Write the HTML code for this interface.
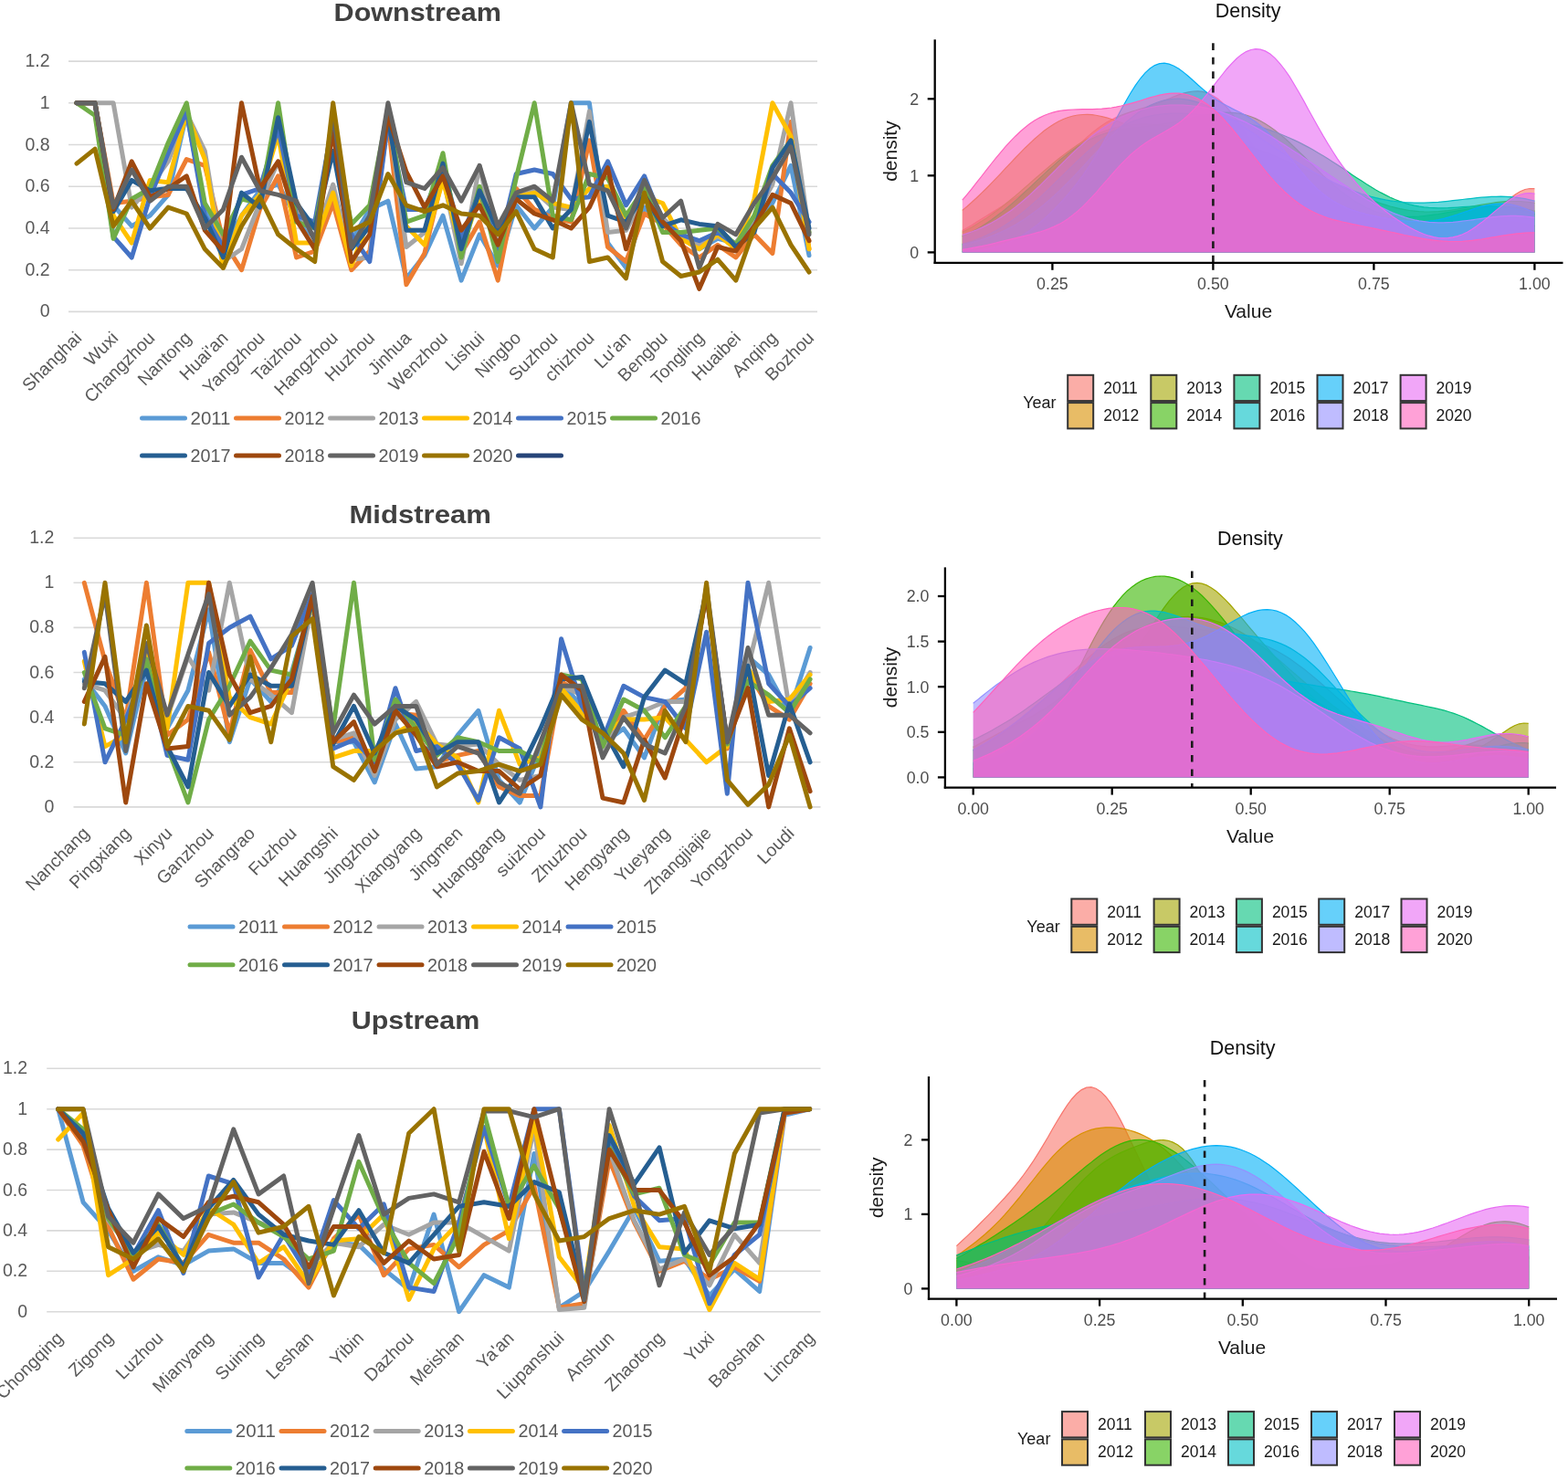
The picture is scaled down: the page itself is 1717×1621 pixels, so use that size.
<!DOCTYPE html><html><head><meta charset="utf-8"><style>html,body{margin:0;padding:0;background:#fff;}svg{display:block;}</style></head><body>
<svg width="1717" height="1621" viewBox="0 0 1717 1621" font-family="'Liberation Sans', Arial, sans-serif">
<rect width="1717" height="1621" fill="#fff"/>
<line x1="75" y1="341.4" x2="895" y2="341.4" stroke="#D9D9D9" stroke-width="1.6"/>
<text x="54.5" y="347.4" text-anchor="end" font-size="19.5" fill="#595959">0</text>
<line x1="75" y1="295.7" x2="895" y2="295.7" stroke="#D9D9D9" stroke-width="1.6"/>
<text x="54.5" y="301.7" text-anchor="end" font-size="19.5" fill="#595959">0.2</text>
<line x1="75" y1="250.0" x2="895" y2="250.0" stroke="#D9D9D9" stroke-width="1.6"/>
<text x="54.5" y="256.0" text-anchor="end" font-size="19.5" fill="#595959">0.4</text>
<line x1="75" y1="204.2" x2="895" y2="204.2" stroke="#D9D9D9" stroke-width="1.6"/>
<text x="54.5" y="210.2" text-anchor="end" font-size="19.5" fill="#595959">0.6</text>
<line x1="75" y1="158.5" x2="895" y2="158.5" stroke="#D9D9D9" stroke-width="1.6"/>
<text x="54.5" y="164.5" text-anchor="end" font-size="19.5" fill="#595959">0.8</text>
<line x1="75" y1="112.8" x2="895" y2="112.8" stroke="#D9D9D9" stroke-width="1.6"/>
<text x="54.5" y="118.8" text-anchor="end" font-size="19.5" fill="#595959">1</text>
<line x1="75" y1="67.1" x2="895" y2="67.1" stroke="#D9D9D9" stroke-width="1.6"/>
<text x="54.5" y="73.1" text-anchor="end" font-size="19.5" fill="#595959">1.2</text>
<text x="457.3" y="23.1" text-anchor="middle" font-size="28.5" font-weight="bold" fill="#404040" textLength="183.5" lengthAdjust="spacingAndGlyphs">Downstream</text>
<polyline points="84.0,112.8 104.0,112.8 124.1,224.8 144.2,247.7 164.2,236.2 184.2,213.4 204.3,124.2 224.3,227.1 244.4,272.8 264.5,236.2 284.5,208.8 304.6,202.0 324.6,238.5 344.7,261.4 364.7,220.2 384.8,263.7 404.8,229.4 424.9,220.2 444.9,304.8 464.9,279.7 485.0,236.2 505.1,307.1 525.1,256.8 545.2,291.1 565.2,224.8 585.2,250.0 605.3,227.1 625.4,112.8 645.4,112.8 665.5,266.0 685.5,293.4 705.6,227.1 725.6,245.4 745.6,259.1 765.7,272.8 785.8,261.4 805.8,266.0 825.9,245.4 845.9,222.5 866.0,181.4 886.0,279.7" fill="none" stroke="#5B9BD5" stroke-width="5" stroke-linejoin="round" stroke-linecap="round"/>
<polyline points="84.0,112.8 104.0,112.8 124.1,222.5 144.2,220.2 164.2,215.7 184.2,213.4 204.3,174.5 224.3,181.4 244.4,263.7 264.5,295.7 284.5,229.4 304.6,192.8 324.6,282.0 344.7,275.1 364.7,222.5 384.8,295.7 404.8,275.1 424.9,133.4 444.9,311.7 464.9,277.4 485.0,192.8 505.1,277.4 525.1,243.1 545.2,307.1 565.2,206.5 585.2,229.4 605.3,238.5 625.4,243.1 645.4,153.9 665.5,270.5 685.5,286.5 705.6,234.0 725.6,245.4 745.6,268.2 765.7,282.0 785.8,268.2 805.8,282.0 825.9,256.8 845.9,277.4 866.0,133.4 886.0,272.8" fill="none" stroke="#ED7D31" stroke-width="5" stroke-linejoin="round" stroke-linecap="round"/>
<polyline points="84.0,112.8 104.0,112.8 124.1,112.8 144.2,227.1 164.2,204.2 184.2,176.8 204.3,124.2 224.3,165.4 244.4,286.5 264.5,272.8 284.5,222.5 304.6,176.8 324.6,227.1 344.7,261.4 364.7,202.0 384.8,284.2 404.8,282.0 424.9,124.2 444.9,270.5 464.9,254.5 485.0,192.8 505.1,288.8 525.1,181.4 545.2,272.8 565.2,215.7 585.2,208.8 605.3,227.1 625.4,229.4 645.4,121.9 665.5,254.5 685.5,252.2 705.6,215.7 725.6,238.5 745.6,259.1 765.7,268.2 785.8,259.1 805.8,266.0 825.9,238.5 845.9,202.0 866.0,112.8 886.0,254.5" fill="none" stroke="#A5A5A5" stroke-width="5" stroke-linejoin="round" stroke-linecap="round"/>
<polyline points="84.0,112.8 104.0,112.8 124.1,236.2 144.2,266.0 164.2,197.4 184.2,199.7 204.3,124.2 224.3,174.5 244.4,293.4 264.5,236.2 284.5,213.4 304.6,147.1 324.6,266.0 344.7,266.0 364.7,211.1 384.8,291.1 404.8,238.5 424.9,128.8 444.9,247.7 464.9,268.2 485.0,197.4 505.1,272.8 525.1,215.7 545.2,272.8 565.2,215.7 585.2,211.1 605.3,222.5 625.4,227.1 645.4,206.5 665.5,204.2 685.5,238.5 705.6,215.7 725.6,222.5 745.6,261.4 765.7,272.8 785.8,256.8 805.8,272.8 825.9,218.0 845.9,112.8 866.0,149.4 886.0,272.8" fill="none" stroke="#FFC000" stroke-width="5" stroke-linejoin="round" stroke-linecap="round"/>
<polyline points="84.0,112.8 104.0,112.8 124.1,259.1 144.2,282.0 164.2,215.7 184.2,167.7 204.3,121.9 224.3,236.2 244.4,270.5 264.5,213.4 284.5,206.5 304.6,140.2 324.6,236.2 344.7,243.1 364.7,133.4 384.8,256.8 404.8,286.5 424.9,133.4 444.9,229.4 464.9,229.4 485.0,181.4 505.1,261.4 525.1,208.8 545.2,272.8 565.2,190.5 585.2,186.0 605.3,190.5 625.4,218.0 645.4,215.7 665.5,176.8 685.5,224.8 705.6,192.8 725.6,243.1 745.6,256.8 765.7,263.7 785.8,254.5 805.8,268.2 825.9,250.0 845.9,190.5 866.0,211.1 886.0,243.1" fill="none" stroke="#4472C4" stroke-width="5" stroke-linejoin="round" stroke-linecap="round"/>
<polyline points="84.0,112.8 104.0,126.5 124.1,261.4 144.2,218.0 164.2,206.5 184.2,156.2 204.3,112.8 224.3,222.5 244.4,256.8 264.5,218.0 284.5,222.5 304.6,112.8 324.6,243.1 344.7,250.0 364.7,140.2 384.8,245.4 404.8,224.8 424.9,119.7 444.9,243.1 464.9,236.2 485.0,167.7 505.1,282.0 525.1,204.2 545.2,286.5 565.2,195.1 585.2,112.8 605.3,236.2 625.4,240.8 645.4,190.5 665.5,195.1 685.5,236.2 705.6,206.5 725.6,254.5 745.6,254.5 765.7,252.2 785.8,250.0 805.8,268.2 825.9,236.2 845.9,181.4 866.0,153.9 886.0,254.5" fill="none" stroke="#70AD47" stroke-width="5" stroke-linejoin="round" stroke-linecap="round"/>
<polyline points="84.0,112.8 104.0,112.8 124.1,231.7 144.2,197.4 164.2,208.8 184.2,206.5 204.3,206.5 224.3,238.5 244.4,282.0 264.5,211.1 284.5,227.1 304.6,128.8 324.6,222.5 344.7,250.0 364.7,165.4 384.8,272.8 404.8,247.7 424.9,126.5 444.9,252.2 464.9,252.2 485.0,179.1 505.1,272.8 525.1,208.8 545.2,252.2 565.2,215.7 585.2,215.7 605.3,250.0 625.4,229.4 645.4,133.4 665.5,236.2 685.5,243.1 705.6,213.4 725.6,247.7 745.6,240.8 765.7,245.4 785.8,247.7 805.8,270.5 825.9,254.5 845.9,183.7 866.0,153.9 886.0,250.0" fill="none" stroke="#255E91" stroke-width="5" stroke-linejoin="round" stroke-linecap="round"/>
<polyline points="84.0,112.8 104.0,112.8 124.1,229.4 144.2,176.8 164.2,215.7 184.2,206.5 204.3,192.8 224.3,252.2 244.4,275.1 264.5,112.8 284.5,206.5 304.6,176.8 324.6,240.8 344.7,272.8 364.7,142.5 384.8,286.5 404.8,256.8 424.9,126.5 444.9,188.2 464.9,227.1 485.0,192.8 505.1,252.2 525.1,224.8 545.2,268.2 565.2,218.0 585.2,234.0 605.3,240.8 625.4,250.0 645.4,227.1 665.5,183.7 685.5,272.8 705.6,215.7 725.6,243.1 745.6,263.7 765.7,316.3 785.8,270.5 805.8,275.1 825.9,247.7 845.9,213.4 866.0,222.5 886.0,263.7" fill="none" stroke="#9E480E" stroke-width="5" stroke-linejoin="round" stroke-linecap="round"/>
<polyline points="84.0,112.8 104.0,112.8 124.1,227.1 144.2,186.0 164.2,220.2 184.2,204.2 204.3,204.2 224.3,250.0 244.4,229.4 264.5,172.2 284.5,208.8 304.6,213.4 324.6,220.2 344.7,263.7 364.7,124.2 384.8,270.5 404.8,236.2 424.9,112.8 444.9,199.7 464.9,206.5 485.0,183.7 505.1,220.2 525.1,181.4 545.2,247.7 565.2,211.1 585.2,204.2 605.3,220.2 625.4,112.8 645.4,202.0 665.5,208.8 685.5,250.0 705.6,197.4 725.6,238.5 745.6,220.2 765.7,293.4 785.8,245.4 805.8,256.8 825.9,222.5 845.9,195.1 866.0,160.8 886.0,256.8" fill="none" stroke="#636363" stroke-width="5" stroke-linejoin="round" stroke-linecap="round"/>
<polyline points="84.0,179.1 104.0,163.1 124.1,247.7 144.2,220.2 164.2,250.0 184.2,227.1 204.3,234.0 224.3,272.8 244.4,293.4 264.5,247.7 284.5,215.7 304.6,256.8 324.6,272.8 344.7,286.5 364.7,112.8 384.8,252.2 404.8,243.1 424.9,190.5 444.9,224.8 464.9,231.7 485.0,224.8 505.1,234.0 525.1,236.2 545.2,256.8 565.2,231.7 585.2,272.8 605.3,282.0 625.4,112.8 645.4,286.5 665.5,282.0 685.5,304.8 705.6,211.1 725.6,286.5 745.6,302.5 765.7,298.0 785.8,284.2 805.8,307.1 825.9,250.0 845.9,227.1 866.0,268.2 886.0,298.0" fill="none" stroke="#997300" stroke-width="5" stroke-linejoin="round" stroke-linecap="round"/>
<text transform="translate(90.5,371.4) rotate(-45)" text-anchor="end" font-size="19.5" fill="#595959">Shanghai</text>
<text transform="translate(130.6,371.4) rotate(-45)" text-anchor="end" font-size="19.5" fill="#595959">Wuxi</text>
<text transform="translate(170.7,371.4) rotate(-45)" text-anchor="end" font-size="19.5" fill="#595959">Changzhou</text>
<text transform="translate(210.8,371.4) rotate(-45)" text-anchor="end" font-size="19.5" fill="#595959">Nantong</text>
<text transform="translate(250.9,371.4) rotate(-45)" text-anchor="end" font-size="19.5" fill="#595959">Huai'an</text>
<text transform="translate(291.0,371.4) rotate(-45)" text-anchor="end" font-size="19.5" fill="#595959">Yangzhou</text>
<text transform="translate(331.1,371.4) rotate(-45)" text-anchor="end" font-size="19.5" fill="#595959">Taizhou</text>
<text transform="translate(371.2,371.4) rotate(-45)" text-anchor="end" font-size="19.5" fill="#595959">Hangzhou</text>
<text transform="translate(411.3,371.4) rotate(-45)" text-anchor="end" font-size="19.5" fill="#595959">Huzhou</text>
<text transform="translate(451.4,371.4) rotate(-45)" text-anchor="end" font-size="19.5" fill="#595959">Jinhua</text>
<text transform="translate(491.5,371.4) rotate(-45)" text-anchor="end" font-size="19.5" fill="#595959">Wenzhou</text>
<text transform="translate(531.6,371.4) rotate(-45)" text-anchor="end" font-size="19.5" fill="#595959">Lishui</text>
<text transform="translate(571.7,371.4) rotate(-45)" text-anchor="end" font-size="19.5" fill="#595959">Ningbo</text>
<text transform="translate(611.8,371.4) rotate(-45)" text-anchor="end" font-size="19.5" fill="#595959">Suzhou</text>
<text transform="translate(651.9,371.4) rotate(-45)" text-anchor="end" font-size="19.5" fill="#595959">chizhou</text>
<text transform="translate(692.0,371.4) rotate(-45)" text-anchor="end" font-size="19.5" fill="#595959">Lu'an</text>
<text transform="translate(732.1,371.4) rotate(-45)" text-anchor="end" font-size="19.5" fill="#595959">Bengbu</text>
<text transform="translate(772.2,371.4) rotate(-45)" text-anchor="end" font-size="19.5" fill="#595959">Tongling</text>
<text transform="translate(812.3,371.4) rotate(-45)" text-anchor="end" font-size="19.5" fill="#595959">Huaibei</text>
<text transform="translate(852.4,371.4) rotate(-45)" text-anchor="end" font-size="19.5" fill="#595959">Anqing</text>
<text transform="translate(892.5,371.4) rotate(-45)" text-anchor="end" font-size="19.5" fill="#595959">Bozhou</text>
<line x1="155.5" y1="458" x2="202.5" y2="458" stroke="#5B9BD5" stroke-width="5" stroke-linecap="round"/>
<text x="208.5" y="465" font-size="19.5" fill="#595959" textLength="44" lengthAdjust="spacingAndGlyphs">2011</text>
<line x1="258.5" y1="458" x2="305.5" y2="458" stroke="#ED7D31" stroke-width="5" stroke-linecap="round"/>
<text x="311.5" y="465" font-size="19.5" fill="#595959" textLength="44" lengthAdjust="spacingAndGlyphs">2012</text>
<line x1="361.5" y1="458" x2="408.5" y2="458" stroke="#A5A5A5" stroke-width="5" stroke-linecap="round"/>
<text x="414.5" y="465" font-size="19.5" fill="#595959" textLength="44" lengthAdjust="spacingAndGlyphs">2013</text>
<line x1="464.5" y1="458" x2="511.5" y2="458" stroke="#FFC000" stroke-width="5" stroke-linecap="round"/>
<text x="517.5" y="465" font-size="19.5" fill="#595959" textLength="44" lengthAdjust="spacingAndGlyphs">2014</text>
<line x1="567.5" y1="458" x2="614.5" y2="458" stroke="#4472C4" stroke-width="5" stroke-linecap="round"/>
<text x="620.5" y="465" font-size="19.5" fill="#595959" textLength="44" lengthAdjust="spacingAndGlyphs">2015</text>
<line x1="670.5" y1="458" x2="717.5" y2="458" stroke="#70AD47" stroke-width="5" stroke-linecap="round"/>
<text x="723.5" y="465" font-size="19.5" fill="#595959" textLength="44" lengthAdjust="spacingAndGlyphs">2016</text>
<line x1="155.5" y1="499" x2="202.5" y2="499" stroke="#255E91" stroke-width="5" stroke-linecap="round"/>
<text x="208.5" y="506" font-size="19.5" fill="#595959" textLength="44" lengthAdjust="spacingAndGlyphs">2017</text>
<line x1="258.5" y1="499" x2="305.5" y2="499" stroke="#9E480E" stroke-width="5" stroke-linecap="round"/>
<text x="311.5" y="506" font-size="19.5" fill="#595959" textLength="44" lengthAdjust="spacingAndGlyphs">2018</text>
<line x1="361.5" y1="499" x2="408.5" y2="499" stroke="#636363" stroke-width="5" stroke-linecap="round"/>
<text x="414.5" y="506" font-size="19.5" fill="#595959" textLength="44" lengthAdjust="spacingAndGlyphs">2019</text>
<line x1="464.5" y1="499" x2="511.5" y2="499" stroke="#997300" stroke-width="5" stroke-linecap="round"/>
<text x="517.5" y="506" font-size="19.5" fill="#595959" textLength="44" lengthAdjust="spacingAndGlyphs">2020</text>
<line x1="567.5" y1="499" x2="614.5" y2="499" stroke="#264478" stroke-width="5" stroke-linecap="round"/>
<line x1="80.5" y1="883.9" x2="898.5" y2="883.9" stroke="#D9D9D9" stroke-width="1.6"/>
<text x="59.3" y="889.9" text-anchor="end" font-size="19.5" fill="#595959">0</text>
<line x1="80.5" y1="834.8" x2="898.5" y2="834.8" stroke="#D9D9D9" stroke-width="1.6"/>
<text x="59.3" y="840.8" text-anchor="end" font-size="19.5" fill="#595959">0.2</text>
<line x1="80.5" y1="785.7" x2="898.5" y2="785.7" stroke="#D9D9D9" stroke-width="1.6"/>
<text x="59.3" y="791.7" text-anchor="end" font-size="19.5" fill="#595959">0.4</text>
<line x1="80.5" y1="736.5" x2="898.5" y2="736.5" stroke="#D9D9D9" stroke-width="1.6"/>
<text x="59.3" y="742.5" text-anchor="end" font-size="19.5" fill="#595959">0.6</text>
<line x1="80.5" y1="687.4" x2="898.5" y2="687.4" stroke="#D9D9D9" stroke-width="1.6"/>
<text x="59.3" y="693.4" text-anchor="end" font-size="19.5" fill="#595959">0.8</text>
<line x1="80.5" y1="638.3" x2="898.5" y2="638.3" stroke="#D9D9D9" stroke-width="1.6"/>
<text x="59.3" y="644.3" text-anchor="end" font-size="19.5" fill="#595959">1</text>
<line x1="80.5" y1="589.2" x2="898.5" y2="589.2" stroke="#D9D9D9" stroke-width="1.6"/>
<text x="59.3" y="595.2" text-anchor="end" font-size="19.5" fill="#595959">1.2</text>
<text x="460.2" y="573.0" text-anchor="middle" font-size="28.5" font-weight="bold" fill="#404040" textLength="155.5" lengthAdjust="spacingAndGlyphs">Midstream</text>
<polyline points="92.3,743.9 115.0,773.4 137.7,825.0 160.4,731.6 183.1,797.9 205.9,756.2 228.6,667.8 251.3,812.7 274.0,743.9 296.7,768.5 319.4,736.5 342.1,657.9 364.8,812.7 387.5,812.7 410.2,856.9 433.0,793.0 455.7,842.1 478.4,839.7 501.1,805.3 523.8,778.3 546.5,854.4 569.2,879.0 591.9,822.5 614.6,748.8 637.3,773.4 660.0,815.1 682.8,797.9 705.5,829.9 728.2,768.5 750.9,766.0 773.6,650.6 796.3,815.1 819.0,719.3 841.7,739.0 864.4,780.7 887.1,709.5" fill="none" stroke="#5B9BD5" stroke-width="5" stroke-linejoin="round" stroke-linecap="round"/>
<polyline points="92.3,638.3 115.0,724.3 137.7,788.1 160.4,638.3 183.1,805.3 205.9,788.1 228.6,714.4 251.3,802.9 274.0,712.0 296.7,758.6 319.4,758.6 342.1,657.9 364.8,812.7 387.5,807.8 410.2,844.6 433.0,780.7 455.7,783.2 478.4,834.8 501.1,827.4 523.8,822.5 546.5,861.8 569.2,871.6 591.9,871.6 614.6,746.4 637.3,761.1 660.0,815.1 682.8,778.3 705.5,810.2 728.2,773.4 750.9,753.7 773.6,650.6 796.3,820.0 819.0,736.5 841.7,773.4 864.4,788.1 887.1,748.8" fill="none" stroke="#ED7D31" stroke-width="5" stroke-linejoin="round" stroke-linecap="round"/>
<polyline points="92.3,748.8 115.0,756.2 137.7,788.1 160.4,716.9 183.1,785.7 205.9,719.3 228.6,756.2 251.3,638.3 274.0,743.9 296.7,761.1 319.4,780.7 342.1,657.9 364.8,810.2 387.5,802.9 410.2,849.5 433.0,788.1 455.7,768.5 478.4,815.1 501.1,817.6 523.8,815.1 546.5,837.2 569.2,854.4 591.9,849.5 614.6,751.3 637.3,761.1 660.0,822.5 682.8,785.7 705.5,778.3 728.2,768.5 750.9,768.5 773.6,650.6 796.3,810.2 819.0,731.6 841.7,638.3 864.4,775.8 887.1,736.5" fill="none" stroke="#A5A5A5" stroke-width="5" stroke-linejoin="round" stroke-linecap="round"/>
<polyline points="92.3,724.3 115.0,817.6 137.7,805.3 160.4,716.9 183.1,797.9 205.9,638.3 228.6,638.3 251.3,763.6 274.0,785.7 296.7,793.0 319.4,743.9 342.1,657.9 364.8,829.9 387.5,822.5 410.2,822.5 433.0,802.9 455.7,790.6 478.4,815.1 501.1,829.9 523.8,879.0 546.5,778.3 569.2,837.2 591.9,829.9 614.6,753.7 637.3,780.7 660.0,805.3 682.8,788.1 705.5,788.1 728.2,785.7 750.9,810.2 773.6,834.8 796.3,817.6 819.0,731.6 841.7,768.5 864.4,766.0 887.1,739.0" fill="none" stroke="#FFC000" stroke-width="5" stroke-linejoin="round" stroke-linecap="round"/>
<polyline points="92.3,714.4 115.0,834.8 137.7,788.1 160.4,731.6 183.1,827.4 205.9,832.3 228.6,704.6 251.3,687.4 274.0,675.1 296.7,721.8 319.4,707.1 342.1,650.6 364.8,820.0 387.5,810.2 410.2,834.8 433.0,753.7 455.7,822.5 478.4,817.6 501.1,837.2 523.8,876.5 546.5,807.8 569.2,820.0 591.9,883.9 614.6,699.7 637.3,773.4 660.0,810.2 682.8,751.3 705.5,763.6 728.2,768.5 750.9,797.9 773.6,692.3 796.3,869.2 819.0,638.3 841.7,748.8 864.4,773.4 887.1,753.7" fill="none" stroke="#4472C4" stroke-width="5" stroke-linejoin="round" stroke-linecap="round"/>
<polyline points="92.3,736.5 115.0,797.9 137.7,805.3 160.4,721.8 183.1,817.6 205.9,879.0 228.6,788.1 251.3,751.3 274.0,702.2 296.7,734.1 319.4,739.0 342.1,657.9 364.8,797.9 387.5,638.3 410.2,832.3 433.0,766.0 455.7,797.9 478.4,827.4 501.1,807.8 523.8,812.7 546.5,822.5 569.2,822.5 591.9,834.8 614.6,739.0 637.3,743.9 660.0,817.6 682.8,766.0 705.5,778.3 728.2,807.8 750.9,773.4 773.6,650.6 796.3,815.1 819.0,746.4 841.7,761.1 864.4,780.7 887.1,743.9" fill="none" stroke="#70AD47" stroke-width="5" stroke-linejoin="round" stroke-linecap="round"/>
<polyline points="92.3,746.4 115.0,748.8 137.7,768.5 160.4,734.1 183.1,817.6 205.9,861.8 228.6,736.5 251.3,773.4 274.0,739.0 296.7,751.3 319.4,751.3 342.1,655.5 364.8,815.1 387.5,773.4 410.2,825.0 433.0,773.4 455.7,788.1 478.4,825.0 501.1,812.7 523.8,812.7 546.5,879.0 569.2,844.6 591.9,797.9 614.6,743.9 637.3,741.5 660.0,797.9 682.8,839.7 705.5,763.6 728.2,734.1 750.9,748.8 773.6,648.1 796.3,812.7 819.0,729.2 841.7,849.5 864.4,770.9 887.1,834.8" fill="none" stroke="#255E91" stroke-width="5" stroke-linejoin="round" stroke-linecap="round"/>
<polyline points="92.3,768.5 115.0,719.3 137.7,879.0 160.4,748.8 183.1,820.0 205.9,817.6 228.6,638.3 251.3,739.0 274.0,780.7 296.7,773.4 319.4,743.9 342.1,653.0 364.8,812.7 387.5,790.6 410.2,844.6 433.0,778.3 455.7,805.3 478.4,839.7 501.1,834.8 523.8,844.6 546.5,844.6 569.2,864.3 591.9,849.5 614.6,739.0 637.3,756.2 660.0,874.1 682.8,879.0 705.5,810.2 728.2,852.0 750.9,780.7 773.6,650.6 796.3,812.7 819.0,753.7 841.7,883.9 864.4,797.9 887.1,866.7" fill="none" stroke="#9E480E" stroke-width="5" stroke-linejoin="round" stroke-linecap="round"/>
<polyline points="92.3,753.7 115.0,650.6 137.7,822.5 160.4,704.6 183.1,783.2 205.9,716.9 228.6,650.6 251.3,783.2 274.0,763.6 296.7,731.6 319.4,694.8 342.1,638.3 364.8,802.9 387.5,761.1 410.2,793.0 433.0,773.4 455.7,773.4 478.4,837.2 501.1,817.6 523.8,825.0 546.5,856.9 569.2,869.2 591.9,812.7 614.6,751.3 637.3,751.3 660.0,829.9 682.8,785.7 705.5,815.1 728.2,825.0 750.9,773.4 773.6,643.2 796.3,812.7 819.0,709.5 841.7,783.2 864.4,783.2 887.1,802.9" fill="none" stroke="#636363" stroke-width="5" stroke-linejoin="round" stroke-linecap="round"/>
<polyline points="92.3,793.0 115.0,638.3 137.7,812.7 160.4,685.0 183.1,817.6 205.9,773.4 228.6,778.3 251.3,810.2 274.0,719.3 296.7,812.7 319.4,697.2 342.1,677.6 364.8,839.7 387.5,854.4 410.2,822.5 433.0,802.9 455.7,797.9 478.4,861.8 501.1,847.1 523.8,844.6 546.5,837.2 569.2,844.6 591.9,837.2 614.6,761.1 637.3,788.1 660.0,802.9 682.8,825.0 705.5,876.5 728.2,778.3 750.9,812.7 773.6,638.3 796.3,854.4 819.0,881.4 841.7,859.3 864.4,805.3 887.1,883.9" fill="none" stroke="#997300" stroke-width="5" stroke-linejoin="round" stroke-linecap="round"/>
<text transform="translate(98.8,913.9) rotate(-45)" text-anchor="end" font-size="19.5" fill="#595959">Nanchang</text>
<text transform="translate(144.2,913.9) rotate(-45)" text-anchor="end" font-size="19.5" fill="#595959">Pingxiang</text>
<text transform="translate(189.6,913.9) rotate(-45)" text-anchor="end" font-size="19.5" fill="#595959">Xinyu</text>
<text transform="translate(235.1,913.9) rotate(-45)" text-anchor="end" font-size="19.5" fill="#595959">Ganzhou</text>
<text transform="translate(280.5,913.9) rotate(-45)" text-anchor="end" font-size="19.5" fill="#595959">Shangrao</text>
<text transform="translate(325.9,913.9) rotate(-45)" text-anchor="end" font-size="19.5" fill="#595959">Fuzhou</text>
<text transform="translate(371.3,913.9) rotate(-45)" text-anchor="end" font-size="19.5" fill="#595959">Huangshi</text>
<text transform="translate(416.7,913.9) rotate(-45)" text-anchor="end" font-size="19.5" fill="#595959">Jingzhou</text>
<text transform="translate(462.2,913.9) rotate(-45)" text-anchor="end" font-size="19.5" fill="#595959">Xiangyang</text>
<text transform="translate(507.6,913.9) rotate(-45)" text-anchor="end" font-size="19.5" fill="#595959">Jingmen</text>
<text transform="translate(553.0,913.9) rotate(-45)" text-anchor="end" font-size="19.5" fill="#595959">Huanggang</text>
<text transform="translate(598.4,913.9) rotate(-45)" text-anchor="end" font-size="19.5" fill="#595959">suizhou</text>
<text transform="translate(643.8,913.9) rotate(-45)" text-anchor="end" font-size="19.5" fill="#595959">Zhuzhou</text>
<text transform="translate(689.3,913.9) rotate(-45)" text-anchor="end" font-size="19.5" fill="#595959">Hengyang</text>
<text transform="translate(734.7,913.9) rotate(-45)" text-anchor="end" font-size="19.5" fill="#595959">Yueyang</text>
<text transform="translate(780.1,913.9) rotate(-45)" text-anchor="end" font-size="19.5" fill="#595959">Zhangjiajie</text>
<text transform="translate(825.5,913.9) rotate(-45)" text-anchor="end" font-size="19.5" fill="#595959">Yongzhou</text>
<text transform="translate(870.9,913.9) rotate(-45)" text-anchor="end" font-size="19.5" fill="#595959">Loudi</text>
<line x1="208.0" y1="1015" x2="255.0" y2="1015" stroke="#5B9BD5" stroke-width="5" stroke-linecap="round"/>
<text x="261.0" y="1022" font-size="19.5" fill="#595959" textLength="44" lengthAdjust="spacingAndGlyphs">2011</text>
<line x1="311.5" y1="1015" x2="358.5" y2="1015" stroke="#ED7D31" stroke-width="5" stroke-linecap="round"/>
<text x="364.5" y="1022" font-size="19.5" fill="#595959" textLength="44" lengthAdjust="spacingAndGlyphs">2012</text>
<line x1="415.0" y1="1015" x2="462.0" y2="1015" stroke="#A5A5A5" stroke-width="5" stroke-linecap="round"/>
<text x="468.0" y="1022" font-size="19.5" fill="#595959" textLength="44" lengthAdjust="spacingAndGlyphs">2013</text>
<line x1="518.5" y1="1015" x2="565.5" y2="1015" stroke="#FFC000" stroke-width="5" stroke-linecap="round"/>
<text x="571.5" y="1022" font-size="19.5" fill="#595959" textLength="44" lengthAdjust="spacingAndGlyphs">2014</text>
<line x1="622.0" y1="1015" x2="669.0" y2="1015" stroke="#4472C4" stroke-width="5" stroke-linecap="round"/>
<text x="675.0" y="1022" font-size="19.5" fill="#595959" textLength="44" lengthAdjust="spacingAndGlyphs">2015</text>
<line x1="208.0" y1="1056.7" x2="255.0" y2="1056.7" stroke="#70AD47" stroke-width="5" stroke-linecap="round"/>
<text x="261.0" y="1063.7" font-size="19.5" fill="#595959" textLength="44" lengthAdjust="spacingAndGlyphs">2016</text>
<line x1="311.5" y1="1056.7" x2="358.5" y2="1056.7" stroke="#255E91" stroke-width="5" stroke-linecap="round"/>
<text x="364.5" y="1063.7" font-size="19.5" fill="#595959" textLength="44" lengthAdjust="spacingAndGlyphs">2017</text>
<line x1="415.0" y1="1056.7" x2="462.0" y2="1056.7" stroke="#9E480E" stroke-width="5" stroke-linecap="round"/>
<text x="468.0" y="1063.7" font-size="19.5" fill="#595959" textLength="44" lengthAdjust="spacingAndGlyphs">2018</text>
<line x1="518.5" y1="1056.7" x2="565.5" y2="1056.7" stroke="#636363" stroke-width="5" stroke-linecap="round"/>
<text x="571.5" y="1063.7" font-size="19.5" fill="#595959" textLength="44" lengthAdjust="spacingAndGlyphs">2019</text>
<line x1="622.0" y1="1056.7" x2="669.0" y2="1056.7" stroke="#997300" stroke-width="5" stroke-linecap="round"/>
<text x="675.0" y="1063.7" font-size="19.5" fill="#595959" textLength="44" lengthAdjust="spacingAndGlyphs">2020</text>
<line x1="51.2" y1="1436.7" x2="898.5" y2="1436.7" stroke="#D9D9D9" stroke-width="1.6"/>
<text x="30" y="1442.7" text-anchor="end" font-size="19.5" fill="#595959">0</text>
<line x1="51.2" y1="1392.3" x2="898.5" y2="1392.3" stroke="#D9D9D9" stroke-width="1.6"/>
<text x="30" y="1398.3" text-anchor="end" font-size="19.5" fill="#595959">0.2</text>
<line x1="51.2" y1="1347.9" x2="898.5" y2="1347.9" stroke="#D9D9D9" stroke-width="1.6"/>
<text x="30" y="1353.9" text-anchor="end" font-size="19.5" fill="#595959">0.4</text>
<line x1="51.2" y1="1303.5" x2="898.5" y2="1303.5" stroke="#D9D9D9" stroke-width="1.6"/>
<text x="30" y="1309.5" text-anchor="end" font-size="19.5" fill="#595959">0.6</text>
<line x1="51.2" y1="1259.1" x2="898.5" y2="1259.1" stroke="#D9D9D9" stroke-width="1.6"/>
<text x="30" y="1265.1" text-anchor="end" font-size="19.5" fill="#595959">0.8</text>
<line x1="51.2" y1="1214.7" x2="898.5" y2="1214.7" stroke="#D9D9D9" stroke-width="1.6"/>
<text x="30" y="1220.7" text-anchor="end" font-size="19.5" fill="#595959">1</text>
<line x1="51.2" y1="1170.3" x2="898.5" y2="1170.3" stroke="#D9D9D9" stroke-width="1.6"/>
<text x="30" y="1176.3" text-anchor="end" font-size="19.5" fill="#595959">1.2</text>
<text x="455" y="1127" text-anchor="middle" font-size="28.5" font-weight="bold" fill="#404040" textLength="140.5" lengthAdjust="spacingAndGlyphs">Upstream</text>
<polyline points="63.7,1214.7 91.1,1316.8 118.6,1347.9 146.0,1392.3 173.4,1376.8 200.9,1385.6 228.3,1370.1 255.7,1367.9 283.1,1383.4 310.6,1383.4 338.0,1403.4 365.4,1361.2 392.9,1363.4 420.3,1390.1 447.7,1412.3 475.1,1330.1 502.6,1436.7 530.0,1396.7 557.4,1410.1 584.9,1263.5 612.3,1432.3 639.7,1414.5 667.2,1370.1 694.6,1323.5 722.0,1381.2 749.5,1379.0 776.9,1418.9 804.3,1390.1 831.7,1414.5 859.2,1221.4 886.6,1214.7" fill="none" stroke="#5B9BD5" stroke-width="5" stroke-linejoin="round" stroke-linecap="round"/>
<polyline points="63.7,1214.7 91.1,1254.7 118.6,1343.5 146.0,1401.2 173.4,1379.0 200.9,1383.4 228.3,1352.3 255.7,1361.2 283.1,1361.2 310.6,1379.0 338.0,1410.1 365.4,1356.8 392.9,1330.1 420.3,1396.7 447.7,1367.9 475.1,1363.4 502.6,1387.9 530.0,1363.4 557.4,1347.9 584.9,1299.1 612.3,1432.3 639.7,1427.8 667.2,1270.2 694.6,1339.0 722.0,1392.3 749.5,1381.2 776.9,1401.2 804.3,1387.9 831.7,1403.4 859.2,1219.1 886.6,1214.7" fill="none" stroke="#ED7D31" stroke-width="5" stroke-linejoin="round" stroke-linecap="round"/>
<polyline points="63.7,1214.7 91.1,1245.8 118.6,1336.8 146.0,1372.3 173.4,1363.4 200.9,1370.1 228.3,1330.1 255.7,1327.9 283.1,1339.0 310.6,1347.9 338.0,1387.9 365.4,1361.2 392.9,1365.7 420.3,1341.2 447.7,1352.3 475.1,1339.0 502.6,1339.0 530.0,1354.6 557.4,1370.1 584.9,1234.7 612.3,1434.5 639.7,1432.3 667.2,1259.1 694.6,1336.8 722.0,1390.1 749.5,1379.0 776.9,1407.8 804.3,1352.3 831.7,1383.4 859.2,1214.7 886.6,1214.7" fill="none" stroke="#A5A5A5" stroke-width="5" stroke-linejoin="round" stroke-linecap="round"/>
<polyline points="63.7,1248.0 91.1,1219.1 118.6,1396.7 146.0,1379.0 173.4,1350.1 200.9,1374.5 228.3,1323.5 255.7,1341.2 283.1,1383.4 310.6,1365.7 338.0,1405.6 365.4,1359.0 392.9,1356.8 420.3,1330.1 447.7,1423.4 475.1,1367.9 502.6,1339.0 530.0,1234.7 557.4,1356.8 584.9,1228.0 612.3,1376.8 639.7,1412.3 667.2,1232.5 694.6,1321.3 722.0,1365.7 749.5,1367.9 776.9,1434.5 804.3,1383.4 831.7,1401.2 859.2,1214.7 886.6,1214.7" fill="none" stroke="#FFC000" stroke-width="5" stroke-linejoin="round" stroke-linecap="round"/>
<polyline points="63.7,1214.7 91.1,1243.6 118.6,1330.1 146.0,1374.5 173.4,1325.7 200.9,1394.5 228.3,1288.0 255.7,1296.8 283.1,1399.0 310.6,1352.3 338.0,1396.7 365.4,1314.6 392.9,1345.7 420.3,1319.0 447.7,1410.1 475.1,1414.5 502.6,1339.0 530.0,1234.7 557.4,1321.3 584.9,1214.7 612.3,1214.7 639.7,1414.5 667.2,1250.2 694.6,1310.2 722.0,1336.8 749.5,1334.6 776.9,1427.8 804.3,1374.5 831.7,1352.3 859.2,1214.7 886.6,1214.7" fill="none" stroke="#4472C4" stroke-width="5" stroke-linejoin="round" stroke-linecap="round"/>
<polyline points="63.7,1214.7 91.1,1236.9 118.6,1334.6 146.0,1374.5 173.4,1341.2 200.9,1387.9 228.3,1330.1 255.7,1319.0 283.1,1339.0 310.6,1354.6 338.0,1379.0 365.4,1370.1 392.9,1272.4 420.3,1334.6 447.7,1383.4 475.1,1405.6 502.6,1352.3 530.0,1219.1 557.4,1321.3 584.9,1276.9 612.3,1323.5 639.7,1414.5 667.2,1256.9 694.6,1307.9 722.0,1301.3 749.5,1374.5 776.9,1385.6 804.3,1339.0 831.7,1339.0 859.2,1214.7 886.6,1214.7" fill="none" stroke="#70AD47" stroke-width="5" stroke-linejoin="round" stroke-linecap="round"/>
<polyline points="63.7,1214.7 91.1,1241.3 118.6,1323.5 146.0,1372.3 173.4,1343.5 200.9,1387.9 228.3,1323.5 255.7,1292.4 283.1,1330.1 310.6,1352.3 338.0,1359.0 365.4,1363.4 392.9,1325.7 420.3,1372.3 447.7,1383.4 475.1,1352.3 502.6,1321.3 530.0,1316.8 557.4,1321.3 584.9,1294.6 612.3,1305.7 639.7,1418.9 667.2,1243.6 694.6,1296.8 722.0,1256.9 749.5,1372.3 776.9,1336.8 804.3,1345.7 831.7,1341.2 859.2,1214.7 886.6,1214.7" fill="none" stroke="#255E91" stroke-width="5" stroke-linejoin="round" stroke-linecap="round"/>
<polyline points="63.7,1214.7 91.1,1250.2 118.6,1325.7 146.0,1387.9 173.4,1334.6 200.9,1354.6 228.3,1316.8 255.7,1310.2 283.1,1316.8 310.6,1341.2 338.0,1387.9 365.4,1343.5 392.9,1343.5 420.3,1383.4 447.7,1359.0 475.1,1379.0 502.6,1374.5 530.0,1261.3 557.4,1334.6 584.9,1214.7 612.3,1323.5 639.7,1425.6 667.2,1259.1 694.6,1303.5 722.0,1303.5 749.5,1339.0 776.9,1396.7 804.3,1376.8 831.7,1339.0 859.2,1219.1 886.6,1214.7" fill="none" stroke="#9E480E" stroke-width="5" stroke-linejoin="round" stroke-linecap="round"/>
<polyline points="63.7,1214.7 91.1,1214.7 118.6,1332.4 146.0,1361.2 173.4,1307.9 200.9,1334.6 228.3,1321.3 255.7,1236.9 283.1,1307.9 310.6,1288.0 338.0,1405.6 365.4,1323.5 392.9,1243.6 420.3,1330.1 447.7,1312.4 475.1,1307.9 502.6,1316.8 530.0,1216.9 557.4,1216.9 584.9,1223.6 612.3,1214.7 639.7,1423.4 667.2,1214.7 694.6,1301.3 722.0,1407.8 749.5,1327.9 776.9,1374.5 804.3,1343.5 831.7,1219.1 859.2,1214.7 886.6,1214.7" fill="none" stroke="#636363" stroke-width="5" stroke-linejoin="round" stroke-linecap="round"/>
<polyline points="63.7,1214.7 91.1,1214.7 118.6,1365.7 146.0,1379.0 173.4,1356.8 200.9,1392.3 228.3,1334.6 255.7,1294.6 283.1,1350.1 310.6,1343.5 338.0,1321.3 365.4,1418.9 392.9,1354.6 420.3,1372.3 447.7,1241.3 475.1,1214.7 502.6,1370.1 530.0,1214.7 557.4,1214.7 584.9,1307.9 612.3,1359.0 639.7,1354.6 667.2,1334.6 694.6,1325.7 722.0,1330.1 749.5,1321.3 776.9,1392.3 804.3,1263.5 831.7,1214.7 859.2,1214.7 886.6,1214.7" fill="none" stroke="#997300" stroke-width="5" stroke-linejoin="round" stroke-linecap="round"/>
<text transform="translate(70.2,1466.7) rotate(-45)" text-anchor="end" font-size="19.5" fill="#595959">Chongqing</text>
<text transform="translate(125.1,1466.7) rotate(-45)" text-anchor="end" font-size="19.5" fill="#595959">Zigong</text>
<text transform="translate(179.9,1466.7) rotate(-45)" text-anchor="end" font-size="19.5" fill="#595959">Luzhou</text>
<text transform="translate(234.8,1466.7) rotate(-45)" text-anchor="end" font-size="19.5" fill="#595959">Mianyang</text>
<text transform="translate(289.6,1466.7) rotate(-45)" text-anchor="end" font-size="19.5" fill="#595959">Suining</text>
<text transform="translate(344.5,1466.7) rotate(-45)" text-anchor="end" font-size="19.5" fill="#595959">Leshan</text>
<text transform="translate(399.4,1466.7) rotate(-45)" text-anchor="end" font-size="19.5" fill="#595959">Yibin</text>
<text transform="translate(454.2,1466.7) rotate(-45)" text-anchor="end" font-size="19.5" fill="#595959">Dazhou</text>
<text transform="translate(509.1,1466.7) rotate(-45)" text-anchor="end" font-size="19.5" fill="#595959">Meishan</text>
<text transform="translate(563.9,1466.7) rotate(-45)" text-anchor="end" font-size="19.5" fill="#595959">Ya'an</text>
<text transform="translate(618.8,1466.7) rotate(-45)" text-anchor="end" font-size="19.5" fill="#595959">Liupanshui</text>
<text transform="translate(673.7,1466.7) rotate(-45)" text-anchor="end" font-size="19.5" fill="#595959">Anshun</text>
<text transform="translate(728.5,1466.7) rotate(-45)" text-anchor="end" font-size="19.5" fill="#595959">Zhaotong</text>
<text transform="translate(783.4,1466.7) rotate(-45)" text-anchor="end" font-size="19.5" fill="#595959">Yuxi</text>
<text transform="translate(838.2,1466.7) rotate(-45)" text-anchor="end" font-size="19.5" fill="#595959">Baoshan</text>
<text transform="translate(893.1,1466.7) rotate(-45)" text-anchor="end" font-size="19.5" fill="#595959">Lincang</text>
<line x1="204.8" y1="1567.4" x2="251.8" y2="1567.4" stroke="#5B9BD5" stroke-width="5" stroke-linecap="round"/>
<text x="257.8" y="1574.4" font-size="19.5" fill="#595959" textLength="44" lengthAdjust="spacingAndGlyphs">2011</text>
<line x1="308.0" y1="1567.4" x2="355.0" y2="1567.4" stroke="#ED7D31" stroke-width="5" stroke-linecap="round"/>
<text x="361.0" y="1574.4" font-size="19.5" fill="#595959" textLength="44" lengthAdjust="spacingAndGlyphs">2012</text>
<line x1="411.20000000000005" y1="1567.4" x2="458.20000000000005" y2="1567.4" stroke="#A5A5A5" stroke-width="5" stroke-linecap="round"/>
<text x="464.20000000000005" y="1574.4" font-size="19.5" fill="#595959" textLength="44" lengthAdjust="spacingAndGlyphs">2013</text>
<line x1="514.4000000000001" y1="1567.4" x2="561.4000000000001" y2="1567.4" stroke="#FFC000" stroke-width="5" stroke-linecap="round"/>
<text x="567.4000000000001" y="1574.4" font-size="19.5" fill="#595959" textLength="44" lengthAdjust="spacingAndGlyphs">2014</text>
<line x1="617.6" y1="1567.4" x2="664.6" y2="1567.4" stroke="#4472C4" stroke-width="5" stroke-linecap="round"/>
<text x="670.6" y="1574.4" font-size="19.5" fill="#595959" textLength="44" lengthAdjust="spacingAndGlyphs">2015</text>
<line x1="204.8" y1="1608" x2="251.8" y2="1608" stroke="#70AD47" stroke-width="5" stroke-linecap="round"/>
<text x="257.8" y="1615" font-size="19.5" fill="#595959" textLength="44" lengthAdjust="spacingAndGlyphs">2016</text>
<line x1="308.0" y1="1608" x2="355.0" y2="1608" stroke="#255E91" stroke-width="5" stroke-linecap="round"/>
<text x="361.0" y="1615" font-size="19.5" fill="#595959" textLength="44" lengthAdjust="spacingAndGlyphs">2017</text>
<line x1="411.20000000000005" y1="1608" x2="458.20000000000005" y2="1608" stroke="#9E480E" stroke-width="5" stroke-linecap="round"/>
<text x="464.20000000000005" y="1615" font-size="19.5" fill="#595959" textLength="44" lengthAdjust="spacingAndGlyphs">2018</text>
<line x1="514.4000000000001" y1="1608" x2="561.4000000000001" y2="1608" stroke="#636363" stroke-width="5" stroke-linecap="round"/>
<text x="567.4000000000001" y="1615" font-size="19.5" fill="#595959" textLength="44" lengthAdjust="spacingAndGlyphs">2019</text>
<line x1="617.6" y1="1608" x2="664.6" y2="1608" stroke="#997300" stroke-width="5" stroke-linecap="round"/>
<text x="670.6" y="1615" font-size="19.5" fill="#595959" textLength="44" lengthAdjust="spacingAndGlyphs">2020</text>
<path d="M1053.8,276.4 L1053.8,252.6 L1059.1,249.6 L1064.4,246.4 L1069.6,243.1 L1074.9,239.8 L1080.2,236.6 L1085.4,233.3 L1090.7,230.0 L1096.0,226.8 L1101.2,223.6 L1106.5,220.3 L1111.8,217.1 L1117.0,213.7 L1122.3,210.2 L1127.6,206.6 L1132.8,202.8 L1138.1,198.7 L1143.3,194.4 L1148.6,189.9 L1153.9,185.2 L1159.1,180.3 L1164.4,175.2 L1169.7,170.0 L1174.9,164.9 L1180.2,159.7 L1185.5,154.7 L1190.7,149.9 L1196.0,145.4 L1201.3,141.3 L1206.5,137.5 L1211.8,134.1 L1217.1,131.2 L1222.3,128.6 L1227.6,126.3 L1232.9,124.4 L1238.1,122.6 L1243.4,121.0 L1248.7,119.3 L1253.9,117.7 L1259.2,116.0 L1264.4,114.2 L1269.7,112.2 L1275.0,110.1 L1280.2,108.0 L1285.5,105.9 L1290.8,103.9 L1296.0,102.2 L1301.3,100.8 L1306.6,100.0 L1311.8,99.8 L1317.1,100.4 L1322.4,101.9 L1327.6,104.4 L1332.9,107.8 L1338.2,112.3 L1343.4,117.7 L1348.7,124.0 L1354.0,131.1 L1359.2,138.8 L1364.5,147.1 L1369.8,155.7 L1375.0,164.5 L1380.3,173.4 L1385.5,182.1 L1390.8,190.5 L1396.1,198.6 L1401.3,206.2 L1406.6,213.2 L1411.9,219.7 L1417.1,225.6 L1422.4,230.9 L1427.7,235.6 L1432.9,239.8 L1438.2,243.4 L1443.5,246.6 L1448.7,249.4 L1454.0,251.9 L1459.3,254.0 L1464.5,256.0 L1469.8,257.7 L1475.1,259.3 L1480.3,260.8 L1485.6,262.3 L1490.9,263.6 L1496.1,265.0 L1501.4,266.2 L1506.6,267.4 L1511.9,268.5 L1517.2,269.5 L1522.4,270.5 L1527.7,271.3 L1533.0,271.9 L1538.2,272.4 L1543.5,272.8 L1548.8,273.0 L1554.0,273.0 L1559.3,272.7 L1564.6,272.3 L1569.8,271.6 L1575.1,270.6 L1580.4,269.3 L1585.6,267.7 L1590.9,265.8 L1596.2,263.4 L1601.4,260.7 L1606.7,257.6 L1612.0,254.2 L1617.2,250.3 L1622.5,246.0 L1627.7,241.4 L1633.0,236.5 L1638.3,231.5 L1643.5,226.4 L1648.8,221.5 L1654.1,217.0 L1659.3,213.0 L1664.6,209.7 L1669.9,207.5 L1675.1,206.5 L1680.4,206.7 L1680.4,276.4 Z" fill="#F8766D" fill-opacity="0.6" stroke="none"/>
<path d="M1053.8,252.6 L1059.1,249.6 L1064.4,246.4 L1069.6,243.1 L1074.9,239.8 L1080.2,236.6 L1085.4,233.3 L1090.7,230.0 L1096.0,226.8 L1101.2,223.6 L1106.5,220.3 L1111.8,217.1 L1117.0,213.7 L1122.3,210.2 L1127.6,206.6 L1132.8,202.8 L1138.1,198.7 L1143.3,194.4 L1148.6,189.9 L1153.9,185.2 L1159.1,180.3 L1164.4,175.2 L1169.7,170.0 L1174.9,164.9 L1180.2,159.7 L1185.5,154.7 L1190.7,149.9 L1196.0,145.4 L1201.3,141.3 L1206.5,137.5 L1211.8,134.1 L1217.1,131.2 L1222.3,128.6 L1227.6,126.3 L1232.9,124.4 L1238.1,122.6 L1243.4,121.0 L1248.7,119.3 L1253.9,117.7 L1259.2,116.0 L1264.4,114.2 L1269.7,112.2 L1275.0,110.1 L1280.2,108.0 L1285.5,105.9 L1290.8,103.9 L1296.0,102.2 L1301.3,100.8 L1306.6,100.0 L1311.8,99.8 L1317.1,100.4 L1322.4,101.9 L1327.6,104.4 L1332.9,107.8 L1338.2,112.3 L1343.4,117.7 L1348.7,124.0 L1354.0,131.1 L1359.2,138.8 L1364.5,147.1 L1369.8,155.7 L1375.0,164.5 L1380.3,173.4 L1385.5,182.1 L1390.8,190.5 L1396.1,198.6 L1401.3,206.2 L1406.6,213.2 L1411.9,219.7 L1417.1,225.6 L1422.4,230.9 L1427.7,235.6 L1432.9,239.8 L1438.2,243.4 L1443.5,246.6 L1448.7,249.4 L1454.0,251.9 L1459.3,254.0 L1464.5,256.0 L1469.8,257.7 L1475.1,259.3 L1480.3,260.8 L1485.6,262.3 L1490.9,263.6 L1496.1,265.0 L1501.4,266.2 L1506.6,267.4 L1511.9,268.5 L1517.2,269.5 L1522.4,270.5 L1527.7,271.3 L1533.0,271.9 L1538.2,272.4 L1543.5,272.8 L1548.8,273.0 L1554.0,273.0 L1559.3,272.7 L1564.6,272.3 L1569.8,271.6 L1575.1,270.6 L1580.4,269.3 L1585.6,267.7 L1590.9,265.8 L1596.2,263.4 L1601.4,260.7 L1606.7,257.6 L1612.0,254.2 L1617.2,250.3 L1622.5,246.0 L1627.7,241.4 L1633.0,236.5 L1638.3,231.5 L1643.5,226.4 L1648.8,221.5 L1654.1,217.0 L1659.3,213.0 L1664.6,209.7 L1669.9,207.5 L1675.1,206.5 L1680.4,206.7" fill="none" stroke="#F8766D" stroke-width="1.2"/>
<path d="M1053.8,276.4 L1053.8,230.4 L1059.1,226.0 L1064.4,221.3 L1069.6,216.5 L1074.9,211.4 L1080.2,206.2 L1085.4,200.9 L1090.7,195.4 L1096.0,189.8 L1101.2,184.2 L1106.5,178.6 L1111.8,173.0 L1117.0,167.6 L1122.3,162.2 L1127.6,157.1 L1132.8,152.2 L1138.1,147.6 L1143.3,143.3 L1148.6,139.5 L1153.9,136.0 L1159.1,133.0 L1164.4,130.5 L1169.7,128.5 L1174.9,127.0 L1180.2,126.0 L1185.5,125.5 L1190.7,125.4 L1196.0,125.7 L1201.3,126.5 L1206.5,127.6 L1211.8,128.9 L1217.1,130.5 L1222.3,132.3 L1227.6,134.2 L1232.9,136.2 L1238.1,138.2 L1243.4,140.2 L1248.7,142.1 L1253.9,144.0 L1259.2,145.8 L1264.4,147.5 L1269.7,149.0 L1275.0,150.4 L1280.2,151.8 L1285.5,153.0 L1290.8,154.2 L1296.0,155.3 L1301.3,156.4 L1306.6,157.6 L1311.8,158.7 L1317.1,159.9 L1322.4,161.2 L1327.6,162.6 L1332.9,164.2 L1338.2,165.8 L1343.4,167.6 L1348.7,169.6 L1354.0,171.6 L1359.2,173.9 L1364.5,176.2 L1369.8,178.6 L1375.0,181.2 L1380.3,183.8 L1385.5,186.5 L1390.8,189.2 L1396.1,192.0 L1401.3,194.7 L1406.6,197.4 L1411.9,200.2 L1417.1,202.8 L1422.4,205.5 L1427.7,208.0 L1432.9,210.5 L1438.2,213.0 L1443.5,215.3 L1448.7,217.6 L1454.0,219.8 L1459.3,221.9 L1464.5,223.9 L1469.8,225.8 L1475.1,227.6 L1480.3,229.4 L1485.6,231.0 L1490.9,232.6 L1496.1,234.0 L1501.4,235.4 L1506.6,236.6 L1511.9,237.8 L1517.2,238.8 L1522.4,239.7 L1527.7,240.5 L1533.0,241.1 L1538.2,241.7 L1543.5,242.1 L1548.8,242.4 L1554.0,242.7 L1559.3,242.8 L1564.6,242.8 L1569.8,242.8 L1575.1,242.7 L1580.4,242.6 L1585.6,242.4 L1590.9,242.2 L1596.2,242.0 L1601.4,241.8 L1606.7,241.6 L1612.0,241.4 L1617.2,241.3 L1622.5,241.3 L1627.7,241.4 L1633.0,241.5 L1638.3,241.7 L1643.5,242.0 L1648.8,242.4 L1654.1,243.0 L1659.3,243.6 L1664.6,244.4 L1669.9,245.3 L1675.1,246.2 L1680.4,247.3 L1680.4,276.4 Z" fill="#D89000" fill-opacity="0.6" stroke="none"/>
<path d="M1053.8,230.4 L1059.1,226.0 L1064.4,221.3 L1069.6,216.5 L1074.9,211.4 L1080.2,206.2 L1085.4,200.9 L1090.7,195.4 L1096.0,189.8 L1101.2,184.2 L1106.5,178.6 L1111.8,173.0 L1117.0,167.6 L1122.3,162.2 L1127.6,157.1 L1132.8,152.2 L1138.1,147.6 L1143.3,143.3 L1148.6,139.5 L1153.9,136.0 L1159.1,133.0 L1164.4,130.5 L1169.7,128.5 L1174.9,127.0 L1180.2,126.0 L1185.5,125.5 L1190.7,125.4 L1196.0,125.7 L1201.3,126.5 L1206.5,127.6 L1211.8,128.9 L1217.1,130.5 L1222.3,132.3 L1227.6,134.2 L1232.9,136.2 L1238.1,138.2 L1243.4,140.2 L1248.7,142.1 L1253.9,144.0 L1259.2,145.8 L1264.4,147.5 L1269.7,149.0 L1275.0,150.4 L1280.2,151.8 L1285.5,153.0 L1290.8,154.2 L1296.0,155.3 L1301.3,156.4 L1306.6,157.6 L1311.8,158.7 L1317.1,159.9 L1322.4,161.2 L1327.6,162.6 L1332.9,164.2 L1338.2,165.8 L1343.4,167.6 L1348.7,169.6 L1354.0,171.6 L1359.2,173.9 L1364.5,176.2 L1369.8,178.6 L1375.0,181.2 L1380.3,183.8 L1385.5,186.5 L1390.8,189.2 L1396.1,192.0 L1401.3,194.7 L1406.6,197.4 L1411.9,200.2 L1417.1,202.8 L1422.4,205.5 L1427.7,208.0 L1432.9,210.5 L1438.2,213.0 L1443.5,215.3 L1448.7,217.6 L1454.0,219.8 L1459.3,221.9 L1464.5,223.9 L1469.8,225.8 L1475.1,227.6 L1480.3,229.4 L1485.6,231.0 L1490.9,232.6 L1496.1,234.0 L1501.4,235.4 L1506.6,236.6 L1511.9,237.8 L1517.2,238.8 L1522.4,239.7 L1527.7,240.5 L1533.0,241.1 L1538.2,241.7 L1543.5,242.1 L1548.8,242.4 L1554.0,242.7 L1559.3,242.8 L1564.6,242.8 L1569.8,242.8 L1575.1,242.7 L1580.4,242.6 L1585.6,242.4 L1590.9,242.2 L1596.2,242.0 L1601.4,241.8 L1606.7,241.6 L1612.0,241.4 L1617.2,241.3 L1622.5,241.3 L1627.7,241.4 L1633.0,241.5 L1638.3,241.7 L1643.5,242.0 L1648.8,242.4 L1654.1,243.0 L1659.3,243.6 L1664.6,244.4 L1669.9,245.3 L1675.1,246.2 L1680.4,247.3" fill="none" stroke="#D89000" stroke-width="1.2"/>
<path d="M1053.8,276.4 L1053.8,254.2 L1059.1,251.5 L1064.4,248.7 L1069.6,245.6 L1074.9,242.3 L1080.2,238.9 L1085.4,235.2 L1090.7,231.4 L1096.0,227.4 L1101.2,223.3 L1106.5,219.0 L1111.8,214.6 L1117.0,210.1 L1122.3,205.5 L1127.6,200.9 L1132.8,196.3 L1138.1,191.7 L1143.3,187.2 L1148.6,182.7 L1153.9,178.3 L1159.1,174.0 L1164.4,169.9 L1169.7,165.9 L1174.9,162.2 L1180.2,158.6 L1185.5,155.3 L1190.7,152.3 L1196.0,149.5 L1201.3,147.0 L1206.5,144.7 L1211.8,142.8 L1217.1,141.1 L1222.3,139.6 L1227.6,138.5 L1232.9,137.6 L1238.1,136.9 L1243.4,136.5 L1248.7,136.2 L1253.9,136.2 L1259.2,136.4 L1264.4,136.7 L1269.7,137.1 L1275.0,137.7 L1280.2,138.4 L1285.5,139.2 L1290.8,140.1 L1296.0,141.0 L1301.3,142.1 L1306.6,143.2 L1311.8,144.3 L1317.1,145.5 L1322.4,146.8 L1327.6,148.1 L1332.9,149.5 L1338.2,151.0 L1343.4,152.5 L1348.7,154.0 L1354.0,155.6 L1359.2,157.3 L1364.5,159.1 L1369.8,160.9 L1375.0,162.8 L1380.3,164.7 L1385.5,166.7 L1390.8,168.8 L1396.1,171.0 L1401.3,173.2 L1406.6,175.5 L1411.9,177.8 L1417.1,180.2 L1422.4,182.6 L1427.7,185.1 L1432.9,187.6 L1438.2,190.1 L1443.5,192.6 L1448.7,195.1 L1454.0,197.7 L1459.3,200.2 L1464.5,202.7 L1469.8,205.2 L1475.1,207.6 L1480.3,210.0 L1485.6,212.4 L1490.9,214.6 L1496.1,216.8 L1501.4,218.9 L1506.6,220.9 L1511.9,222.7 L1517.2,224.4 L1522.4,226.0 L1527.7,227.3 L1533.0,228.6 L1538.2,229.6 L1543.5,230.5 L1548.8,231.1 L1554.0,231.6 L1559.3,231.9 L1564.6,232.0 L1569.8,231.8 L1575.1,231.6 L1580.4,231.1 L1585.6,230.6 L1590.9,229.8 L1596.2,229.0 L1601.4,228.1 L1606.7,227.2 L1612.0,226.2 L1617.2,225.2 L1622.5,224.2 L1627.7,223.3 L1633.0,222.5 L1638.3,221.7 L1643.5,221.2 L1648.8,220.7 L1654.1,220.5 L1659.3,220.5 L1664.6,220.6 L1669.9,221.0 L1675.1,221.6 L1680.4,222.4 L1680.4,276.4 Z" fill="#A3A500" fill-opacity="0.6" stroke="none"/>
<path d="M1053.8,254.2 L1059.1,251.5 L1064.4,248.7 L1069.6,245.6 L1074.9,242.3 L1080.2,238.9 L1085.4,235.2 L1090.7,231.4 L1096.0,227.4 L1101.2,223.3 L1106.5,219.0 L1111.8,214.6 L1117.0,210.1 L1122.3,205.5 L1127.6,200.9 L1132.8,196.3 L1138.1,191.7 L1143.3,187.2 L1148.6,182.7 L1153.9,178.3 L1159.1,174.0 L1164.4,169.9 L1169.7,165.9 L1174.9,162.2 L1180.2,158.6 L1185.5,155.3 L1190.7,152.3 L1196.0,149.5 L1201.3,147.0 L1206.5,144.7 L1211.8,142.8 L1217.1,141.1 L1222.3,139.6 L1227.6,138.5 L1232.9,137.6 L1238.1,136.9 L1243.4,136.5 L1248.7,136.2 L1253.9,136.2 L1259.2,136.4 L1264.4,136.7 L1269.7,137.1 L1275.0,137.7 L1280.2,138.4 L1285.5,139.2 L1290.8,140.1 L1296.0,141.0 L1301.3,142.1 L1306.6,143.2 L1311.8,144.3 L1317.1,145.5 L1322.4,146.8 L1327.6,148.1 L1332.9,149.5 L1338.2,151.0 L1343.4,152.5 L1348.7,154.0 L1354.0,155.6 L1359.2,157.3 L1364.5,159.1 L1369.8,160.9 L1375.0,162.8 L1380.3,164.7 L1385.5,166.7 L1390.8,168.8 L1396.1,171.0 L1401.3,173.2 L1406.6,175.5 L1411.9,177.8 L1417.1,180.2 L1422.4,182.6 L1427.7,185.1 L1432.9,187.6 L1438.2,190.1 L1443.5,192.6 L1448.7,195.1 L1454.0,197.7 L1459.3,200.2 L1464.5,202.7 L1469.8,205.2 L1475.1,207.6 L1480.3,210.0 L1485.6,212.4 L1490.9,214.6 L1496.1,216.8 L1501.4,218.9 L1506.6,220.9 L1511.9,222.7 L1517.2,224.4 L1522.4,226.0 L1527.7,227.3 L1533.0,228.6 L1538.2,229.6 L1543.5,230.5 L1548.8,231.1 L1554.0,231.6 L1559.3,231.9 L1564.6,232.0 L1569.8,231.8 L1575.1,231.6 L1580.4,231.1 L1585.6,230.6 L1590.9,229.8 L1596.2,229.0 L1601.4,228.1 L1606.7,227.2 L1612.0,226.2 L1617.2,225.2 L1622.5,224.2 L1627.7,223.3 L1633.0,222.5 L1638.3,221.7 L1643.5,221.2 L1648.8,220.7 L1654.1,220.5 L1659.3,220.5 L1664.6,220.6 L1669.9,221.0 L1675.1,221.6 L1680.4,222.4" fill="none" stroke="#A3A500" stroke-width="1.2"/>
<path d="M1053.8,276.4 L1053.8,258.9 L1059.1,256.5 L1064.4,253.8 L1069.6,251.0 L1074.9,247.9 L1080.2,244.5 L1085.4,241.0 L1090.7,237.1 L1096.0,233.1 L1101.2,228.9 L1106.5,224.5 L1111.8,219.9 L1117.0,215.2 L1122.3,210.3 L1127.6,205.4 L1132.8,200.5 L1138.1,195.5 L1143.3,190.6 L1148.6,185.8 L1153.9,181.1 L1159.1,176.5 L1164.4,172.1 L1169.7,168.0 L1174.9,164.2 L1180.2,160.6 L1185.5,157.3 L1190.7,154.3 L1196.0,151.7 L1201.3,149.4 L1206.5,147.3 L1211.8,145.6 L1217.1,144.1 L1222.3,142.9 L1227.6,141.9 L1232.9,141.0 L1238.1,140.3 L1243.4,139.6 L1248.7,139.0 L1253.9,138.4 L1259.2,137.8 L1264.4,137.1 L1269.7,136.4 L1275.0,135.5 L1280.2,134.6 L1285.5,133.6 L1290.8,132.5 L1296.0,131.3 L1301.3,130.1 L1306.6,128.9 L1311.8,127.7 L1317.1,126.5 L1322.4,125.5 L1327.6,124.6 L1332.9,123.9 L1338.2,123.4 L1343.4,123.2 L1348.7,123.3 L1354.0,123.8 L1359.2,124.7 L1364.5,126.0 L1369.8,127.7 L1375.0,129.9 L1380.3,132.5 L1385.5,135.5 L1390.8,138.9 L1396.1,142.7 L1401.3,146.9 L1406.6,151.3 L1411.9,156.0 L1417.1,161.0 L1422.4,166.1 L1427.7,171.3 L1432.9,176.5 L1438.2,181.8 L1443.5,187.0 L1448.7,192.1 L1454.0,197.0 L1459.3,201.8 L1464.5,206.3 L1469.8,210.6 L1475.1,214.6 L1480.3,218.3 L1485.6,221.6 L1490.9,224.6 L1496.1,227.3 L1501.4,229.7 L1506.6,231.7 L1511.9,233.3 L1517.2,234.7 L1522.4,235.8 L1527.7,236.6 L1533.0,237.1 L1538.2,237.4 L1543.5,237.4 L1548.8,237.3 L1554.0,237.0 L1559.3,236.5 L1564.6,235.9 L1569.8,235.2 L1575.1,234.5 L1580.4,233.6 L1585.6,232.7 L1590.9,231.8 L1596.2,230.9 L1601.4,230.0 L1606.7,229.2 L1612.0,228.4 L1617.2,227.7 L1622.5,227.1 L1627.7,226.7 L1633.0,226.3 L1638.3,226.1 L1643.5,226.1 L1648.8,226.3 L1654.1,226.6 L1659.3,227.2 L1664.6,227.9 L1669.9,228.8 L1675.1,229.9 L1680.4,231.2 L1680.4,276.4 Z" fill="#39B600" fill-opacity="0.6" stroke="none"/>
<path d="M1053.8,258.9 L1059.1,256.5 L1064.4,253.8 L1069.6,251.0 L1074.9,247.9 L1080.2,244.5 L1085.4,241.0 L1090.7,237.1 L1096.0,233.1 L1101.2,228.9 L1106.5,224.5 L1111.8,219.9 L1117.0,215.2 L1122.3,210.3 L1127.6,205.4 L1132.8,200.5 L1138.1,195.5 L1143.3,190.6 L1148.6,185.8 L1153.9,181.1 L1159.1,176.5 L1164.4,172.1 L1169.7,168.0 L1174.9,164.2 L1180.2,160.6 L1185.5,157.3 L1190.7,154.3 L1196.0,151.7 L1201.3,149.4 L1206.5,147.3 L1211.8,145.6 L1217.1,144.1 L1222.3,142.9 L1227.6,141.9 L1232.9,141.0 L1238.1,140.3 L1243.4,139.6 L1248.7,139.0 L1253.9,138.4 L1259.2,137.8 L1264.4,137.1 L1269.7,136.4 L1275.0,135.5 L1280.2,134.6 L1285.5,133.6 L1290.8,132.5 L1296.0,131.3 L1301.3,130.1 L1306.6,128.9 L1311.8,127.7 L1317.1,126.5 L1322.4,125.5 L1327.6,124.6 L1332.9,123.9 L1338.2,123.4 L1343.4,123.2 L1348.7,123.3 L1354.0,123.8 L1359.2,124.7 L1364.5,126.0 L1369.8,127.7 L1375.0,129.9 L1380.3,132.5 L1385.5,135.5 L1390.8,138.9 L1396.1,142.7 L1401.3,146.9 L1406.6,151.3 L1411.9,156.0 L1417.1,161.0 L1422.4,166.1 L1427.7,171.3 L1432.9,176.5 L1438.2,181.8 L1443.5,187.0 L1448.7,192.1 L1454.0,197.0 L1459.3,201.8 L1464.5,206.3 L1469.8,210.6 L1475.1,214.6 L1480.3,218.3 L1485.6,221.6 L1490.9,224.6 L1496.1,227.3 L1501.4,229.7 L1506.6,231.7 L1511.9,233.3 L1517.2,234.7 L1522.4,235.8 L1527.7,236.6 L1533.0,237.1 L1538.2,237.4 L1543.5,237.4 L1548.8,237.3 L1554.0,237.0 L1559.3,236.5 L1564.6,235.9 L1569.8,235.2 L1575.1,234.5 L1580.4,233.6 L1585.6,232.7 L1590.9,231.8 L1596.2,230.9 L1601.4,230.0 L1606.7,229.2 L1612.0,228.4 L1617.2,227.7 L1622.5,227.1 L1627.7,226.7 L1633.0,226.3 L1638.3,226.1 L1643.5,226.1 L1648.8,226.3 L1654.1,226.6 L1659.3,227.2 L1664.6,227.9 L1669.9,228.8 L1675.1,229.9 L1680.4,231.2" fill="none" stroke="#39B600" stroke-width="1.2"/>
<path d="M1053.8,276.4 L1053.8,267.4 L1059.1,265.9 L1064.4,264.2 L1069.6,262.3 L1074.9,260.2 L1080.2,257.9 L1085.4,255.3 L1090.7,252.5 L1096.0,249.5 L1101.2,246.2 L1106.5,242.7 L1111.8,238.9 L1117.0,234.9 L1122.3,230.7 L1127.6,226.3 L1132.8,221.6 L1138.1,216.9 L1143.3,211.9 L1148.6,206.9 L1153.9,201.8 L1159.1,196.6 L1164.4,191.4 L1169.7,186.2 L1174.9,181.1 L1180.2,176.0 L1185.5,171.1 L1190.7,166.3 L1196.0,161.6 L1201.3,157.2 L1206.5,153.1 L1211.8,149.2 L1217.1,145.5 L1222.3,142.2 L1227.6,139.1 L1232.9,136.4 L1238.1,133.9 L1243.4,131.8 L1248.7,130.0 L1253.9,128.4 L1259.2,127.1 L1264.4,126.1 L1269.7,125.3 L1275.0,124.7 L1280.2,124.3 L1285.5,124.2 L1290.8,124.1 L1296.0,124.3 L1301.3,124.5 L1306.6,124.9 L1311.8,125.4 L1317.1,125.9 L1322.4,126.6 L1327.6,127.3 L1332.9,128.2 L1338.2,129.1 L1343.4,130.0 L1348.7,131.1 L1354.0,132.2 L1359.2,133.4 L1364.5,134.7 L1369.8,136.1 L1375.0,137.6 L1380.3,139.1 L1385.5,140.8 L1390.8,142.6 L1396.1,144.5 L1401.3,146.5 L1406.6,148.7 L1411.9,151.0 L1417.1,153.4 L1422.4,155.9 L1427.7,158.6 L1432.9,161.4 L1438.2,164.3 L1443.5,167.4 L1448.7,170.5 L1454.0,173.8 L1459.3,177.2 L1464.5,180.6 L1469.8,184.1 L1475.1,187.6 L1480.3,191.2 L1485.6,194.7 L1490.9,198.1 L1496.1,201.5 L1501.4,204.8 L1506.6,207.9 L1511.9,210.9 L1517.2,213.6 L1522.4,216.2 L1527.7,218.5 L1533.0,220.6 L1538.2,222.4 L1543.5,223.9 L1548.8,225.2 L1554.0,226.2 L1559.3,226.9 L1564.6,227.4 L1569.8,227.7 L1575.1,227.9 L1580.4,227.8 L1585.6,227.7 L1590.9,227.4 L1596.2,227.1 L1601.4,226.7 L1606.7,226.3 L1612.0,226.0 L1617.2,225.8 L1622.5,225.6 L1627.7,225.6 L1633.0,225.7 L1638.3,226.0 L1643.5,226.5 L1648.8,227.1 L1654.1,227.9 L1659.3,228.9 L1664.6,230.1 L1669.9,231.5 L1675.1,233.0 L1680.4,234.7 L1680.4,276.4 Z" fill="#00BF7D" fill-opacity="0.6" stroke="none"/>
<path d="M1053.8,267.4 L1059.1,265.9 L1064.4,264.2 L1069.6,262.3 L1074.9,260.2 L1080.2,257.9 L1085.4,255.3 L1090.7,252.5 L1096.0,249.5 L1101.2,246.2 L1106.5,242.7 L1111.8,238.9 L1117.0,234.9 L1122.3,230.7 L1127.6,226.3 L1132.8,221.6 L1138.1,216.9 L1143.3,211.9 L1148.6,206.9 L1153.9,201.8 L1159.1,196.6 L1164.4,191.4 L1169.7,186.2 L1174.9,181.1 L1180.2,176.0 L1185.5,171.1 L1190.7,166.3 L1196.0,161.6 L1201.3,157.2 L1206.5,153.1 L1211.8,149.2 L1217.1,145.5 L1222.3,142.2 L1227.6,139.1 L1232.9,136.4 L1238.1,133.9 L1243.4,131.8 L1248.7,130.0 L1253.9,128.4 L1259.2,127.1 L1264.4,126.1 L1269.7,125.3 L1275.0,124.7 L1280.2,124.3 L1285.5,124.2 L1290.8,124.1 L1296.0,124.3 L1301.3,124.5 L1306.6,124.9 L1311.8,125.4 L1317.1,125.9 L1322.4,126.6 L1327.6,127.3 L1332.9,128.2 L1338.2,129.1 L1343.4,130.0 L1348.7,131.1 L1354.0,132.2 L1359.2,133.4 L1364.5,134.7 L1369.8,136.1 L1375.0,137.6 L1380.3,139.1 L1385.5,140.8 L1390.8,142.6 L1396.1,144.5 L1401.3,146.5 L1406.6,148.7 L1411.9,151.0 L1417.1,153.4 L1422.4,155.9 L1427.7,158.6 L1432.9,161.4 L1438.2,164.3 L1443.5,167.4 L1448.7,170.5 L1454.0,173.8 L1459.3,177.2 L1464.5,180.6 L1469.8,184.1 L1475.1,187.6 L1480.3,191.2 L1485.6,194.7 L1490.9,198.1 L1496.1,201.5 L1501.4,204.8 L1506.6,207.9 L1511.9,210.9 L1517.2,213.6 L1522.4,216.2 L1527.7,218.5 L1533.0,220.6 L1538.2,222.4 L1543.5,223.9 L1548.8,225.2 L1554.0,226.2 L1559.3,226.9 L1564.6,227.4 L1569.8,227.7 L1575.1,227.9 L1580.4,227.8 L1585.6,227.7 L1590.9,227.4 L1596.2,227.1 L1601.4,226.7 L1606.7,226.3 L1612.0,226.0 L1617.2,225.8 L1622.5,225.6 L1627.7,225.6 L1633.0,225.7 L1638.3,226.0 L1643.5,226.5 L1648.8,227.1 L1654.1,227.9 L1659.3,228.9 L1664.6,230.1 L1669.9,231.5 L1675.1,233.0 L1680.4,234.7" fill="none" stroke="#00BF7D" stroke-width="1.2"/>
<path d="M1053.8,276.4 L1053.8,268.2 L1059.1,267.0 L1064.4,265.6 L1069.6,264.1 L1074.9,262.5 L1080.2,260.7 L1085.4,258.8 L1090.7,256.6 L1096.0,254.3 L1101.2,251.8 L1106.5,249.1 L1111.8,246.2 L1117.0,243.0 L1122.3,239.7 L1127.6,236.1 L1132.8,232.3 L1138.1,228.2 L1143.3,224.0 L1148.6,219.5 L1153.9,214.8 L1159.1,209.9 L1164.4,204.8 L1169.7,199.5 L1174.9,194.1 L1180.2,188.6 L1185.5,182.9 L1190.7,177.2 L1196.0,171.5 L1201.3,165.8 L1206.5,160.1 L1211.8,154.5 L1217.1,149.1 L1222.3,143.8 L1227.6,138.8 L1232.9,134.0 L1238.1,129.6 L1243.4,125.5 L1248.7,121.8 L1253.9,118.5 L1259.2,115.6 L1264.4,113.2 L1269.7,111.3 L1275.0,109.8 L1280.2,108.8 L1285.5,108.3 L1290.8,108.2 L1296.0,108.6 L1301.3,109.4 L1306.6,110.6 L1311.8,112.1 L1317.1,114.0 L1322.4,116.2 L1327.6,118.7 L1332.9,121.3 L1338.2,124.2 L1343.4,127.3 L1348.7,130.5 L1354.0,133.8 L1359.2,137.2 L1364.5,140.7 L1369.8,144.2 L1375.0,147.8 L1380.3,151.3 L1385.5,154.9 L1390.8,158.4 L1396.1,161.9 L1401.3,165.4 L1406.6,168.9 L1411.9,172.2 L1417.1,175.6 L1422.4,178.8 L1427.7,182.0 L1432.9,185.1 L1438.2,188.2 L1443.5,191.1 L1448.7,193.9 L1454.0,196.6 L1459.3,199.3 L1464.5,201.7 L1469.8,204.1 L1475.1,206.3 L1480.3,208.4 L1485.6,210.4 L1490.9,212.2 L1496.1,213.8 L1501.4,215.3 L1506.6,216.6 L1511.9,217.8 L1517.2,218.9 L1522.4,219.8 L1527.7,220.5 L1533.0,221.1 L1538.2,221.6 L1543.5,221.9 L1548.8,222.1 L1554.0,222.1 L1559.3,222.1 L1564.6,221.9 L1569.8,221.6 L1575.1,221.3 L1580.4,220.8 L1585.6,220.3 L1590.9,219.7 L1596.2,219.1 L1601.4,218.5 L1606.7,217.9 L1612.0,217.3 L1617.2,216.7 L1622.5,216.2 L1627.7,215.8 L1633.0,215.4 L1638.3,215.3 L1643.5,215.2 L1648.8,215.3 L1654.1,215.6 L1659.3,216.1 L1664.6,216.8 L1669.9,217.7 L1675.1,218.8 L1680.4,220.1 L1680.4,276.4 Z" fill="#00BFC4" fill-opacity="0.6" stroke="none"/>
<path d="M1053.8,268.2 L1059.1,267.0 L1064.4,265.6 L1069.6,264.1 L1074.9,262.5 L1080.2,260.7 L1085.4,258.8 L1090.7,256.6 L1096.0,254.3 L1101.2,251.8 L1106.5,249.1 L1111.8,246.2 L1117.0,243.0 L1122.3,239.7 L1127.6,236.1 L1132.8,232.3 L1138.1,228.2 L1143.3,224.0 L1148.6,219.5 L1153.9,214.8 L1159.1,209.9 L1164.4,204.8 L1169.7,199.5 L1174.9,194.1 L1180.2,188.6 L1185.5,182.9 L1190.7,177.2 L1196.0,171.5 L1201.3,165.8 L1206.5,160.1 L1211.8,154.5 L1217.1,149.1 L1222.3,143.8 L1227.6,138.8 L1232.9,134.0 L1238.1,129.6 L1243.4,125.5 L1248.7,121.8 L1253.9,118.5 L1259.2,115.6 L1264.4,113.2 L1269.7,111.3 L1275.0,109.8 L1280.2,108.8 L1285.5,108.3 L1290.8,108.2 L1296.0,108.6 L1301.3,109.4 L1306.6,110.6 L1311.8,112.1 L1317.1,114.0 L1322.4,116.2 L1327.6,118.7 L1332.9,121.3 L1338.2,124.2 L1343.4,127.3 L1348.7,130.5 L1354.0,133.8 L1359.2,137.2 L1364.5,140.7 L1369.8,144.2 L1375.0,147.8 L1380.3,151.3 L1385.5,154.9 L1390.8,158.4 L1396.1,161.9 L1401.3,165.4 L1406.6,168.9 L1411.9,172.2 L1417.1,175.6 L1422.4,178.8 L1427.7,182.0 L1432.9,185.1 L1438.2,188.2 L1443.5,191.1 L1448.7,193.9 L1454.0,196.6 L1459.3,199.3 L1464.5,201.7 L1469.8,204.1 L1475.1,206.3 L1480.3,208.4 L1485.6,210.4 L1490.9,212.2 L1496.1,213.8 L1501.4,215.3 L1506.6,216.6 L1511.9,217.8 L1517.2,218.9 L1522.4,219.8 L1527.7,220.5 L1533.0,221.1 L1538.2,221.6 L1543.5,221.9 L1548.8,222.1 L1554.0,222.1 L1559.3,222.1 L1564.6,221.9 L1569.8,221.6 L1575.1,221.3 L1580.4,220.8 L1585.6,220.3 L1590.9,219.7 L1596.2,219.1 L1601.4,218.5 L1606.7,217.9 L1612.0,217.3 L1617.2,216.7 L1622.5,216.2 L1627.7,215.8 L1633.0,215.4 L1638.3,215.3 L1643.5,215.2 L1648.8,215.3 L1654.1,215.6 L1659.3,216.1 L1664.6,216.8 L1669.9,217.7 L1675.1,218.8 L1680.4,220.1" fill="none" stroke="#00BFC4" stroke-width="1.2"/>
<path d="M1053.8,276.4 L1053.8,275.6 L1059.1,275.2 L1064.4,274.8 L1069.6,274.3 L1074.9,273.6 L1080.2,272.7 L1085.4,271.7 L1090.7,270.3 L1096.0,268.8 L1101.2,266.9 L1106.5,264.7 L1111.8,262.2 L1117.0,259.3 L1122.3,256.1 L1127.6,252.5 L1132.8,248.6 L1138.1,244.4 L1143.3,239.8 L1148.6,235.0 L1153.9,229.8 L1159.1,224.4 L1164.4,218.7 L1169.7,212.7 L1174.9,206.3 L1180.2,199.6 L1185.5,192.4 L1190.7,184.8 L1196.0,176.7 L1201.3,168.1 L1206.5,159.1 L1211.8,149.7 L1217.1,140.0 L1222.3,130.1 L1227.6,120.3 L1232.9,110.7 L1238.1,101.7 L1243.4,93.4 L1248.7,86.0 L1253.9,79.8 L1259.2,75.0 L1264.4,71.6 L1269.7,69.7 L1275.0,69.2 L1280.2,70.1 L1285.5,72.2 L1290.8,75.3 L1296.0,79.1 L1301.3,83.5 L1306.6,88.2 L1311.8,93.0 L1317.1,97.6 L1322.4,102.0 L1327.6,106.0 L1332.9,109.7 L1338.2,112.9 L1343.4,115.8 L1348.7,118.6 L1354.0,121.2 L1359.2,123.8 L1364.5,126.7 L1369.8,129.9 L1375.0,133.5 L1380.3,137.6 L1385.5,142.2 L1390.8,147.4 L1396.1,153.0 L1401.3,159.1 L1406.6,165.4 L1411.9,172.0 L1417.1,178.5 L1422.4,185.0 L1427.7,191.2 L1432.9,197.1 L1438.2,202.6 L1443.5,207.7 L1448.7,212.2 L1454.0,216.2 L1459.3,219.8 L1464.5,222.8 L1469.8,225.5 L1475.1,227.8 L1480.3,229.9 L1485.6,231.6 L1490.9,233.2 L1496.1,234.6 L1501.4,235.8 L1506.6,236.9 L1511.9,238.0 L1517.2,238.9 L1522.4,239.8 L1527.7,240.6 L1533.0,241.3 L1538.2,241.9 L1543.5,242.3 L1548.8,242.5 L1554.0,242.6 L1559.3,242.5 L1564.6,242.1 L1569.8,241.5 L1575.1,240.6 L1580.4,239.5 L1585.6,238.1 L1590.9,236.5 L1596.2,234.8 L1601.4,233.0 L1606.7,231.2 L1612.0,229.4 L1617.2,227.7 L1622.5,226.1 L1627.7,224.9 L1633.0,223.9 L1638.3,223.3 L1643.5,223.1 L1648.8,223.3 L1654.1,223.9 L1659.3,225.0 L1664.6,226.5 L1669.9,228.4 L1675.1,230.6 L1680.4,233.1 L1680.4,276.4 Z" fill="#00B0F6" fill-opacity="0.6" stroke="none"/>
<path d="M1053.8,275.6 L1059.1,275.2 L1064.4,274.8 L1069.6,274.3 L1074.9,273.6 L1080.2,272.7 L1085.4,271.7 L1090.7,270.3 L1096.0,268.8 L1101.2,266.9 L1106.5,264.7 L1111.8,262.2 L1117.0,259.3 L1122.3,256.1 L1127.6,252.5 L1132.8,248.6 L1138.1,244.4 L1143.3,239.8 L1148.6,235.0 L1153.9,229.8 L1159.1,224.4 L1164.4,218.7 L1169.7,212.7 L1174.9,206.3 L1180.2,199.6 L1185.5,192.4 L1190.7,184.8 L1196.0,176.7 L1201.3,168.1 L1206.5,159.1 L1211.8,149.7 L1217.1,140.0 L1222.3,130.1 L1227.6,120.3 L1232.9,110.7 L1238.1,101.7 L1243.4,93.4 L1248.7,86.0 L1253.9,79.8 L1259.2,75.0 L1264.4,71.6 L1269.7,69.7 L1275.0,69.2 L1280.2,70.1 L1285.5,72.2 L1290.8,75.3 L1296.0,79.1 L1301.3,83.5 L1306.6,88.2 L1311.8,93.0 L1317.1,97.6 L1322.4,102.0 L1327.6,106.0 L1332.9,109.7 L1338.2,112.9 L1343.4,115.8 L1348.7,118.6 L1354.0,121.2 L1359.2,123.8 L1364.5,126.7 L1369.8,129.9 L1375.0,133.5 L1380.3,137.6 L1385.5,142.2 L1390.8,147.4 L1396.1,153.0 L1401.3,159.1 L1406.6,165.4 L1411.9,172.0 L1417.1,178.5 L1422.4,185.0 L1427.7,191.2 L1432.9,197.1 L1438.2,202.6 L1443.5,207.7 L1448.7,212.2 L1454.0,216.2 L1459.3,219.8 L1464.5,222.8 L1469.8,225.5 L1475.1,227.8 L1480.3,229.9 L1485.6,231.6 L1490.9,233.2 L1496.1,234.6 L1501.4,235.8 L1506.6,236.9 L1511.9,238.0 L1517.2,238.9 L1522.4,239.8 L1527.7,240.6 L1533.0,241.3 L1538.2,241.9 L1543.5,242.3 L1548.8,242.5 L1554.0,242.6 L1559.3,242.5 L1564.6,242.1 L1569.8,241.5 L1575.1,240.6 L1580.4,239.5 L1585.6,238.1 L1590.9,236.5 L1596.2,234.8 L1601.4,233.0 L1606.7,231.2 L1612.0,229.4 L1617.2,227.7 L1622.5,226.1 L1627.7,224.9 L1633.0,223.9 L1638.3,223.3 L1643.5,223.1 L1648.8,223.3 L1654.1,223.9 L1659.3,225.0 L1664.6,226.5 L1669.9,228.4 L1675.1,230.6 L1680.4,233.1" fill="none" stroke="#00B0F6" stroke-width="1.2"/>
<path d="M1053.8,276.4 L1053.8,257.3 L1059.1,255.6 L1064.4,253.8 L1069.6,251.7 L1074.9,249.4 L1080.2,246.9 L1085.4,244.2 L1090.7,241.3 L1096.0,238.1 L1101.2,234.6 L1106.5,230.9 L1111.8,226.9 L1117.0,222.7 L1122.3,218.3 L1127.6,213.6 L1132.8,208.8 L1138.1,203.8 L1143.3,198.6 L1148.6,193.4 L1153.9,188.2 L1159.1,182.9 L1164.4,177.6 L1169.7,172.4 L1174.9,167.4 L1180.2,162.4 L1185.5,157.7 L1190.7,153.1 L1196.0,148.8 L1201.3,144.7 L1206.5,140.9 L1211.8,137.4 L1217.1,134.2 L1222.3,131.2 L1227.6,128.5 L1232.9,126.1 L1238.1,124.0 L1243.4,122.1 L1248.7,120.5 L1253.9,119.1 L1259.2,117.9 L1264.4,116.9 L1269.7,116.2 L1275.0,115.6 L1280.2,115.2 L1285.5,115.0 L1290.8,115.0 L1296.0,115.2 L1301.3,115.5 L1306.6,116.0 L1311.8,116.7 L1317.1,117.6 L1322.4,118.7 L1327.6,120.0 L1332.9,121.4 L1338.2,123.1 L1343.4,124.9 L1348.7,127.0 L1354.0,129.2 L1359.2,131.6 L1364.5,134.1 L1369.8,136.8 L1375.0,139.6 L1380.3,142.6 L1385.5,145.7 L1390.8,148.8 L1396.1,152.1 L1401.3,155.4 L1406.6,158.8 L1411.9,162.2 L1417.1,165.7 L1422.4,169.1 L1427.7,172.7 L1432.9,176.2 L1438.2,179.7 L1443.5,183.3 L1448.7,186.9 L1454.0,190.4 L1459.3,194.0 L1464.5,197.5 L1469.8,201.0 L1475.1,204.5 L1480.3,208.0 L1485.6,211.4 L1490.9,214.7 L1496.1,217.9 L1501.4,221.0 L1506.6,223.9 L1511.9,226.8 L1517.2,229.4 L1522.4,231.9 L1527.7,234.1 L1533.0,236.1 L1538.2,237.9 L1543.5,239.5 L1548.8,240.8 L1554.0,241.9 L1559.3,242.7 L1564.6,243.4 L1569.8,243.7 L1575.1,243.9 L1580.4,243.9 L1585.6,243.6 L1590.9,243.3 L1596.2,242.8 L1601.4,242.2 L1606.7,241.5 L1612.0,240.8 L1617.2,240.0 L1622.5,239.3 L1627.7,238.5 L1633.0,237.9 L1638.3,237.3 L1643.5,236.9 L1648.8,236.6 L1654.1,236.4 L1659.3,236.4 L1664.6,236.6 L1669.9,237.0 L1675.1,237.6 L1680.4,238.3 L1680.4,276.4 Z" fill="#9590FF" fill-opacity="0.6" stroke="none"/>
<path d="M1053.8,257.3 L1059.1,255.6 L1064.4,253.8 L1069.6,251.7 L1074.9,249.4 L1080.2,246.9 L1085.4,244.2 L1090.7,241.3 L1096.0,238.1 L1101.2,234.6 L1106.5,230.9 L1111.8,226.9 L1117.0,222.7 L1122.3,218.3 L1127.6,213.6 L1132.8,208.8 L1138.1,203.8 L1143.3,198.6 L1148.6,193.4 L1153.9,188.2 L1159.1,182.9 L1164.4,177.6 L1169.7,172.4 L1174.9,167.4 L1180.2,162.4 L1185.5,157.7 L1190.7,153.1 L1196.0,148.8 L1201.3,144.7 L1206.5,140.9 L1211.8,137.4 L1217.1,134.2 L1222.3,131.2 L1227.6,128.5 L1232.9,126.1 L1238.1,124.0 L1243.4,122.1 L1248.7,120.5 L1253.9,119.1 L1259.2,117.9 L1264.4,116.9 L1269.7,116.2 L1275.0,115.6 L1280.2,115.2 L1285.5,115.0 L1290.8,115.0 L1296.0,115.2 L1301.3,115.5 L1306.6,116.0 L1311.8,116.7 L1317.1,117.6 L1322.4,118.7 L1327.6,120.0 L1332.9,121.4 L1338.2,123.1 L1343.4,124.9 L1348.7,127.0 L1354.0,129.2 L1359.2,131.6 L1364.5,134.1 L1369.8,136.8 L1375.0,139.6 L1380.3,142.6 L1385.5,145.7 L1390.8,148.8 L1396.1,152.1 L1401.3,155.4 L1406.6,158.8 L1411.9,162.2 L1417.1,165.7 L1422.4,169.1 L1427.7,172.7 L1432.9,176.2 L1438.2,179.7 L1443.5,183.3 L1448.7,186.9 L1454.0,190.4 L1459.3,194.0 L1464.5,197.5 L1469.8,201.0 L1475.1,204.5 L1480.3,208.0 L1485.6,211.4 L1490.9,214.7 L1496.1,217.9 L1501.4,221.0 L1506.6,223.9 L1511.9,226.8 L1517.2,229.4 L1522.4,231.9 L1527.7,234.1 L1533.0,236.1 L1538.2,237.9 L1543.5,239.5 L1548.8,240.8 L1554.0,241.9 L1559.3,242.7 L1564.6,243.4 L1569.8,243.7 L1575.1,243.9 L1580.4,243.9 L1585.6,243.6 L1590.9,243.3 L1596.2,242.8 L1601.4,242.2 L1606.7,241.5 L1612.0,240.8 L1617.2,240.0 L1622.5,239.3 L1627.7,238.5 L1633.0,237.9 L1638.3,237.3 L1643.5,236.9 L1648.8,236.6 L1654.1,236.4 L1659.3,236.4 L1664.6,236.6 L1669.9,237.0 L1675.1,237.6 L1680.4,238.3" fill="none" stroke="#9590FF" stroke-width="1.2"/>
<path d="M1053.8,276.4 L1053.8,273.3 L1059.1,272.6 L1064.4,271.7 L1069.6,270.7 L1074.9,269.7 L1080.2,268.5 L1085.4,267.3 L1090.7,266.0 L1096.0,264.7 L1101.2,263.4 L1106.5,262.1 L1111.8,260.8 L1117.0,259.6 L1122.3,258.3 L1127.6,257.0 L1132.8,255.7 L1138.1,254.2 L1143.3,252.5 L1148.6,250.6 L1153.9,248.4 L1159.1,245.9 L1164.4,242.9 L1169.7,239.4 L1174.9,235.5 L1180.2,231.2 L1185.5,226.4 L1190.7,221.2 L1196.0,215.6 L1201.3,209.8 L1206.5,203.7 L1211.8,197.7 L1217.1,191.6 L1222.3,185.7 L1227.6,179.9 L1232.9,174.6 L1238.1,169.5 L1243.4,164.9 L1248.7,160.8 L1253.9,157.0 L1259.2,153.6 L1264.4,150.5 L1269.7,147.5 L1275.0,144.6 L1280.2,141.5 L1285.5,138.3 L1290.8,134.7 L1296.0,130.6 L1301.3,126.0 L1306.6,120.8 L1311.8,115.2 L1317.1,109.0 L1322.4,102.4 L1327.6,95.6 L1332.9,88.7 L1338.2,82.0 L1343.4,75.5 L1348.7,69.6 L1354.0,64.3 L1359.2,59.9 L1364.5,56.6 L1369.8,54.5 L1375.0,53.6 L1380.3,54.1 L1385.5,55.9 L1390.8,59.1 L1396.1,63.6 L1401.3,69.3 L1406.6,76.0 L1411.9,83.7 L1417.1,92.2 L1422.4,101.2 L1427.7,110.6 L1432.9,120.2 L1438.2,129.8 L1443.5,139.2 L1448.7,148.4 L1454.0,157.3 L1459.3,165.8 L1464.5,173.8 L1469.8,181.3 L1475.1,188.4 L1480.3,195.0 L1485.6,201.2 L1490.9,207.0 L1496.1,212.5 L1501.4,217.6 L1506.6,222.4 L1511.9,227.0 L1517.2,231.2 L1522.4,235.3 L1527.7,239.1 L1533.0,242.6 L1538.2,246.0 L1543.5,249.0 L1548.8,251.8 L1554.0,254.3 L1559.3,256.5 L1564.6,258.2 L1569.8,259.6 L1575.1,260.5 L1580.4,260.8 L1585.6,260.7 L1590.9,259.9 L1596.2,258.6 L1601.4,256.7 L1606.7,254.2 L1612.0,251.1 L1617.2,247.6 L1622.5,243.6 L1627.7,239.4 L1633.0,234.9 L1638.3,230.4 L1643.5,226.1 L1648.8,222.0 L1654.1,218.4 L1659.3,215.4 L1664.6,213.2 L1669.9,211.9 L1675.1,211.5 L1680.4,212.1 L1680.4,276.4 Z" fill="#E76BF3" fill-opacity="0.6" stroke="none"/>
<path d="M1053.8,273.3 L1059.1,272.6 L1064.4,271.7 L1069.6,270.7 L1074.9,269.7 L1080.2,268.5 L1085.4,267.3 L1090.7,266.0 L1096.0,264.7 L1101.2,263.4 L1106.5,262.1 L1111.8,260.8 L1117.0,259.6 L1122.3,258.3 L1127.6,257.0 L1132.8,255.7 L1138.1,254.2 L1143.3,252.5 L1148.6,250.6 L1153.9,248.4 L1159.1,245.9 L1164.4,242.9 L1169.7,239.4 L1174.9,235.5 L1180.2,231.2 L1185.5,226.4 L1190.7,221.2 L1196.0,215.6 L1201.3,209.8 L1206.5,203.7 L1211.8,197.7 L1217.1,191.6 L1222.3,185.7 L1227.6,179.9 L1232.9,174.6 L1238.1,169.5 L1243.4,164.9 L1248.7,160.8 L1253.9,157.0 L1259.2,153.6 L1264.4,150.5 L1269.7,147.5 L1275.0,144.6 L1280.2,141.5 L1285.5,138.3 L1290.8,134.7 L1296.0,130.6 L1301.3,126.0 L1306.6,120.8 L1311.8,115.2 L1317.1,109.0 L1322.4,102.4 L1327.6,95.6 L1332.9,88.7 L1338.2,82.0 L1343.4,75.5 L1348.7,69.6 L1354.0,64.3 L1359.2,59.9 L1364.5,56.6 L1369.8,54.5 L1375.0,53.6 L1380.3,54.1 L1385.5,55.9 L1390.8,59.1 L1396.1,63.6 L1401.3,69.3 L1406.6,76.0 L1411.9,83.7 L1417.1,92.2 L1422.4,101.2 L1427.7,110.6 L1432.9,120.2 L1438.2,129.8 L1443.5,139.2 L1448.7,148.4 L1454.0,157.3 L1459.3,165.8 L1464.5,173.8 L1469.8,181.3 L1475.1,188.4 L1480.3,195.0 L1485.6,201.2 L1490.9,207.0 L1496.1,212.5 L1501.4,217.6 L1506.6,222.4 L1511.9,227.0 L1517.2,231.2 L1522.4,235.3 L1527.7,239.1 L1533.0,242.6 L1538.2,246.0 L1543.5,249.0 L1548.8,251.8 L1554.0,254.3 L1559.3,256.5 L1564.6,258.2 L1569.8,259.6 L1575.1,260.5 L1580.4,260.8 L1585.6,260.7 L1590.9,259.9 L1596.2,258.6 L1601.4,256.7 L1606.7,254.2 L1612.0,251.1 L1617.2,247.6 L1622.5,243.6 L1627.7,239.4 L1633.0,234.9 L1638.3,230.4 L1643.5,226.1 L1648.8,222.0 L1654.1,218.4 L1659.3,215.4 L1664.6,213.2 L1669.9,211.9 L1675.1,211.5 L1680.4,212.1" fill="none" stroke="#E76BF3" stroke-width="1.2"/>
<path d="M1053.8,276.4 L1053.8,219.1 L1059.1,212.8 L1064.4,206.3 L1069.6,199.7 L1074.9,193.0 L1080.2,186.2 L1085.4,179.5 L1090.7,172.9 L1096.0,166.6 L1101.2,160.4 L1106.5,154.6 L1111.8,149.2 L1117.0,144.2 L1122.3,139.7 L1127.6,135.6 L1132.8,132.1 L1138.1,129.1 L1143.3,126.5 L1148.6,124.5 L1153.9,122.9 L1159.1,121.7 L1164.4,120.8 L1169.7,120.3 L1174.9,120.0 L1180.2,119.8 L1185.5,119.7 L1190.7,119.7 L1196.0,119.6 L1201.3,119.4 L1206.5,119.1 L1211.8,118.6 L1217.1,118.0 L1222.3,117.1 L1227.6,116.0 L1232.9,114.7 L1238.1,113.3 L1243.4,111.8 L1248.7,110.2 L1253.9,108.5 L1259.2,106.9 L1264.4,105.5 L1269.7,104.2 L1275.0,103.1 L1280.2,102.4 L1285.5,102.1 L1290.8,102.2 L1296.0,102.8 L1301.3,104.0 L1306.6,105.7 L1311.8,108.1 L1317.1,111.0 L1322.4,114.6 L1327.6,118.8 L1332.9,123.5 L1338.2,128.7 L1343.4,134.4 L1348.7,140.5 L1354.0,146.9 L1359.2,153.5 L1364.5,160.3 L1369.8,167.1 L1375.0,173.9 L1380.3,180.6 L1385.5,187.1 L1390.8,193.3 L1396.1,199.3 L1401.3,204.8 L1406.6,210.0 L1411.9,214.8 L1417.1,219.1 L1422.4,223.0 L1427.7,226.5 L1432.9,229.6 L1438.2,232.3 L1443.5,234.7 L1448.7,236.8 L1454.0,238.7 L1459.3,240.3 L1464.5,241.7 L1469.8,243.0 L1475.1,244.2 L1480.3,245.3 L1485.6,246.4 L1490.9,247.5 L1496.1,248.5 L1501.4,249.6 L1506.6,250.7 L1511.9,251.8 L1517.2,252.9 L1522.4,254.0 L1527.7,255.2 L1533.0,256.3 L1538.2,257.5 L1543.5,258.6 L1548.8,259.7 L1554.0,260.7 L1559.3,261.6 L1564.6,262.4 L1569.8,263.1 L1575.1,263.7 L1580.4,264.1 L1585.6,264.4 L1590.9,264.5 L1596.2,264.5 L1601.4,264.3 L1606.7,263.9 L1612.0,263.4 L1617.2,262.7 L1622.5,262.0 L1627.7,261.1 L1633.0,260.2 L1638.3,259.3 L1643.5,258.4 L1648.8,257.6 L1654.1,256.8 L1659.3,256.1 L1664.6,255.6 L1669.9,255.2 L1675.1,254.9 L1680.4,254.9 L1680.4,276.4 Z" fill="#FF62BC" fill-opacity="0.6" stroke="none"/>
<path d="M1053.8,219.1 L1059.1,212.8 L1064.4,206.3 L1069.6,199.7 L1074.9,193.0 L1080.2,186.2 L1085.4,179.5 L1090.7,172.9 L1096.0,166.6 L1101.2,160.4 L1106.5,154.6 L1111.8,149.2 L1117.0,144.2 L1122.3,139.7 L1127.6,135.6 L1132.8,132.1 L1138.1,129.1 L1143.3,126.5 L1148.6,124.5 L1153.9,122.9 L1159.1,121.7 L1164.4,120.8 L1169.7,120.3 L1174.9,120.0 L1180.2,119.8 L1185.5,119.7 L1190.7,119.7 L1196.0,119.6 L1201.3,119.4 L1206.5,119.1 L1211.8,118.6 L1217.1,118.0 L1222.3,117.1 L1227.6,116.0 L1232.9,114.7 L1238.1,113.3 L1243.4,111.8 L1248.7,110.2 L1253.9,108.5 L1259.2,106.9 L1264.4,105.5 L1269.7,104.2 L1275.0,103.1 L1280.2,102.4 L1285.5,102.1 L1290.8,102.2 L1296.0,102.8 L1301.3,104.0 L1306.6,105.7 L1311.8,108.1 L1317.1,111.0 L1322.4,114.6 L1327.6,118.8 L1332.9,123.5 L1338.2,128.7 L1343.4,134.4 L1348.7,140.5 L1354.0,146.9 L1359.2,153.5 L1364.5,160.3 L1369.8,167.1 L1375.0,173.9 L1380.3,180.6 L1385.5,187.1 L1390.8,193.3 L1396.1,199.3 L1401.3,204.8 L1406.6,210.0 L1411.9,214.8 L1417.1,219.1 L1422.4,223.0 L1427.7,226.5 L1432.9,229.6 L1438.2,232.3 L1443.5,234.7 L1448.7,236.8 L1454.0,238.7 L1459.3,240.3 L1464.5,241.7 L1469.8,243.0 L1475.1,244.2 L1480.3,245.3 L1485.6,246.4 L1490.9,247.5 L1496.1,248.5 L1501.4,249.6 L1506.6,250.7 L1511.9,251.8 L1517.2,252.9 L1522.4,254.0 L1527.7,255.2 L1533.0,256.3 L1538.2,257.5 L1543.5,258.6 L1548.8,259.7 L1554.0,260.7 L1559.3,261.6 L1564.6,262.4 L1569.8,263.1 L1575.1,263.7 L1580.4,264.1 L1585.6,264.4 L1590.9,264.5 L1596.2,264.5 L1601.4,264.3 L1606.7,263.9 L1612.0,263.4 L1617.2,262.7 L1622.5,262.0 L1627.7,261.1 L1633.0,260.2 L1638.3,259.3 L1643.5,258.4 L1648.8,257.6 L1654.1,256.8 L1659.3,256.1 L1664.6,255.6 L1669.9,255.2 L1675.1,254.9 L1680.4,254.9" fill="none" stroke="#FF62BC" stroke-width="1.2"/>
<line x1="1328.4" y1="47.3" x2="1328.4" y2="287.8" stroke="#1a1a1a" stroke-width="2.6" stroke-dasharray="7.6,7.9"/>
<line x1="1023.7" y1="43.3" x2="1023.7" y2="288.90000000000003" stroke="#000" stroke-width="2.3"/>
<line x1="1022.6" y1="287.8" x2="1711.5" y2="287.8" stroke="#000" stroke-width="2.3"/>
<line x1="1152.4" y1="287.8" x2="1152.4" y2="295.8" stroke="#000" stroke-width="2.3"/>
<text x="1152.4" y="316.8" text-anchor="middle" font-size="17.8" fill="#4D4D4D">0.25</text>
<line x1="1328.4" y1="287.8" x2="1328.4" y2="295.8" stroke="#000" stroke-width="2.3"/>
<text x="1328.4" y="316.8" text-anchor="middle" font-size="17.8" fill="#4D4D4D">0.50</text>
<line x1="1504.4" y1="287.8" x2="1504.4" y2="295.8" stroke="#000" stroke-width="2.3"/>
<text x="1504.4" y="316.8" text-anchor="middle" font-size="17.8" fill="#4D4D4D">0.75</text>
<line x1="1680.4" y1="287.8" x2="1680.4" y2="295.8" stroke="#000" stroke-width="2.3"/>
<text x="1680.4" y="316.8" text-anchor="middle" font-size="17.8" fill="#4D4D4D">1.00</text>
<line x1="1015.7" y1="276.4" x2="1023.7" y2="276.4" stroke="#000" stroke-width="2.3"/>
<text x="1006.2" y="282.7" text-anchor="end" font-size="17.8" fill="#4D4D4D">0</text>
<line x1="1015.7" y1="192.3" x2="1023.7" y2="192.3" stroke="#000" stroke-width="2.3"/>
<text x="1006.2" y="198.6" text-anchor="end" font-size="17.8" fill="#4D4D4D">1</text>
<line x1="1015.7" y1="108.3" x2="1023.7" y2="108.3" stroke="#000" stroke-width="2.3"/>
<text x="1006.2" y="114.6" text-anchor="end" font-size="17.8" fill="#4D4D4D">2</text>
<text x="1366.6" y="18.9" text-anchor="middle" font-size="21.5" fill="#111">Density</text>
<text x="1367" y="348.3" text-anchor="middle" font-size="21" fill="#1a1a1a">Value</text>
<text transform="translate(982,165.6) rotate(-90)" text-anchor="middle" font-size="21" fill="#1a1a1a">density</text>
<text x="1120.2" y="446.8" font-size="18" fill="#1a1a1a">Year</text>
<rect x="1169.2" y="410.8" width="28" height="28.3" fill="#F8766D" fill-opacity="0.6" stroke="#333" stroke-width="2"/>
<text x="1208.2" y="430.8" font-size="17.5" fill="#1a1a1a">2011</text>
<rect x="1169.2" y="441.1" width="28" height="28.3" fill="#D89000" fill-opacity="0.6" stroke="#333" stroke-width="2"/>
<text x="1208.2" y="461.1" font-size="17.5" fill="#1a1a1a">2012</text>
<rect x="1260.3" y="410.8" width="28" height="28.3" fill="#A3A500" fill-opacity="0.6" stroke="#333" stroke-width="2"/>
<text x="1299.3" y="430.8" font-size="17.5" fill="#1a1a1a">2013</text>
<rect x="1260.3" y="441.1" width="28" height="28.3" fill="#39B600" fill-opacity="0.6" stroke="#333" stroke-width="2"/>
<text x="1299.3" y="461.1" font-size="17.5" fill="#1a1a1a">2014</text>
<rect x="1351.4" y="410.8" width="28" height="28.3" fill="#00BF7D" fill-opacity="0.6" stroke="#333" stroke-width="2"/>
<text x="1390.4" y="430.8" font-size="17.5" fill="#1a1a1a">2015</text>
<rect x="1351.4" y="441.1" width="28" height="28.3" fill="#00BFC4" fill-opacity="0.6" stroke="#333" stroke-width="2"/>
<text x="1390.4" y="461.1" font-size="17.5" fill="#1a1a1a">2016</text>
<rect x="1442.5" y="410.8" width="28" height="28.3" fill="#00B0F6" fill-opacity="0.6" stroke="#333" stroke-width="2"/>
<text x="1481.5" y="430.8" font-size="17.5" fill="#1a1a1a">2017</text>
<rect x="1442.5" y="441.1" width="28" height="28.3" fill="#9590FF" fill-opacity="0.6" stroke="#333" stroke-width="2"/>
<text x="1481.5" y="461.1" font-size="17.5" fill="#1a1a1a">2018</text>
<rect x="1533.6" y="410.8" width="28" height="28.3" fill="#E76BF3" fill-opacity="0.6" stroke="#333" stroke-width="2"/>
<text x="1572.6" y="430.8" font-size="17.5" fill="#1a1a1a">2019</text>
<rect x="1533.6" y="441.1" width="28" height="28.3" fill="#FF62BC" fill-opacity="0.6" stroke="#333" stroke-width="2"/>
<text x="1572.6" y="461.1" font-size="17.5" fill="#1a1a1a">2020</text>
<path d="M1065.7,851.4 L1065.7,822.3 L1070.8,819.6 L1075.9,816.8 L1081.0,813.8 L1086.1,810.6 L1091.2,807.3 L1096.4,803.9 L1101.5,800.3 L1106.6,796.6 L1111.7,792.7 L1116.8,788.7 L1121.9,784.5 L1127.0,780.2 L1132.1,775.8 L1137.2,771.3 L1142.3,766.7 L1147.4,761.9 L1152.6,757.1 L1157.7,752.3 L1162.8,747.4 L1167.9,742.5 L1173.0,737.6 L1178.1,732.8 L1183.2,728.0 L1188.3,723.4 L1193.4,719.0 L1198.5,714.7 L1203.6,710.6 L1208.8,706.8 L1213.9,703.3 L1219.0,700.1 L1224.1,697.2 L1229.2,694.6 L1234.3,692.4 L1239.4,690.6 L1244.5,689.0 L1249.6,687.8 L1254.7,686.9 L1259.9,686.3 L1265.0,685.9 L1270.1,685.8 L1275.2,685.8 L1280.3,686.0 L1285.4,686.3 L1290.5,686.8 L1295.6,687.3 L1300.7,687.9 L1305.8,688.5 L1310.9,689.2 L1316.1,689.9 L1321.2,690.6 L1326.3,691.3 L1331.4,692.1 L1336.5,693.0 L1341.6,693.9 L1346.7,694.9 L1351.8,696.0 L1356.9,697.2 L1362.0,698.5 L1367.1,700.0 L1372.3,701.7 L1377.4,703.5 L1382.5,705.5 L1387.6,707.7 L1392.7,710.2 L1397.8,712.9 L1402.9,715.7 L1408.0,718.8 L1413.1,722.1 L1418.2,725.7 L1423.3,729.4 L1428.5,733.3 L1433.6,737.4 L1438.7,741.6 L1443.8,746.0 L1448.9,750.5 L1454.0,755.0 L1459.1,759.6 L1464.2,764.2 L1469.3,768.8 L1474.4,773.4 L1479.5,777.8 L1484.7,782.2 L1489.8,786.4 L1494.9,790.4 L1500.0,794.2 L1505.1,797.7 L1510.2,801.0 L1515.3,804.0 L1520.4,806.8 L1525.5,809.2 L1530.6,811.3 L1535.8,813.0 L1540.9,814.5 L1546.0,815.7 L1551.1,816.6 L1556.2,817.2 L1561.3,817.6 L1566.4,817.8 L1571.5,817.8 L1576.6,817.7 L1581.7,817.4 L1586.8,817.2 L1592.0,816.9 L1597.1,816.6 L1602.2,816.3 L1607.3,816.2 L1612.4,816.2 L1617.5,816.3 L1622.6,816.5 L1627.7,817.0 L1632.8,817.6 L1637.9,818.3 L1643.0,819.3 L1648.2,820.4 L1653.3,821.7 L1658.4,823.1 L1663.5,824.6 L1668.6,826.2 L1673.7,827.9 L1673.7,851.4 Z" fill="#F8766D" fill-opacity="0.6" stroke="none"/>
<path d="M1065.7,822.3 L1070.8,819.6 L1075.9,816.8 L1081.0,813.8 L1086.1,810.6 L1091.2,807.3 L1096.4,803.9 L1101.5,800.3 L1106.6,796.6 L1111.7,792.7 L1116.8,788.7 L1121.9,784.5 L1127.0,780.2 L1132.1,775.8 L1137.2,771.3 L1142.3,766.7 L1147.4,761.9 L1152.6,757.1 L1157.7,752.3 L1162.8,747.4 L1167.9,742.5 L1173.0,737.6 L1178.1,732.8 L1183.2,728.0 L1188.3,723.4 L1193.4,719.0 L1198.5,714.7 L1203.6,710.6 L1208.8,706.8 L1213.9,703.3 L1219.0,700.1 L1224.1,697.2 L1229.2,694.6 L1234.3,692.4 L1239.4,690.6 L1244.5,689.0 L1249.6,687.8 L1254.7,686.9 L1259.9,686.3 L1265.0,685.9 L1270.1,685.8 L1275.2,685.8 L1280.3,686.0 L1285.4,686.3 L1290.5,686.8 L1295.6,687.3 L1300.7,687.9 L1305.8,688.5 L1310.9,689.2 L1316.1,689.9 L1321.2,690.6 L1326.3,691.3 L1331.4,692.1 L1336.5,693.0 L1341.6,693.9 L1346.7,694.9 L1351.8,696.0 L1356.9,697.2 L1362.0,698.5 L1367.1,700.0 L1372.3,701.7 L1377.4,703.5 L1382.5,705.5 L1387.6,707.7 L1392.7,710.2 L1397.8,712.9 L1402.9,715.7 L1408.0,718.8 L1413.1,722.1 L1418.2,725.7 L1423.3,729.4 L1428.5,733.3 L1433.6,737.4 L1438.7,741.6 L1443.8,746.0 L1448.9,750.5 L1454.0,755.0 L1459.1,759.6 L1464.2,764.2 L1469.3,768.8 L1474.4,773.4 L1479.5,777.8 L1484.7,782.2 L1489.8,786.4 L1494.9,790.4 L1500.0,794.2 L1505.1,797.7 L1510.2,801.0 L1515.3,804.0 L1520.4,806.8 L1525.5,809.2 L1530.6,811.3 L1535.8,813.0 L1540.9,814.5 L1546.0,815.7 L1551.1,816.6 L1556.2,817.2 L1561.3,817.6 L1566.4,817.8 L1571.5,817.8 L1576.6,817.7 L1581.7,817.4 L1586.8,817.2 L1592.0,816.9 L1597.1,816.6 L1602.2,816.3 L1607.3,816.2 L1612.4,816.2 L1617.5,816.3 L1622.6,816.5 L1627.7,817.0 L1632.8,817.6 L1637.9,818.3 L1643.0,819.3 L1648.2,820.4 L1653.3,821.7 L1658.4,823.1 L1663.5,824.6 L1668.6,826.2 L1673.7,827.9" fill="none" stroke="#F8766D" stroke-width="1.2"/>
<path d="M1065.7,851.4 L1065.7,818.4 L1070.8,815.6 L1075.9,812.8 L1081.0,810.0 L1086.1,807.2 L1091.2,804.5 L1096.4,801.8 L1101.5,799.2 L1106.6,796.5 L1111.7,794.0 L1116.8,791.3 L1121.9,788.7 L1127.0,786.0 L1132.1,783.2 L1137.2,780.3 L1142.3,777.2 L1147.4,773.9 L1152.6,770.4 L1157.7,766.7 L1162.8,762.8 L1167.9,758.6 L1173.0,754.2 L1178.1,749.6 L1183.2,744.8 L1188.3,740.0 L1193.4,735.0 L1198.5,730.0 L1203.6,725.0 L1208.8,720.1 L1213.9,715.3 L1219.0,710.6 L1224.1,706.2 L1229.2,702.0 L1234.3,698.1 L1239.4,694.5 L1244.5,691.3 L1249.6,688.3 L1254.7,685.7 L1259.9,683.4 L1265.0,681.4 L1270.1,679.7 L1275.2,678.3 L1280.3,677.2 L1285.4,676.4 L1290.5,675.8 L1295.6,675.5 L1300.7,675.4 L1305.8,675.6 L1310.9,676.0 L1316.1,676.7 L1321.2,677.6 L1326.3,678.8 L1331.4,680.2 L1336.5,681.9 L1341.6,683.8 L1346.7,686.0 L1351.8,688.5 L1356.9,691.2 L1362.0,694.2 L1367.1,697.4 L1372.3,700.8 L1377.4,704.5 L1382.5,708.3 L1387.6,712.3 L1392.7,716.4 L1397.8,720.7 L1402.9,725.0 L1408.0,729.4 L1413.1,733.9 L1418.2,738.3 L1423.3,742.8 L1428.5,747.2 L1433.6,751.6 L1438.7,755.9 L1443.8,760.1 L1448.9,764.3 L1454.0,768.4 L1459.1,772.4 L1464.2,776.3 L1469.3,780.2 L1474.4,784.0 L1479.5,787.8 L1484.7,791.4 L1489.8,795.0 L1494.9,798.5 L1500.0,801.9 L1505.1,805.2 L1510.2,808.3 L1515.3,811.3 L1520.4,814.1 L1525.5,816.6 L1530.6,818.9 L1535.8,820.9 L1540.9,822.6 L1546.0,824.0 L1551.1,825.0 L1556.2,825.7 L1561.3,826.0 L1566.4,826.0 L1571.5,825.6 L1576.6,824.8 L1581.7,823.8 L1586.8,822.5 L1592.0,821.0 L1597.1,819.3 L1602.2,817.5 L1607.3,815.6 L1612.4,813.7 L1617.5,811.8 L1622.6,810.1 L1627.7,808.4 L1632.8,807.1 L1637.9,805.9 L1643.0,805.0 L1648.2,804.5 L1653.3,804.3 L1658.4,804.5 L1663.5,805.0 L1668.6,805.9 L1673.7,807.0 L1673.7,851.4 Z" fill="#D89000" fill-opacity="0.6" stroke="none"/>
<path d="M1065.7,818.4 L1070.8,815.6 L1075.9,812.8 L1081.0,810.0 L1086.1,807.2 L1091.2,804.5 L1096.4,801.8 L1101.5,799.2 L1106.6,796.5 L1111.7,794.0 L1116.8,791.3 L1121.9,788.7 L1127.0,786.0 L1132.1,783.2 L1137.2,780.3 L1142.3,777.2 L1147.4,773.9 L1152.6,770.4 L1157.7,766.7 L1162.8,762.8 L1167.9,758.6 L1173.0,754.2 L1178.1,749.6 L1183.2,744.8 L1188.3,740.0 L1193.4,735.0 L1198.5,730.0 L1203.6,725.0 L1208.8,720.1 L1213.9,715.3 L1219.0,710.6 L1224.1,706.2 L1229.2,702.0 L1234.3,698.1 L1239.4,694.5 L1244.5,691.3 L1249.6,688.3 L1254.7,685.7 L1259.9,683.4 L1265.0,681.4 L1270.1,679.7 L1275.2,678.3 L1280.3,677.2 L1285.4,676.4 L1290.5,675.8 L1295.6,675.5 L1300.7,675.4 L1305.8,675.6 L1310.9,676.0 L1316.1,676.7 L1321.2,677.6 L1326.3,678.8 L1331.4,680.2 L1336.5,681.9 L1341.6,683.8 L1346.7,686.0 L1351.8,688.5 L1356.9,691.2 L1362.0,694.2 L1367.1,697.4 L1372.3,700.8 L1377.4,704.5 L1382.5,708.3 L1387.6,712.3 L1392.7,716.4 L1397.8,720.7 L1402.9,725.0 L1408.0,729.4 L1413.1,733.9 L1418.2,738.3 L1423.3,742.8 L1428.5,747.2 L1433.6,751.6 L1438.7,755.9 L1443.8,760.1 L1448.9,764.3 L1454.0,768.4 L1459.1,772.4 L1464.2,776.3 L1469.3,780.2 L1474.4,784.0 L1479.5,787.8 L1484.7,791.4 L1489.8,795.0 L1494.9,798.5 L1500.0,801.9 L1505.1,805.2 L1510.2,808.3 L1515.3,811.3 L1520.4,814.1 L1525.5,816.6 L1530.6,818.9 L1535.8,820.9 L1540.9,822.6 L1546.0,824.0 L1551.1,825.0 L1556.2,825.7 L1561.3,826.0 L1566.4,826.0 L1571.5,825.6 L1576.6,824.8 L1581.7,823.8 L1586.8,822.5 L1592.0,821.0 L1597.1,819.3 L1602.2,817.5 L1607.3,815.6 L1612.4,813.7 L1617.5,811.8 L1622.6,810.1 L1627.7,808.4 L1632.8,807.1 L1637.9,805.9 L1643.0,805.0 L1648.2,804.5 L1653.3,804.3 L1658.4,804.5 L1663.5,805.0 L1668.6,805.9 L1673.7,807.0" fill="none" stroke="#D89000" stroke-width="1.2"/>
<path d="M1065.7,851.4 L1065.7,842.0 L1070.8,840.3 L1075.9,838.5 L1081.0,836.4 L1086.1,834.2 L1091.2,831.8 L1096.4,829.2 L1101.5,826.6 L1106.6,823.8 L1111.7,820.9 L1116.8,817.9 L1121.9,814.8 L1127.0,811.8 L1132.1,808.7 L1137.2,805.6 L1142.3,802.5 L1147.4,799.4 L1152.6,796.3 L1157.7,793.2 L1162.8,790.1 L1167.9,786.9 L1173.0,783.7 L1178.1,780.4 L1183.2,777.0 L1188.3,773.3 L1193.4,769.5 L1198.5,765.4 L1203.6,761.1 L1208.8,756.4 L1213.9,751.3 L1219.0,745.8 L1224.1,739.9 L1229.2,733.5 L1234.3,726.7 L1239.4,719.5 L1244.5,711.9 L1249.6,704.1 L1254.7,696.1 L1259.9,688.0 L1265.0,680.0 L1270.1,672.2 L1275.2,664.9 L1280.3,658.2 L1285.4,652.3 L1290.5,647.3 L1295.6,643.3 L1300.7,640.5 L1305.8,638.9 L1310.9,638.4 L1316.1,639.1 L1321.2,640.9 L1326.3,643.7 L1331.4,647.3 L1336.5,651.7 L1341.6,656.6 L1346.7,662.0 L1351.8,667.8 L1356.9,673.7 L1362.0,679.7 L1367.1,685.8 L1372.3,691.9 L1377.4,697.9 L1382.5,703.8 L1387.6,709.7 L1392.7,715.5 L1397.8,721.2 L1402.9,726.9 L1408.0,732.4 L1413.1,737.9 L1418.2,743.4 L1423.3,748.8 L1428.5,754.1 L1433.6,759.3 L1438.7,764.4 L1443.8,769.5 L1448.9,774.4 L1454.0,779.3 L1459.1,784.0 L1464.2,788.6 L1469.3,793.1 L1474.4,797.4 L1479.5,801.6 L1484.7,805.6 L1489.8,809.5 L1494.9,813.1 L1500.0,816.6 L1505.1,819.8 L1510.2,822.8 L1515.3,825.5 L1520.4,827.9 L1525.5,830.1 L1530.6,831.9 L1535.8,833.5 L1540.9,834.7 L1546.0,835.6 L1551.1,836.2 L1556.2,836.4 L1561.3,836.3 L1566.4,836.0 L1571.5,835.3 L1576.6,834.4 L1581.7,833.2 L1586.8,831.8 L1592.0,830.3 L1597.1,828.6 L1602.2,826.7 L1607.3,824.7 L1612.4,822.5 L1617.5,820.1 L1622.6,817.5 L1627.7,814.6 L1632.8,811.5 L1637.9,808.1 L1643.0,804.5 L1648.2,801.0 L1653.3,797.6 L1658.4,794.8 L1663.5,792.8 L1668.6,792.0 L1673.7,792.4 L1673.7,851.4 Z" fill="#A3A500" fill-opacity="0.6" stroke="none"/>
<path d="M1065.7,842.0 L1070.8,840.3 L1075.9,838.5 L1081.0,836.4 L1086.1,834.2 L1091.2,831.8 L1096.4,829.2 L1101.5,826.6 L1106.6,823.8 L1111.7,820.9 L1116.8,817.9 L1121.9,814.8 L1127.0,811.8 L1132.1,808.7 L1137.2,805.6 L1142.3,802.5 L1147.4,799.4 L1152.6,796.3 L1157.7,793.2 L1162.8,790.1 L1167.9,786.9 L1173.0,783.7 L1178.1,780.4 L1183.2,777.0 L1188.3,773.3 L1193.4,769.5 L1198.5,765.4 L1203.6,761.1 L1208.8,756.4 L1213.9,751.3 L1219.0,745.8 L1224.1,739.9 L1229.2,733.5 L1234.3,726.7 L1239.4,719.5 L1244.5,711.9 L1249.6,704.1 L1254.7,696.1 L1259.9,688.0 L1265.0,680.0 L1270.1,672.2 L1275.2,664.9 L1280.3,658.2 L1285.4,652.3 L1290.5,647.3 L1295.6,643.3 L1300.7,640.5 L1305.8,638.9 L1310.9,638.4 L1316.1,639.1 L1321.2,640.9 L1326.3,643.7 L1331.4,647.3 L1336.5,651.7 L1341.6,656.6 L1346.7,662.0 L1351.8,667.8 L1356.9,673.7 L1362.0,679.7 L1367.1,685.8 L1372.3,691.9 L1377.4,697.9 L1382.5,703.8 L1387.6,709.7 L1392.7,715.5 L1397.8,721.2 L1402.9,726.9 L1408.0,732.4 L1413.1,737.9 L1418.2,743.4 L1423.3,748.8 L1428.5,754.1 L1433.6,759.3 L1438.7,764.4 L1443.8,769.5 L1448.9,774.4 L1454.0,779.3 L1459.1,784.0 L1464.2,788.6 L1469.3,793.1 L1474.4,797.4 L1479.5,801.6 L1484.7,805.6 L1489.8,809.5 L1494.9,813.1 L1500.0,816.6 L1505.1,819.8 L1510.2,822.8 L1515.3,825.5 L1520.4,827.9 L1525.5,830.1 L1530.6,831.9 L1535.8,833.5 L1540.9,834.7 L1546.0,835.6 L1551.1,836.2 L1556.2,836.4 L1561.3,836.3 L1566.4,836.0 L1571.5,835.3 L1576.6,834.4 L1581.7,833.2 L1586.8,831.8 L1592.0,830.3 L1597.1,828.6 L1602.2,826.7 L1607.3,824.7 L1612.4,822.5 L1617.5,820.1 L1622.6,817.5 L1627.7,814.6 L1632.8,811.5 L1637.9,808.1 L1643.0,804.5 L1648.2,801.0 L1653.3,797.6 L1658.4,794.8 L1663.5,792.8 L1668.6,792.0 L1673.7,792.4" fill="none" stroke="#A3A500" stroke-width="1.2"/>
<path d="M1065.7,851.4 L1065.7,837.0 L1070.8,836.1 L1075.9,835.1 L1081.0,834.1 L1086.1,833.1 L1091.2,831.9 L1096.4,830.6 L1101.5,829.1 L1106.6,827.3 L1111.7,825.1 L1116.8,822.4 L1121.9,819.2 L1127.0,815.3 L1132.1,810.7 L1137.2,805.5 L1142.3,799.4 L1147.4,792.6 L1152.6,785.0 L1157.7,776.8 L1162.8,767.9 L1167.9,758.5 L1173.0,748.7 L1178.1,738.6 L1183.2,728.4 L1188.3,718.2 L1193.4,708.2 L1198.5,698.5 L1203.6,689.2 L1208.8,680.4 L1213.9,672.3 L1219.0,664.9 L1224.1,658.3 L1229.2,652.4 L1234.3,647.2 L1239.4,642.9 L1244.5,639.3 L1249.6,636.3 L1254.7,634.1 L1259.9,632.5 L1265.0,631.4 L1270.1,631.0 L1275.2,631.2 L1280.3,631.8 L1285.4,633.1 L1290.5,634.9 L1295.6,637.3 L1300.7,640.2 L1305.8,643.7 L1310.9,647.7 L1316.1,652.3 L1321.2,657.3 L1326.3,662.8 L1331.4,668.6 L1336.5,674.7 L1341.6,681.0 L1346.7,687.4 L1351.8,693.9 L1356.9,700.3 L1362.0,706.6 L1367.1,712.7 L1372.3,718.5 L1377.4,724.0 L1382.5,729.2 L1387.6,734.0 L1392.7,738.4 L1397.8,742.5 L1402.9,746.2 L1408.0,749.6 L1413.1,752.8 L1418.2,755.8 L1423.3,758.7 L1428.5,761.4 L1433.6,764.1 L1438.7,766.9 L1443.8,769.7 L1448.9,772.7 L1454.0,775.8 L1459.1,779.0 L1464.2,782.5 L1469.3,786.1 L1474.4,789.9 L1479.5,793.8 L1484.7,797.9 L1489.8,801.9 L1494.9,806.0 L1500.0,810.1 L1505.1,814.0 L1510.2,817.9 L1515.3,821.5 L1520.4,824.9 L1525.5,827.9 L1530.6,830.7 L1535.8,833.1 L1540.9,835.2 L1546.0,836.9 L1551.1,838.1 L1556.2,839.0 L1561.3,839.5 L1566.4,839.7 L1571.5,839.5 L1576.6,838.9 L1581.7,838.1 L1586.8,836.9 L1592.0,835.5 L1597.1,833.9 L1602.2,832.2 L1607.3,830.3 L1612.4,828.2 L1617.5,826.2 L1622.6,824.2 L1627.7,822.2 L1632.8,820.3 L1637.9,818.5 L1643.0,817.0 L1648.2,815.7 L1653.3,814.7 L1658.4,814.0 L1663.5,813.6 L1668.6,813.6 L1673.7,814.0 L1673.7,851.4 Z" fill="#39B600" fill-opacity="0.6" stroke="none"/>
<path d="M1065.7,837.0 L1070.8,836.1 L1075.9,835.1 L1081.0,834.1 L1086.1,833.1 L1091.2,831.9 L1096.4,830.6 L1101.5,829.1 L1106.6,827.3 L1111.7,825.1 L1116.8,822.4 L1121.9,819.2 L1127.0,815.3 L1132.1,810.7 L1137.2,805.5 L1142.3,799.4 L1147.4,792.6 L1152.6,785.0 L1157.7,776.8 L1162.8,767.9 L1167.9,758.5 L1173.0,748.7 L1178.1,738.6 L1183.2,728.4 L1188.3,718.2 L1193.4,708.2 L1198.5,698.5 L1203.6,689.2 L1208.8,680.4 L1213.9,672.3 L1219.0,664.9 L1224.1,658.3 L1229.2,652.4 L1234.3,647.2 L1239.4,642.9 L1244.5,639.3 L1249.6,636.3 L1254.7,634.1 L1259.9,632.5 L1265.0,631.4 L1270.1,631.0 L1275.2,631.2 L1280.3,631.8 L1285.4,633.1 L1290.5,634.9 L1295.6,637.3 L1300.7,640.2 L1305.8,643.7 L1310.9,647.7 L1316.1,652.3 L1321.2,657.3 L1326.3,662.8 L1331.4,668.6 L1336.5,674.7 L1341.6,681.0 L1346.7,687.4 L1351.8,693.9 L1356.9,700.3 L1362.0,706.6 L1367.1,712.7 L1372.3,718.5 L1377.4,724.0 L1382.5,729.2 L1387.6,734.0 L1392.7,738.4 L1397.8,742.5 L1402.9,746.2 L1408.0,749.6 L1413.1,752.8 L1418.2,755.8 L1423.3,758.7 L1428.5,761.4 L1433.6,764.1 L1438.7,766.9 L1443.8,769.7 L1448.9,772.7 L1454.0,775.8 L1459.1,779.0 L1464.2,782.5 L1469.3,786.1 L1474.4,789.9 L1479.5,793.8 L1484.7,797.9 L1489.8,801.9 L1494.9,806.0 L1500.0,810.1 L1505.1,814.0 L1510.2,817.9 L1515.3,821.5 L1520.4,824.9 L1525.5,827.9 L1530.6,830.7 L1535.8,833.1 L1540.9,835.2 L1546.0,836.9 L1551.1,838.1 L1556.2,839.0 L1561.3,839.5 L1566.4,839.7 L1571.5,839.5 L1576.6,838.9 L1581.7,838.1 L1586.8,836.9 L1592.0,835.5 L1597.1,833.9 L1602.2,832.2 L1607.3,830.3 L1612.4,828.2 L1617.5,826.2 L1622.6,824.2 L1627.7,822.2 L1632.8,820.3 L1637.9,818.5 L1643.0,817.0 L1648.2,815.7 L1653.3,814.7 L1658.4,814.0 L1663.5,813.6 L1668.6,813.6 L1673.7,814.0" fill="none" stroke="#39B600" stroke-width="1.2"/>
<path d="M1065.7,851.4 L1065.7,810.5 L1070.8,808.0 L1075.9,805.4 L1081.0,802.7 L1086.1,800.0 L1091.2,797.1 L1096.4,794.1 L1101.5,791.1 L1106.6,787.9 L1111.7,784.6 L1116.8,781.2 L1121.9,777.7 L1127.0,774.1 L1132.1,770.5 L1137.2,766.8 L1142.3,763.0 L1147.4,759.2 L1152.6,755.4 L1157.7,751.7 L1162.8,748.0 L1167.9,744.3 L1173.0,740.8 L1178.1,737.4 L1183.2,734.2 L1188.3,731.2 L1193.4,728.5 L1198.5,725.9 L1203.6,723.7 L1208.8,721.7 L1213.9,720.0 L1219.0,718.6 L1224.1,717.5 L1229.2,716.8 L1234.3,716.3 L1239.4,716.1 L1244.5,716.1 L1249.6,716.4 L1254.7,716.9 L1259.9,717.6 L1265.0,718.4 L1270.1,719.4 L1275.2,720.5 L1280.3,721.7 L1285.4,722.9 L1290.5,724.2 L1295.6,725.4 L1300.7,726.7 L1305.8,727.9 L1310.9,729.1 L1316.1,730.3 L1321.2,731.4 L1326.3,732.4 L1331.4,733.4 L1336.5,734.4 L1341.6,735.3 L1346.7,736.1 L1351.8,737.0 L1356.9,737.8 L1362.0,738.6 L1367.1,739.4 L1372.3,740.2 L1377.4,740.9 L1382.5,741.7 L1387.6,742.5 L1392.7,743.3 L1397.8,744.2 L1402.9,745.0 L1408.0,745.8 L1413.1,746.6 L1418.2,747.5 L1423.3,748.3 L1428.5,749.1 L1433.6,749.9 L1438.7,750.7 L1443.8,751.5 L1448.9,752.3 L1454.0,753.1 L1459.1,753.8 L1464.2,754.6 L1469.3,755.4 L1474.4,756.2 L1479.5,757.0 L1484.7,757.9 L1489.8,758.8 L1494.9,759.7 L1500.0,760.7 L1505.1,761.7 L1510.2,762.7 L1515.3,763.8 L1520.4,764.9 L1525.5,766.0 L1530.6,767.1 L1535.8,768.2 L1540.9,769.3 L1546.0,770.4 L1551.1,771.4 L1556.2,772.4 L1561.3,773.5 L1566.4,774.6 L1571.5,775.7 L1576.6,776.9 L1581.7,778.2 L1586.8,779.7 L1592.0,781.4 L1597.1,783.2 L1602.2,785.3 L1607.3,787.6 L1612.4,790.1 L1617.5,792.7 L1622.6,795.4 L1627.7,798.3 L1632.8,801.1 L1637.9,804.0 L1643.0,806.8 L1648.2,809.6 L1653.3,812.2 L1658.4,814.7 L1663.5,817.1 L1668.6,819.3 L1673.7,821.4 L1673.7,851.4 Z" fill="#00BF7D" fill-opacity="0.6" stroke="none"/>
<path d="M1065.7,810.5 L1070.8,808.0 L1075.9,805.4 L1081.0,802.7 L1086.1,800.0 L1091.2,797.1 L1096.4,794.1 L1101.5,791.1 L1106.6,787.9 L1111.7,784.6 L1116.8,781.2 L1121.9,777.7 L1127.0,774.1 L1132.1,770.5 L1137.2,766.8 L1142.3,763.0 L1147.4,759.2 L1152.6,755.4 L1157.7,751.7 L1162.8,748.0 L1167.9,744.3 L1173.0,740.8 L1178.1,737.4 L1183.2,734.2 L1188.3,731.2 L1193.4,728.5 L1198.5,725.9 L1203.6,723.7 L1208.8,721.7 L1213.9,720.0 L1219.0,718.6 L1224.1,717.5 L1229.2,716.8 L1234.3,716.3 L1239.4,716.1 L1244.5,716.1 L1249.6,716.4 L1254.7,716.9 L1259.9,717.6 L1265.0,718.4 L1270.1,719.4 L1275.2,720.5 L1280.3,721.7 L1285.4,722.9 L1290.5,724.2 L1295.6,725.4 L1300.7,726.7 L1305.8,727.9 L1310.9,729.1 L1316.1,730.3 L1321.2,731.4 L1326.3,732.4 L1331.4,733.4 L1336.5,734.4 L1341.6,735.3 L1346.7,736.1 L1351.8,737.0 L1356.9,737.8 L1362.0,738.6 L1367.1,739.4 L1372.3,740.2 L1377.4,740.9 L1382.5,741.7 L1387.6,742.5 L1392.7,743.3 L1397.8,744.2 L1402.9,745.0 L1408.0,745.8 L1413.1,746.6 L1418.2,747.5 L1423.3,748.3 L1428.5,749.1 L1433.6,749.9 L1438.7,750.7 L1443.8,751.5 L1448.9,752.3 L1454.0,753.1 L1459.1,753.8 L1464.2,754.6 L1469.3,755.4 L1474.4,756.2 L1479.5,757.0 L1484.7,757.9 L1489.8,758.8 L1494.9,759.7 L1500.0,760.7 L1505.1,761.7 L1510.2,762.7 L1515.3,763.8 L1520.4,764.9 L1525.5,766.0 L1530.6,767.1 L1535.8,768.2 L1540.9,769.3 L1546.0,770.4 L1551.1,771.4 L1556.2,772.4 L1561.3,773.5 L1566.4,774.6 L1571.5,775.7 L1576.6,776.9 L1581.7,778.2 L1586.8,779.7 L1592.0,781.4 L1597.1,783.2 L1602.2,785.3 L1607.3,787.6 L1612.4,790.1 L1617.5,792.7 L1622.6,795.4 L1627.7,798.3 L1632.8,801.1 L1637.9,804.0 L1643.0,806.8 L1648.2,809.6 L1653.3,812.2 L1658.4,814.7 L1663.5,817.1 L1668.6,819.3 L1673.7,821.4" fill="none" stroke="#00BF7D" stroke-width="1.2"/>
<path d="M1065.7,851.4 L1065.7,835.7 L1070.8,834.5 L1075.9,833.2 L1081.0,831.7 L1086.1,830.1 L1091.2,828.3 L1096.4,826.3 L1101.5,823.9 L1106.6,821.3 L1111.7,818.4 L1116.8,815.1 L1121.9,811.4 L1127.0,807.2 L1132.1,802.7 L1137.2,797.7 L1142.3,792.3 L1147.4,786.4 L1152.6,780.2 L1157.7,773.6 L1162.8,766.7 L1167.9,759.5 L1173.0,752.2 L1178.1,744.7 L1183.2,737.2 L1188.3,729.7 L1193.4,722.4 L1198.5,715.2 L1203.6,708.4 L1208.8,702.0 L1213.9,696.0 L1219.0,690.5 L1224.1,685.6 L1229.2,681.4 L1234.3,677.7 L1239.4,674.7 L1244.5,672.4 L1249.6,670.7 L1254.7,669.7 L1259.9,669.2 L1265.0,669.2 L1270.1,669.8 L1275.2,670.7 L1280.3,672.0 L1285.4,673.6 L1290.5,675.4 L1295.6,677.3 L1300.7,679.3 L1305.8,681.3 L1310.9,683.2 L1316.1,685.1 L1321.2,686.9 L1326.3,688.5 L1331.4,689.9 L1336.5,691.2 L1341.6,692.3 L1346.7,693.3 L1351.8,694.2 L1356.9,694.9 L1362.0,695.6 L1367.1,696.3 L1372.3,697.1 L1377.4,697.9 L1382.5,698.8 L1387.6,700.0 L1392.7,701.4 L1397.8,703.1 L1402.9,705.1 L1408.0,707.4 L1413.1,710.1 L1418.2,713.2 L1423.3,716.7 L1428.5,720.5 L1433.6,724.7 L1438.7,729.2 L1443.8,734.0 L1448.9,739.1 L1454.0,744.4 L1459.1,749.8 L1464.2,755.3 L1469.3,760.8 L1474.4,766.4 L1479.5,771.8 L1484.7,777.2 L1489.8,782.3 L1494.9,787.3 L1500.0,792.0 L1505.1,796.5 L1510.2,800.6 L1515.3,804.4 L1520.4,807.9 L1525.5,811.0 L1530.6,813.8 L1535.8,816.2 L1540.9,818.2 L1546.0,819.9 L1551.1,821.3 L1556.2,822.3 L1561.3,823.1 L1566.4,823.5 L1571.5,823.7 L1576.6,823.7 L1581.7,823.4 L1586.8,823.0 L1592.0,822.5 L1597.1,821.9 L1602.2,821.2 L1607.3,820.4 L1612.4,819.7 L1617.5,819.0 L1622.6,818.5 L1627.7,818.0 L1632.8,817.6 L1637.9,817.4 L1643.0,817.4 L1648.2,817.6 L1653.3,817.9 L1658.4,818.5 L1663.5,819.2 L1668.6,820.1 L1673.7,821.2 L1673.7,851.4 Z" fill="#00BFC4" fill-opacity="0.6" stroke="none"/>
<path d="M1065.7,835.7 L1070.8,834.5 L1075.9,833.2 L1081.0,831.7 L1086.1,830.1 L1091.2,828.3 L1096.4,826.3 L1101.5,823.9 L1106.6,821.3 L1111.7,818.4 L1116.8,815.1 L1121.9,811.4 L1127.0,807.2 L1132.1,802.7 L1137.2,797.7 L1142.3,792.3 L1147.4,786.4 L1152.6,780.2 L1157.7,773.6 L1162.8,766.7 L1167.9,759.5 L1173.0,752.2 L1178.1,744.7 L1183.2,737.2 L1188.3,729.7 L1193.4,722.4 L1198.5,715.2 L1203.6,708.4 L1208.8,702.0 L1213.9,696.0 L1219.0,690.5 L1224.1,685.6 L1229.2,681.4 L1234.3,677.7 L1239.4,674.7 L1244.5,672.4 L1249.6,670.7 L1254.7,669.7 L1259.9,669.2 L1265.0,669.2 L1270.1,669.8 L1275.2,670.7 L1280.3,672.0 L1285.4,673.6 L1290.5,675.4 L1295.6,677.3 L1300.7,679.3 L1305.8,681.3 L1310.9,683.2 L1316.1,685.1 L1321.2,686.9 L1326.3,688.5 L1331.4,689.9 L1336.5,691.2 L1341.6,692.3 L1346.7,693.3 L1351.8,694.2 L1356.9,694.9 L1362.0,695.6 L1367.1,696.3 L1372.3,697.1 L1377.4,697.9 L1382.5,698.8 L1387.6,700.0 L1392.7,701.4 L1397.8,703.1 L1402.9,705.1 L1408.0,707.4 L1413.1,710.1 L1418.2,713.2 L1423.3,716.7 L1428.5,720.5 L1433.6,724.7 L1438.7,729.2 L1443.8,734.0 L1448.9,739.1 L1454.0,744.4 L1459.1,749.8 L1464.2,755.3 L1469.3,760.8 L1474.4,766.4 L1479.5,771.8 L1484.7,777.2 L1489.8,782.3 L1494.9,787.3 L1500.0,792.0 L1505.1,796.5 L1510.2,800.6 L1515.3,804.4 L1520.4,807.9 L1525.5,811.0 L1530.6,813.8 L1535.8,816.2 L1540.9,818.2 L1546.0,819.9 L1551.1,821.3 L1556.2,822.3 L1561.3,823.1 L1566.4,823.5 L1571.5,823.7 L1576.6,823.7 L1581.7,823.4 L1586.8,823.0 L1592.0,822.5 L1597.1,821.9 L1602.2,821.2 L1607.3,820.4 L1612.4,819.7 L1617.5,819.0 L1622.6,818.5 L1627.7,818.0 L1632.8,817.6 L1637.9,817.4 L1643.0,817.4 L1648.2,817.6 L1653.3,817.9 L1658.4,818.5 L1663.5,819.2 L1668.6,820.1 L1673.7,821.2" fill="none" stroke="#00BFC4" stroke-width="1.2"/>
<path d="M1065.7,851.4 L1065.7,821.6 L1070.8,818.8 L1075.9,815.8 L1081.0,812.8 L1086.1,809.6 L1091.2,806.2 L1096.4,802.7 L1101.5,799.1 L1106.6,795.3 L1111.7,791.4 L1116.8,787.4 L1121.9,783.3 L1127.0,779.1 L1132.1,774.8 L1137.2,770.4 L1142.3,766.1 L1147.4,761.6 L1152.6,757.2 L1157.7,752.9 L1162.8,748.5 L1167.9,744.3 L1173.0,740.2 L1178.1,736.2 L1183.2,732.5 L1188.3,728.9 L1193.4,725.6 L1198.5,722.6 L1203.6,719.9 L1208.8,717.4 L1213.9,715.3 L1219.0,713.5 L1224.1,712.0 L1229.2,710.8 L1234.3,709.9 L1239.4,709.3 L1244.5,708.8 L1249.6,708.5 L1254.7,708.4 L1259.9,708.3 L1265.0,708.3 L1270.1,708.2 L1275.2,708.0 L1280.3,707.7 L1285.4,707.2 L1290.5,706.5 L1295.6,705.5 L1300.7,704.2 L1305.8,702.7 L1310.9,700.9 L1316.1,698.8 L1321.2,696.5 L1326.3,693.9 L1331.4,691.2 L1336.5,688.3 L1341.6,685.3 L1346.7,682.4 L1351.8,679.5 L1356.9,676.7 L1362.0,674.2 L1367.1,671.9 L1372.3,670.1 L1377.4,668.7 L1382.5,667.9 L1387.6,667.6 L1392.7,668.0 L1397.8,669.2 L1402.9,671.0 L1408.0,673.6 L1413.1,677.0 L1418.2,681.2 L1423.3,686.1 L1428.5,691.7 L1433.6,697.9 L1438.7,704.7 L1443.8,712.0 L1448.9,719.8 L1454.0,727.8 L1459.1,736.0 L1464.2,744.3 L1469.3,752.7 L1474.4,760.9 L1479.5,769.0 L1484.7,776.8 L1489.8,784.2 L1494.9,791.3 L1500.0,797.8 L1505.1,803.9 L1510.2,809.4 L1515.3,814.4 L1520.4,818.8 L1525.5,822.7 L1530.6,825.9 L1535.8,828.7 L1540.9,830.9 L1546.0,832.7 L1551.1,834.0 L1556.2,834.9 L1561.3,835.4 L1566.4,835.6 L1571.5,835.6 L1576.6,835.3 L1581.7,834.7 L1586.8,834.1 L1592.0,833.3 L1597.1,832.5 L1602.2,831.7 L1607.3,830.8 L1612.4,830.1 L1617.5,829.4 L1622.6,828.8 L1627.7,828.3 L1632.8,828.0 L1637.9,827.9 L1643.0,827.9 L1648.2,828.2 L1653.3,828.6 L1658.4,829.1 L1663.5,829.8 L1668.6,830.7 L1673.7,831.7 L1673.7,851.4 Z" fill="#00B0F6" fill-opacity="0.6" stroke="none"/>
<path d="M1065.7,821.6 L1070.8,818.8 L1075.9,815.8 L1081.0,812.8 L1086.1,809.6 L1091.2,806.2 L1096.4,802.7 L1101.5,799.1 L1106.6,795.3 L1111.7,791.4 L1116.8,787.4 L1121.9,783.3 L1127.0,779.1 L1132.1,774.8 L1137.2,770.4 L1142.3,766.1 L1147.4,761.6 L1152.6,757.2 L1157.7,752.9 L1162.8,748.5 L1167.9,744.3 L1173.0,740.2 L1178.1,736.2 L1183.2,732.5 L1188.3,728.9 L1193.4,725.6 L1198.5,722.6 L1203.6,719.9 L1208.8,717.4 L1213.9,715.3 L1219.0,713.5 L1224.1,712.0 L1229.2,710.8 L1234.3,709.9 L1239.4,709.3 L1244.5,708.8 L1249.6,708.5 L1254.7,708.4 L1259.9,708.3 L1265.0,708.3 L1270.1,708.2 L1275.2,708.0 L1280.3,707.7 L1285.4,707.2 L1290.5,706.5 L1295.6,705.5 L1300.7,704.2 L1305.8,702.7 L1310.9,700.9 L1316.1,698.8 L1321.2,696.5 L1326.3,693.9 L1331.4,691.2 L1336.5,688.3 L1341.6,685.3 L1346.7,682.4 L1351.8,679.5 L1356.9,676.7 L1362.0,674.2 L1367.1,671.9 L1372.3,670.1 L1377.4,668.7 L1382.5,667.9 L1387.6,667.6 L1392.7,668.0 L1397.8,669.2 L1402.9,671.0 L1408.0,673.6 L1413.1,677.0 L1418.2,681.2 L1423.3,686.1 L1428.5,691.7 L1433.6,697.9 L1438.7,704.7 L1443.8,712.0 L1448.9,719.8 L1454.0,727.8 L1459.1,736.0 L1464.2,744.3 L1469.3,752.7 L1474.4,760.9 L1479.5,769.0 L1484.7,776.8 L1489.8,784.2 L1494.9,791.3 L1500.0,797.8 L1505.1,803.9 L1510.2,809.4 L1515.3,814.4 L1520.4,818.8 L1525.5,822.7 L1530.6,825.9 L1535.8,828.7 L1540.9,830.9 L1546.0,832.7 L1551.1,834.0 L1556.2,834.9 L1561.3,835.4 L1566.4,835.6 L1571.5,835.6 L1576.6,835.3 L1581.7,834.7 L1586.8,834.1 L1592.0,833.3 L1597.1,832.5 L1602.2,831.7 L1607.3,830.8 L1612.4,830.1 L1617.5,829.4 L1622.6,828.8 L1627.7,828.3 L1632.8,828.0 L1637.9,827.9 L1643.0,827.9 L1648.2,828.2 L1653.3,828.6 L1658.4,829.1 L1663.5,829.8 L1668.6,830.7 L1673.7,831.7" fill="none" stroke="#00B0F6" stroke-width="1.2"/>
<path d="M1065.7,851.4 L1065.7,770.3 L1070.8,766.1 L1075.9,762.0 L1081.0,757.9 L1086.1,753.9 L1091.2,750.1 L1096.4,746.4 L1101.5,742.9 L1106.6,739.5 L1111.7,736.3 L1116.8,733.3 L1121.9,730.4 L1127.0,727.8 L1132.1,725.4 L1137.2,723.2 L1142.3,721.2 L1147.4,719.4 L1152.6,717.8 L1157.7,716.4 L1162.8,715.1 L1167.9,714.1 L1173.0,713.2 L1178.1,712.4 L1183.2,711.8 L1188.3,711.4 L1193.4,711.0 L1198.5,710.8 L1203.6,710.7 L1208.8,710.7 L1213.9,710.8 L1219.0,710.9 L1224.1,711.1 L1229.2,711.4 L1234.3,711.7 L1239.4,712.1 L1244.5,712.5 L1249.6,713.0 L1254.7,713.5 L1259.9,714.0 L1265.0,714.6 L1270.1,715.2 L1275.2,715.8 L1280.3,716.5 L1285.4,717.1 L1290.5,717.8 L1295.6,718.6 L1300.7,719.4 L1305.8,720.2 L1310.9,721.0 L1316.1,722.0 L1321.2,722.9 L1326.3,724.0 L1331.4,725.1 L1336.5,726.3 L1341.6,727.5 L1346.7,728.9 L1351.8,730.4 L1356.9,731.9 L1362.0,733.6 L1367.1,735.4 L1372.3,737.4 L1377.4,739.5 L1382.5,741.7 L1387.6,744.0 L1392.7,746.5 L1397.8,749.1 L1402.9,751.9 L1408.0,754.8 L1413.1,757.8 L1418.2,760.9 L1423.3,764.1 L1428.5,767.4 L1433.6,770.8 L1438.7,774.2 L1443.8,777.7 L1448.9,781.2 L1454.0,784.7 L1459.1,788.2 L1464.2,791.6 L1469.3,795.0 L1474.4,798.3 L1479.5,801.5 L1484.7,804.6 L1489.8,807.5 L1494.9,810.3 L1500.0,813.0 L1505.1,815.4 L1510.2,817.7 L1515.3,819.7 L1520.4,821.5 L1525.5,823.2 L1530.6,824.6 L1535.8,825.8 L1540.9,826.8 L1546.0,827.6 L1551.1,828.2 L1556.2,828.6 L1561.3,828.8 L1566.4,828.8 L1571.5,828.8 L1576.6,828.5 L1581.7,828.2 L1586.8,827.8 L1592.0,827.3 L1597.1,826.8 L1602.2,826.2 L1607.3,825.6 L1612.4,825.1 L1617.5,824.5 L1622.6,824.0 L1627.7,823.6 L1632.8,823.3 L1637.9,823.1 L1643.0,822.9 L1648.2,822.9 L1653.3,823.0 L1658.4,823.2 L1663.5,823.6 L1668.6,824.0 L1673.7,824.6 L1673.7,851.4 Z" fill="#9590FF" fill-opacity="0.6" stroke="none"/>
<path d="M1065.7,770.3 L1070.8,766.1 L1075.9,762.0 L1081.0,757.9 L1086.1,753.9 L1091.2,750.1 L1096.4,746.4 L1101.5,742.9 L1106.6,739.5 L1111.7,736.3 L1116.8,733.3 L1121.9,730.4 L1127.0,727.8 L1132.1,725.4 L1137.2,723.2 L1142.3,721.2 L1147.4,719.4 L1152.6,717.8 L1157.7,716.4 L1162.8,715.1 L1167.9,714.1 L1173.0,713.2 L1178.1,712.4 L1183.2,711.8 L1188.3,711.4 L1193.4,711.0 L1198.5,710.8 L1203.6,710.7 L1208.8,710.7 L1213.9,710.8 L1219.0,710.9 L1224.1,711.1 L1229.2,711.4 L1234.3,711.7 L1239.4,712.1 L1244.5,712.5 L1249.6,713.0 L1254.7,713.5 L1259.9,714.0 L1265.0,714.6 L1270.1,715.2 L1275.2,715.8 L1280.3,716.5 L1285.4,717.1 L1290.5,717.8 L1295.6,718.6 L1300.7,719.4 L1305.8,720.2 L1310.9,721.0 L1316.1,722.0 L1321.2,722.9 L1326.3,724.0 L1331.4,725.1 L1336.5,726.3 L1341.6,727.5 L1346.7,728.9 L1351.8,730.4 L1356.9,731.9 L1362.0,733.6 L1367.1,735.4 L1372.3,737.4 L1377.4,739.5 L1382.5,741.7 L1387.6,744.0 L1392.7,746.5 L1397.8,749.1 L1402.9,751.9 L1408.0,754.8 L1413.1,757.8 L1418.2,760.9 L1423.3,764.1 L1428.5,767.4 L1433.6,770.8 L1438.7,774.2 L1443.8,777.7 L1448.9,781.2 L1454.0,784.7 L1459.1,788.2 L1464.2,791.6 L1469.3,795.0 L1474.4,798.3 L1479.5,801.5 L1484.7,804.6 L1489.8,807.5 L1494.9,810.3 L1500.0,813.0 L1505.1,815.4 L1510.2,817.7 L1515.3,819.7 L1520.4,821.5 L1525.5,823.2 L1530.6,824.6 L1535.8,825.8 L1540.9,826.8 L1546.0,827.6 L1551.1,828.2 L1556.2,828.6 L1561.3,828.8 L1566.4,828.8 L1571.5,828.8 L1576.6,828.5 L1581.7,828.2 L1586.8,827.8 L1592.0,827.3 L1597.1,826.8 L1602.2,826.2 L1607.3,825.6 L1612.4,825.1 L1617.5,824.5 L1622.6,824.0 L1627.7,823.6 L1632.8,823.3 L1637.9,823.1 L1643.0,822.9 L1648.2,822.9 L1653.3,823.0 L1658.4,823.2 L1663.5,823.6 L1668.6,824.0 L1673.7,824.6" fill="none" stroke="#9590FF" stroke-width="1.2"/>
<path d="M1065.7,851.4 L1065.7,833.3 L1070.8,831.3 L1075.9,829.1 L1081.0,826.9 L1086.1,824.5 L1091.2,821.9 L1096.4,819.2 L1101.5,816.4 L1106.6,813.4 L1111.7,810.2 L1116.8,806.9 L1121.9,803.3 L1127.0,799.5 L1132.1,795.5 L1137.2,791.2 L1142.3,786.7 L1147.4,782.0 L1152.6,777.1 L1157.7,771.9 L1162.8,766.6 L1167.9,761.2 L1173.0,755.6 L1178.1,749.9 L1183.2,744.3 L1188.3,738.7 L1193.4,733.1 L1198.5,727.7 L1203.6,722.5 L1208.8,717.5 L1213.9,712.8 L1219.0,708.3 L1224.1,704.2 L1229.2,700.3 L1234.3,696.9 L1239.4,693.7 L1244.5,690.8 L1249.6,688.3 L1254.7,686.1 L1259.9,684.1 L1265.0,682.4 L1270.1,680.9 L1275.2,679.7 L1280.3,678.7 L1285.4,677.9 L1290.5,677.4 L1295.6,677.2 L1300.7,677.2 L1305.8,677.5 L1310.9,678.1 L1316.1,679.0 L1321.2,680.3 L1326.3,682.0 L1331.4,684.0 L1336.5,686.4 L1341.6,689.2 L1346.7,692.4 L1351.8,696.0 L1356.9,699.8 L1362.0,704.0 L1367.1,708.4 L1372.3,713.1 L1377.4,717.9 L1382.5,722.8 L1387.6,727.8 L1392.7,732.8 L1397.8,737.8 L1402.9,742.6 L1408.0,747.3 L1413.1,751.8 L1418.2,756.1 L1423.3,760.1 L1428.5,763.8 L1433.6,767.2 L1438.7,770.4 L1443.8,773.2 L1448.9,775.8 L1454.0,778.1 L1459.1,780.1 L1464.2,782.0 L1469.3,783.7 L1474.4,785.3 L1479.5,786.8 L1484.7,788.2 L1489.8,789.6 L1494.9,791.1 L1500.0,792.5 L1505.1,794.1 L1510.2,795.6 L1515.3,797.3 L1520.4,799.0 L1525.5,800.7 L1530.6,802.4 L1535.8,804.1 L1540.9,805.8 L1546.0,807.3 L1551.1,808.7 L1556.2,810.0 L1561.3,811.1 L1566.4,811.9 L1571.5,812.5 L1576.6,812.9 L1581.7,813.0 L1586.8,812.8 L1592.0,812.4 L1597.1,811.8 L1602.2,810.9 L1607.3,810.0 L1612.4,808.9 L1617.5,807.8 L1622.6,806.8 L1627.7,805.8 L1632.8,804.9 L1637.9,804.2 L1643.0,803.7 L1648.2,803.5 L1653.3,803.6 L1658.4,804.0 L1663.5,804.7 L1668.6,805.7 L1673.7,807.0 L1673.7,851.4 Z" fill="#E76BF3" fill-opacity="0.6" stroke="none"/>
<path d="M1065.7,833.3 L1070.8,831.3 L1075.9,829.1 L1081.0,826.9 L1086.1,824.5 L1091.2,821.9 L1096.4,819.2 L1101.5,816.4 L1106.6,813.4 L1111.7,810.2 L1116.8,806.9 L1121.9,803.3 L1127.0,799.5 L1132.1,795.5 L1137.2,791.2 L1142.3,786.7 L1147.4,782.0 L1152.6,777.1 L1157.7,771.9 L1162.8,766.6 L1167.9,761.2 L1173.0,755.6 L1178.1,749.9 L1183.2,744.3 L1188.3,738.7 L1193.4,733.1 L1198.5,727.7 L1203.6,722.5 L1208.8,717.5 L1213.9,712.8 L1219.0,708.3 L1224.1,704.2 L1229.2,700.3 L1234.3,696.9 L1239.4,693.7 L1244.5,690.8 L1249.6,688.3 L1254.7,686.1 L1259.9,684.1 L1265.0,682.4 L1270.1,680.9 L1275.2,679.7 L1280.3,678.7 L1285.4,677.9 L1290.5,677.4 L1295.6,677.2 L1300.7,677.2 L1305.8,677.5 L1310.9,678.1 L1316.1,679.0 L1321.2,680.3 L1326.3,682.0 L1331.4,684.0 L1336.5,686.4 L1341.6,689.2 L1346.7,692.4 L1351.8,696.0 L1356.9,699.8 L1362.0,704.0 L1367.1,708.4 L1372.3,713.1 L1377.4,717.9 L1382.5,722.8 L1387.6,727.8 L1392.7,732.8 L1397.8,737.8 L1402.9,742.6 L1408.0,747.3 L1413.1,751.8 L1418.2,756.1 L1423.3,760.1 L1428.5,763.8 L1433.6,767.2 L1438.7,770.4 L1443.8,773.2 L1448.9,775.8 L1454.0,778.1 L1459.1,780.1 L1464.2,782.0 L1469.3,783.7 L1474.4,785.3 L1479.5,786.8 L1484.7,788.2 L1489.8,789.6 L1494.9,791.1 L1500.0,792.5 L1505.1,794.1 L1510.2,795.6 L1515.3,797.3 L1520.4,799.0 L1525.5,800.7 L1530.6,802.4 L1535.8,804.1 L1540.9,805.8 L1546.0,807.3 L1551.1,808.7 L1556.2,810.0 L1561.3,811.1 L1566.4,811.9 L1571.5,812.5 L1576.6,812.9 L1581.7,813.0 L1586.8,812.8 L1592.0,812.4 L1597.1,811.8 L1602.2,810.9 L1607.3,810.0 L1612.4,808.9 L1617.5,807.8 L1622.6,806.8 L1627.7,805.8 L1632.8,804.9 L1637.9,804.2 L1643.0,803.7 L1648.2,803.5 L1653.3,803.6 L1658.4,804.0 L1663.5,804.7 L1668.6,805.7 L1673.7,807.0" fill="none" stroke="#E76BF3" stroke-width="1.2"/>
<path d="M1065.7,851.4 L1065.7,780.4 L1070.8,775.0 L1075.9,769.4 L1081.0,763.8 L1086.1,758.1 L1091.2,752.5 L1096.4,746.8 L1101.5,741.2 L1106.6,735.6 L1111.7,730.2 L1116.8,724.9 L1121.9,719.7 L1127.0,714.7 L1132.1,709.9 L1137.2,705.4 L1142.3,701.0 L1147.4,696.9 L1152.6,693.1 L1157.7,689.5 L1162.8,686.2 L1167.9,683.2 L1173.0,680.4 L1178.1,677.8 L1183.2,675.5 L1188.3,673.4 L1193.4,671.5 L1198.5,669.9 L1203.6,668.5 L1208.8,667.3 L1213.9,666.4 L1219.0,665.8 L1224.1,665.5 L1229.2,665.5 L1234.3,665.9 L1239.4,666.6 L1244.5,667.8 L1249.6,669.4 L1254.7,671.4 L1259.9,673.9 L1265.0,676.8 L1270.1,680.1 L1275.2,683.9 L1280.3,688.0 L1285.4,692.5 L1290.5,697.4 L1295.6,702.6 L1300.7,708.0 L1305.8,713.7 L1310.9,719.6 L1316.1,725.6 L1321.2,731.7 L1326.3,737.9 L1331.4,744.1 L1336.5,750.3 L1341.6,756.4 L1346.7,762.4 L1351.8,768.3 L1356.9,774.0 L1362.0,779.6 L1367.1,784.9 L1372.3,790.0 L1377.4,794.8 L1382.5,799.3 L1387.6,803.5 L1392.7,807.3 L1397.8,810.8 L1402.9,813.9 L1408.0,816.6 L1413.1,819.0 L1418.2,821.0 L1423.3,822.6 L1428.5,823.9 L1433.6,824.9 L1438.7,825.5 L1443.8,825.9 L1448.9,826.0 L1454.0,825.8 L1459.1,825.4 L1464.2,824.9 L1469.3,824.2 L1474.4,823.3 L1479.5,822.4 L1484.7,821.3 L1489.8,820.2 L1494.9,819.1 L1500.0,818.0 L1505.1,817.0 L1510.2,815.9 L1515.3,815.0 L1520.4,814.1 L1525.5,813.4 L1530.6,812.7 L1535.8,812.2 L1540.9,811.9 L1546.0,811.7 L1551.1,811.7 L1556.2,811.8 L1561.3,812.0 L1566.4,812.4 L1571.5,812.8 L1576.6,813.4 L1581.7,814.0 L1586.8,814.7 L1592.0,815.4 L1597.1,816.1 L1602.2,816.8 L1607.3,817.4 L1612.4,818.0 L1617.5,818.5 L1622.6,819.0 L1627.7,819.5 L1632.8,819.8 L1637.9,820.2 L1643.0,820.5 L1648.2,820.9 L1653.3,821.3 L1658.4,821.7 L1663.5,822.2 L1668.6,822.8 L1673.7,823.4 L1673.7,851.4 Z" fill="#FF62BC" fill-opacity="0.6" stroke="none"/>
<path d="M1065.7,780.4 L1070.8,775.0 L1075.9,769.4 L1081.0,763.8 L1086.1,758.1 L1091.2,752.5 L1096.4,746.8 L1101.5,741.2 L1106.6,735.6 L1111.7,730.2 L1116.8,724.9 L1121.9,719.7 L1127.0,714.7 L1132.1,709.9 L1137.2,705.4 L1142.3,701.0 L1147.4,696.9 L1152.6,693.1 L1157.7,689.5 L1162.8,686.2 L1167.9,683.2 L1173.0,680.4 L1178.1,677.8 L1183.2,675.5 L1188.3,673.4 L1193.4,671.5 L1198.5,669.9 L1203.6,668.5 L1208.8,667.3 L1213.9,666.4 L1219.0,665.8 L1224.1,665.5 L1229.2,665.5 L1234.3,665.9 L1239.4,666.6 L1244.5,667.8 L1249.6,669.4 L1254.7,671.4 L1259.9,673.9 L1265.0,676.8 L1270.1,680.1 L1275.2,683.9 L1280.3,688.0 L1285.4,692.5 L1290.5,697.4 L1295.6,702.6 L1300.7,708.0 L1305.8,713.7 L1310.9,719.6 L1316.1,725.6 L1321.2,731.7 L1326.3,737.9 L1331.4,744.1 L1336.5,750.3 L1341.6,756.4 L1346.7,762.4 L1351.8,768.3 L1356.9,774.0 L1362.0,779.6 L1367.1,784.9 L1372.3,790.0 L1377.4,794.8 L1382.5,799.3 L1387.6,803.5 L1392.7,807.3 L1397.8,810.8 L1402.9,813.9 L1408.0,816.6 L1413.1,819.0 L1418.2,821.0 L1423.3,822.6 L1428.5,823.9 L1433.6,824.9 L1438.7,825.5 L1443.8,825.9 L1448.9,826.0 L1454.0,825.8 L1459.1,825.4 L1464.2,824.9 L1469.3,824.2 L1474.4,823.3 L1479.5,822.4 L1484.7,821.3 L1489.8,820.2 L1494.9,819.1 L1500.0,818.0 L1505.1,817.0 L1510.2,815.9 L1515.3,815.0 L1520.4,814.1 L1525.5,813.4 L1530.6,812.7 L1535.8,812.2 L1540.9,811.9 L1546.0,811.7 L1551.1,811.7 L1556.2,811.8 L1561.3,812.0 L1566.4,812.4 L1571.5,812.8 L1576.6,813.4 L1581.7,814.0 L1586.8,814.7 L1592.0,815.4 L1597.1,816.1 L1602.2,816.8 L1607.3,817.4 L1612.4,818.0 L1617.5,818.5 L1622.6,819.0 L1627.7,819.5 L1632.8,819.8 L1637.9,820.2 L1643.0,820.5 L1648.2,820.9 L1653.3,821.3 L1658.4,821.7 L1663.5,822.2 L1668.6,822.8 L1673.7,823.4" fill="none" stroke="#FF62BC" stroke-width="1.2"/>
<line x1="1305.3" y1="625.4" x2="1305.3" y2="862.6" stroke="#1a1a1a" stroke-width="2.6" stroke-dasharray="7.6,7.9"/>
<line x1="1034.9" y1="621.4" x2="1034.9" y2="863.7" stroke="#000" stroke-width="2.3"/>
<line x1="1033.8000000000002" y1="862.6" x2="1704" y2="862.6" stroke="#000" stroke-width="2.3"/>
<line x1="1065.7" y1="862.6" x2="1065.7" y2="870.6" stroke="#000" stroke-width="2.3"/>
<text x="1065.7" y="891.6" text-anchor="middle" font-size="17.8" fill="#4D4D4D">0.00</text>
<line x1="1217.7" y1="862.6" x2="1217.7" y2="870.6" stroke="#000" stroke-width="2.3"/>
<text x="1217.7" y="891.6" text-anchor="middle" font-size="17.8" fill="#4D4D4D">0.25</text>
<line x1="1369.7" y1="862.6" x2="1369.7" y2="870.6" stroke="#000" stroke-width="2.3"/>
<text x="1369.7" y="891.6" text-anchor="middle" font-size="17.8" fill="#4D4D4D">0.50</text>
<line x1="1521.7" y1="862.6" x2="1521.7" y2="870.6" stroke="#000" stroke-width="2.3"/>
<text x="1521.7" y="891.6" text-anchor="middle" font-size="17.8" fill="#4D4D4D">0.75</text>
<line x1="1673.7" y1="862.6" x2="1673.7" y2="870.6" stroke="#000" stroke-width="2.3"/>
<text x="1673.7" y="891.6" text-anchor="middle" font-size="17.8" fill="#4D4D4D">1.00</text>
<line x1="1026.9" y1="851.4" x2="1034.9" y2="851.4" stroke="#000" stroke-width="2.3"/>
<text x="1017.4000000000001" y="857.7" text-anchor="end" font-size="17.8" fill="#4D4D4D">0.0</text>
<line x1="1026.9" y1="801.8" x2="1034.9" y2="801.8" stroke="#000" stroke-width="2.3"/>
<text x="1017.4000000000001" y="808.1" text-anchor="end" font-size="17.8" fill="#4D4D4D">0.5</text>
<line x1="1026.9" y1="752.2" x2="1034.9" y2="752.2" stroke="#000" stroke-width="2.3"/>
<text x="1017.4000000000001" y="758.5" text-anchor="end" font-size="17.8" fill="#4D4D4D">1.0</text>
<line x1="1026.9" y1="702.6" x2="1034.9" y2="702.6" stroke="#000" stroke-width="2.3"/>
<text x="1017.4000000000001" y="708.9" text-anchor="end" font-size="17.8" fill="#4D4D4D">1.5</text>
<line x1="1026.9" y1="653.0" x2="1034.9" y2="653.0" stroke="#000" stroke-width="2.3"/>
<text x="1017.4000000000001" y="659.3" text-anchor="end" font-size="17.8" fill="#4D4D4D">2.0</text>
<text x="1368.8" y="597.1" text-anchor="middle" font-size="21.5" fill="#111">Density</text>
<text x="1369" y="923.1" text-anchor="middle" font-size="21" fill="#1a1a1a">Value</text>
<text transform="translate(982,742.0) rotate(-90)" text-anchor="middle" font-size="21" fill="#1a1a1a">density</text>
<text x="1124.3" y="1020.5" font-size="18" fill="#1a1a1a">Year</text>
<rect x="1173.3" y="984.5" width="28" height="28.3" fill="#F8766D" fill-opacity="0.6" stroke="#333" stroke-width="2"/>
<text x="1212.3" y="1004.5" font-size="17.5" fill="#1a1a1a">2011</text>
<rect x="1173.3" y="1014.8" width="28" height="28.3" fill="#D89000" fill-opacity="0.6" stroke="#333" stroke-width="2"/>
<text x="1212.3" y="1034.8" font-size="17.5" fill="#1a1a1a">2012</text>
<rect x="1263.6" y="984.5" width="28" height="28.3" fill="#A3A500" fill-opacity="0.6" stroke="#333" stroke-width="2"/>
<text x="1302.6" y="1004.5" font-size="17.5" fill="#1a1a1a">2013</text>
<rect x="1263.6" y="1014.8" width="28" height="28.3" fill="#39B600" fill-opacity="0.6" stroke="#333" stroke-width="2"/>
<text x="1302.6" y="1034.8" font-size="17.5" fill="#1a1a1a">2014</text>
<rect x="1353.8999999999999" y="984.5" width="28" height="28.3" fill="#00BF7D" fill-opacity="0.6" stroke="#333" stroke-width="2"/>
<text x="1392.8999999999999" y="1004.5" font-size="17.5" fill="#1a1a1a">2015</text>
<rect x="1353.8999999999999" y="1014.8" width="28" height="28.3" fill="#00BFC4" fill-opacity="0.6" stroke="#333" stroke-width="2"/>
<text x="1392.8999999999999" y="1034.8" font-size="17.5" fill="#1a1a1a">2016</text>
<rect x="1444.1999999999998" y="984.5" width="28" height="28.3" fill="#00B0F6" fill-opacity="0.6" stroke="#333" stroke-width="2"/>
<text x="1483.1999999999998" y="1004.5" font-size="17.5" fill="#1a1a1a">2017</text>
<rect x="1444.1999999999998" y="1014.8" width="28" height="28.3" fill="#9590FF" fill-opacity="0.6" stroke="#333" stroke-width="2"/>
<text x="1483.1999999999998" y="1034.8" font-size="17.5" fill="#1a1a1a">2018</text>
<rect x="1534.5" y="984.5" width="28" height="28.3" fill="#E76BF3" fill-opacity="0.6" stroke="#333" stroke-width="2"/>
<text x="1573.5" y="1004.5" font-size="17.5" fill="#1a1a1a">2019</text>
<rect x="1534.5" y="1014.8" width="28" height="28.3" fill="#FF62BC" fill-opacity="0.6" stroke="#333" stroke-width="2"/>
<text x="1573.5" y="1034.8" font-size="17.5" fill="#1a1a1a">2020</text>
<path d="M1047.4,1411.4 L1047.4,1364.6 L1052.7,1359.8 L1057.9,1354.9 L1063.2,1349.9 L1068.5,1344.7 L1073.7,1339.5 L1079.0,1334.2 L1084.3,1328.8 L1089.5,1323.3 L1094.8,1317.7 L1100.1,1312.0 L1105.3,1306.1 L1110.6,1299.9 L1115.9,1293.4 L1121.1,1286.5 L1126.4,1279.2 L1131.7,1271.4 L1136.9,1263.1 L1142.2,1254.4 L1147.5,1245.5 L1152.7,1236.3 L1158.0,1227.3 L1163.3,1218.6 L1168.5,1210.6 L1173.8,1203.5 L1179.1,1197.8 L1184.3,1193.6 L1189.6,1191.2 L1194.9,1190.7 L1200.1,1192.2 L1205.4,1195.7 L1210.7,1201.0 L1216.0,1207.9 L1221.2,1216.3 L1226.5,1225.9 L1231.8,1236.3 L1237.0,1247.2 L1242.3,1258.4 L1247.6,1269.6 L1252.8,1280.6 L1258.1,1291.3 L1263.4,1301.4 L1268.6,1310.8 L1273.9,1319.6 L1279.2,1327.6 L1284.4,1334.7 L1289.7,1341.1 L1295.0,1346.7 L1300.2,1351.5 L1305.5,1355.5 L1310.8,1358.9 L1316.0,1361.6 L1321.3,1363.7 L1326.6,1365.4 L1331.8,1366.6 L1337.1,1367.6 L1342.4,1368.4 L1347.6,1369.1 L1352.9,1369.8 L1358.2,1370.6 L1363.4,1371.5 L1368.7,1372.6 L1374.0,1374.0 L1379.2,1375.6 L1384.5,1377.4 L1389.8,1379.4 L1395.0,1381.6 L1400.3,1384.0 L1405.6,1386.4 L1410.8,1388.9 L1416.1,1391.3 L1421.4,1393.6 L1426.6,1395.8 L1431.9,1397.8 L1437.2,1399.6 L1442.4,1401.2 L1447.7,1402.4 L1453.0,1403.4 L1458.2,1404.1 L1463.5,1404.6 L1468.8,1404.8 L1474.0,1404.8 L1479.3,1404.5 L1484.6,1404.1 L1489.8,1403.6 L1495.1,1402.9 L1500.4,1402.3 L1505.6,1401.6 L1510.9,1400.9 L1516.2,1400.2 L1521.5,1399.7 L1526.7,1399.3 L1532.0,1399.0 L1537.3,1398.8 L1542.5,1398.7 L1547.8,1398.8 L1553.1,1398.9 L1558.3,1399.1 L1563.6,1399.2 L1568.9,1399.3 L1574.1,1399.3 L1579.4,1399.1 L1584.7,1398.8 L1589.9,1398.2 L1595.2,1397.3 L1600.5,1396.2 L1605.7,1394.7 L1611.0,1393.1 L1616.3,1391.2 L1621.5,1389.1 L1626.8,1386.9 L1632.1,1384.7 L1637.3,1382.6 L1642.6,1380.6 L1647.9,1378.9 L1653.1,1377.4 L1658.4,1376.4 L1663.7,1375.8 L1668.9,1375.7 L1674.2,1376.1 L1674.2,1411.4 Z" fill="#F8766D" fill-opacity="0.6" stroke="none"/>
<path d="M1047.4,1364.6 L1052.7,1359.8 L1057.9,1354.9 L1063.2,1349.9 L1068.5,1344.7 L1073.7,1339.5 L1079.0,1334.2 L1084.3,1328.8 L1089.5,1323.3 L1094.8,1317.7 L1100.1,1312.0 L1105.3,1306.1 L1110.6,1299.9 L1115.9,1293.4 L1121.1,1286.5 L1126.4,1279.2 L1131.7,1271.4 L1136.9,1263.1 L1142.2,1254.4 L1147.5,1245.5 L1152.7,1236.3 L1158.0,1227.3 L1163.3,1218.6 L1168.5,1210.6 L1173.8,1203.5 L1179.1,1197.8 L1184.3,1193.6 L1189.6,1191.2 L1194.9,1190.7 L1200.1,1192.2 L1205.4,1195.7 L1210.7,1201.0 L1216.0,1207.9 L1221.2,1216.3 L1226.5,1225.9 L1231.8,1236.3 L1237.0,1247.2 L1242.3,1258.4 L1247.6,1269.6 L1252.8,1280.6 L1258.1,1291.3 L1263.4,1301.4 L1268.6,1310.8 L1273.9,1319.6 L1279.2,1327.6 L1284.4,1334.7 L1289.7,1341.1 L1295.0,1346.7 L1300.2,1351.5 L1305.5,1355.5 L1310.8,1358.9 L1316.0,1361.6 L1321.3,1363.7 L1326.6,1365.4 L1331.8,1366.6 L1337.1,1367.6 L1342.4,1368.4 L1347.6,1369.1 L1352.9,1369.8 L1358.2,1370.6 L1363.4,1371.5 L1368.7,1372.6 L1374.0,1374.0 L1379.2,1375.6 L1384.5,1377.4 L1389.8,1379.4 L1395.0,1381.6 L1400.3,1384.0 L1405.6,1386.4 L1410.8,1388.9 L1416.1,1391.3 L1421.4,1393.6 L1426.6,1395.8 L1431.9,1397.8 L1437.2,1399.6 L1442.4,1401.2 L1447.7,1402.4 L1453.0,1403.4 L1458.2,1404.1 L1463.5,1404.6 L1468.8,1404.8 L1474.0,1404.8 L1479.3,1404.5 L1484.6,1404.1 L1489.8,1403.6 L1495.1,1402.9 L1500.4,1402.3 L1505.6,1401.6 L1510.9,1400.9 L1516.2,1400.2 L1521.5,1399.7 L1526.7,1399.3 L1532.0,1399.0 L1537.3,1398.8 L1542.5,1398.7 L1547.8,1398.8 L1553.1,1398.9 L1558.3,1399.1 L1563.6,1399.2 L1568.9,1399.3 L1574.1,1399.3 L1579.4,1399.1 L1584.7,1398.8 L1589.9,1398.2 L1595.2,1397.3 L1600.5,1396.2 L1605.7,1394.7 L1611.0,1393.1 L1616.3,1391.2 L1621.5,1389.1 L1626.8,1386.9 L1632.1,1384.7 L1637.3,1382.6 L1642.6,1380.6 L1647.9,1378.9 L1653.1,1377.4 L1658.4,1376.4 L1663.7,1375.8 L1668.9,1375.7 L1674.2,1376.1" fill="none" stroke="#F8766D" stroke-width="1.2"/>
<path d="M1047.4,1411.4 L1047.4,1375.4 L1052.7,1371.9 L1057.9,1368.2 L1063.2,1364.3 L1068.5,1360.3 L1073.7,1356.0 L1079.0,1351.5 L1084.3,1346.7 L1089.5,1341.6 L1094.8,1336.3 L1100.1,1330.6 L1105.3,1324.7 L1110.6,1318.4 L1115.9,1312.0 L1121.1,1305.4 L1126.4,1298.7 L1131.7,1292.0 L1136.9,1285.3 L1142.2,1278.9 L1147.5,1272.6 L1152.7,1266.7 L1158.0,1261.2 L1163.3,1256.2 L1168.5,1251.7 L1173.8,1247.8 L1179.1,1244.4 L1184.3,1241.5 L1189.6,1239.2 L1194.9,1237.4 L1200.1,1236.1 L1205.4,1235.3 L1210.7,1234.8 L1216.0,1234.8 L1221.2,1235.1 L1226.5,1235.7 L1231.8,1236.7 L1237.0,1238.0 L1242.3,1239.6 L1247.6,1241.6 L1252.8,1244.0 L1258.1,1246.8 L1263.4,1250.0 L1268.6,1253.6 L1273.9,1257.7 L1279.2,1262.3 L1284.4,1267.2 L1289.7,1272.6 L1295.0,1278.4 L1300.2,1284.5 L1305.5,1290.9 L1310.8,1297.5 L1316.0,1304.3 L1321.3,1311.1 L1326.6,1318.0 L1331.8,1324.8 L1337.1,1331.5 L1342.4,1337.9 L1347.6,1344.2 L1352.9,1350.1 L1358.2,1355.6 L1363.4,1360.7 L1368.7,1365.4 L1374.0,1369.7 L1379.2,1373.4 L1384.5,1376.7 L1389.8,1379.6 L1395.0,1382.0 L1400.3,1384.0 L1405.6,1385.7 L1410.8,1387.0 L1416.1,1388.0 L1421.4,1388.8 L1426.6,1389.4 L1431.9,1389.8 L1437.2,1390.0 L1442.4,1390.2 L1447.7,1390.2 L1453.0,1390.2 L1458.2,1390.1 L1463.5,1389.9 L1468.8,1389.6 L1474.0,1389.2 L1479.3,1388.8 L1484.6,1388.3 L1489.8,1387.8 L1495.1,1387.2 L1500.4,1386.6 L1505.6,1386.1 L1510.9,1385.5 L1516.2,1385.0 L1521.5,1384.6 L1526.7,1384.3 L1532.0,1384.1 L1537.3,1384.1 L1542.5,1384.1 L1547.8,1384.2 L1553.1,1384.5 L1558.3,1384.8 L1563.6,1385.1 L1568.9,1385.4 L1574.1,1385.7 L1579.4,1385.8 L1584.7,1385.8 L1589.9,1385.6 L1595.2,1385.2 L1600.5,1384.5 L1605.7,1383.6 L1611.0,1382.4 L1616.3,1381.0 L1621.5,1379.5 L1626.8,1377.7 L1632.1,1376.0 L1637.3,1374.2 L1642.6,1372.5 L1647.9,1371.0 L1653.1,1369.8 L1658.4,1368.9 L1663.7,1368.4 L1668.9,1368.4 L1674.2,1368.8 L1674.2,1411.4 Z" fill="#D89000" fill-opacity="0.6" stroke="none"/>
<path d="M1047.4,1375.4 L1052.7,1371.9 L1057.9,1368.2 L1063.2,1364.3 L1068.5,1360.3 L1073.7,1356.0 L1079.0,1351.5 L1084.3,1346.7 L1089.5,1341.6 L1094.8,1336.3 L1100.1,1330.6 L1105.3,1324.7 L1110.6,1318.4 L1115.9,1312.0 L1121.1,1305.4 L1126.4,1298.7 L1131.7,1292.0 L1136.9,1285.3 L1142.2,1278.9 L1147.5,1272.6 L1152.7,1266.7 L1158.0,1261.2 L1163.3,1256.2 L1168.5,1251.7 L1173.8,1247.8 L1179.1,1244.4 L1184.3,1241.5 L1189.6,1239.2 L1194.9,1237.4 L1200.1,1236.1 L1205.4,1235.3 L1210.7,1234.8 L1216.0,1234.8 L1221.2,1235.1 L1226.5,1235.7 L1231.8,1236.7 L1237.0,1238.0 L1242.3,1239.6 L1247.6,1241.6 L1252.8,1244.0 L1258.1,1246.8 L1263.4,1250.0 L1268.6,1253.6 L1273.9,1257.7 L1279.2,1262.3 L1284.4,1267.2 L1289.7,1272.6 L1295.0,1278.4 L1300.2,1284.5 L1305.5,1290.9 L1310.8,1297.5 L1316.0,1304.3 L1321.3,1311.1 L1326.6,1318.0 L1331.8,1324.8 L1337.1,1331.5 L1342.4,1337.9 L1347.6,1344.2 L1352.9,1350.1 L1358.2,1355.6 L1363.4,1360.7 L1368.7,1365.4 L1374.0,1369.7 L1379.2,1373.4 L1384.5,1376.7 L1389.8,1379.6 L1395.0,1382.0 L1400.3,1384.0 L1405.6,1385.7 L1410.8,1387.0 L1416.1,1388.0 L1421.4,1388.8 L1426.6,1389.4 L1431.9,1389.8 L1437.2,1390.0 L1442.4,1390.2 L1447.7,1390.2 L1453.0,1390.2 L1458.2,1390.1 L1463.5,1389.9 L1468.8,1389.6 L1474.0,1389.2 L1479.3,1388.8 L1484.6,1388.3 L1489.8,1387.8 L1495.1,1387.2 L1500.4,1386.6 L1505.6,1386.1 L1510.9,1385.5 L1516.2,1385.0 L1521.5,1384.6 L1526.7,1384.3 L1532.0,1384.1 L1537.3,1384.1 L1542.5,1384.1 L1547.8,1384.2 L1553.1,1384.5 L1558.3,1384.8 L1563.6,1385.1 L1568.9,1385.4 L1574.1,1385.7 L1579.4,1385.8 L1584.7,1385.8 L1589.9,1385.6 L1595.2,1385.2 L1600.5,1384.5 L1605.7,1383.6 L1611.0,1382.4 L1616.3,1381.0 L1621.5,1379.5 L1626.8,1377.7 L1632.1,1376.0 L1637.3,1374.2 L1642.6,1372.5 L1647.9,1371.0 L1653.1,1369.8 L1658.4,1368.9 L1663.7,1368.4 L1668.9,1368.4 L1674.2,1368.8" fill="none" stroke="#D89000" stroke-width="1.2"/>
<path d="M1047.4,1411.4 L1047.4,1380.7 L1052.7,1381.4 L1057.9,1382.2 L1063.2,1383.0 L1068.5,1383.6 L1073.7,1383.9 L1079.0,1383.9 L1084.3,1383.4 L1089.5,1382.4 L1094.8,1381.0 L1100.1,1379.0 L1105.3,1376.5 L1110.6,1373.4 L1115.9,1369.7 L1121.1,1365.6 L1126.4,1360.9 L1131.7,1355.7 L1136.9,1350.2 L1142.2,1344.3 L1147.5,1338.1 L1152.7,1331.7 L1158.0,1325.3 L1163.3,1318.8 L1168.5,1312.4 L1173.8,1306.2 L1179.1,1300.2 L1184.3,1294.5 L1189.6,1289.1 L1194.9,1284.2 L1200.1,1279.6 L1205.4,1275.5 L1210.7,1271.8 L1216.0,1268.5 L1221.2,1265.5 L1226.5,1262.9 L1231.8,1260.5 L1237.0,1258.3 L1242.3,1256.2 L1247.6,1254.2 L1252.8,1252.4 L1258.1,1250.8 L1263.4,1249.6 L1268.6,1248.8 L1273.9,1248.6 L1279.2,1249.3 L1284.4,1251.1 L1289.7,1254.0 L1295.0,1258.3 L1300.2,1263.9 L1305.5,1270.9 L1310.8,1279.2 L1316.0,1288.6 L1321.3,1298.9 L1326.6,1309.8 L1331.8,1321.0 L1337.1,1332.1 L1342.4,1343.0 L1347.6,1353.4 L1352.9,1362.9 L1358.2,1371.6 L1363.4,1379.2 L1368.7,1385.9 L1374.0,1391.5 L1379.2,1396.1 L1384.5,1399.9 L1389.8,1402.9 L1395.0,1405.2 L1400.3,1406.9 L1405.6,1408.2 L1410.8,1409.1 L1416.1,1409.7 L1421.4,1410.1 L1426.6,1410.3 L1431.9,1410.3 L1437.2,1410.1 L1442.4,1409.8 L1447.7,1409.3 L1453.0,1408.6 L1458.2,1407.8 L1463.5,1406.7 L1468.8,1405.5 L1474.0,1404.0 L1479.3,1402.4 L1484.6,1400.5 L1489.8,1398.5 L1495.1,1396.4 L1500.4,1394.2 L1505.6,1392.0 L1510.9,1389.8 L1516.2,1387.6 L1521.5,1385.6 L1526.7,1383.7 L1532.0,1382.0 L1537.3,1380.4 L1542.5,1379.1 L1547.8,1377.9 L1553.1,1376.9 L1558.3,1376.1 L1563.6,1375.3 L1568.9,1374.7 L1574.1,1374.0 L1579.4,1373.3 L1584.7,1372.5 L1589.9,1371.5 L1595.2,1370.4 L1600.5,1369.2 L1605.7,1367.7 L1611.0,1366.2 L1616.3,1364.7 L1621.5,1363.4 L1626.8,1362.3 L1632.1,1361.6 L1637.3,1361.4 L1642.6,1361.9 L1647.9,1363.0 L1653.1,1364.9 L1658.4,1367.4 L1663.7,1370.6 L1668.9,1374.2 L1674.2,1378.2 L1674.2,1411.4 Z" fill="#A3A500" fill-opacity="0.6" stroke="none"/>
<path d="M1047.4,1380.7 L1052.7,1381.4 L1057.9,1382.2 L1063.2,1383.0 L1068.5,1383.6 L1073.7,1383.9 L1079.0,1383.9 L1084.3,1383.4 L1089.5,1382.4 L1094.8,1381.0 L1100.1,1379.0 L1105.3,1376.5 L1110.6,1373.4 L1115.9,1369.7 L1121.1,1365.6 L1126.4,1360.9 L1131.7,1355.7 L1136.9,1350.2 L1142.2,1344.3 L1147.5,1338.1 L1152.7,1331.7 L1158.0,1325.3 L1163.3,1318.8 L1168.5,1312.4 L1173.8,1306.2 L1179.1,1300.2 L1184.3,1294.5 L1189.6,1289.1 L1194.9,1284.2 L1200.1,1279.6 L1205.4,1275.5 L1210.7,1271.8 L1216.0,1268.5 L1221.2,1265.5 L1226.5,1262.9 L1231.8,1260.5 L1237.0,1258.3 L1242.3,1256.2 L1247.6,1254.2 L1252.8,1252.4 L1258.1,1250.8 L1263.4,1249.6 L1268.6,1248.8 L1273.9,1248.6 L1279.2,1249.3 L1284.4,1251.1 L1289.7,1254.0 L1295.0,1258.3 L1300.2,1263.9 L1305.5,1270.9 L1310.8,1279.2 L1316.0,1288.6 L1321.3,1298.9 L1326.6,1309.8 L1331.8,1321.0 L1337.1,1332.1 L1342.4,1343.0 L1347.6,1353.4 L1352.9,1362.9 L1358.2,1371.6 L1363.4,1379.2 L1368.7,1385.9 L1374.0,1391.5 L1379.2,1396.1 L1384.5,1399.9 L1389.8,1402.9 L1395.0,1405.2 L1400.3,1406.9 L1405.6,1408.2 L1410.8,1409.1 L1416.1,1409.7 L1421.4,1410.1 L1426.6,1410.3 L1431.9,1410.3 L1437.2,1410.1 L1442.4,1409.8 L1447.7,1409.3 L1453.0,1408.6 L1458.2,1407.8 L1463.5,1406.7 L1468.8,1405.5 L1474.0,1404.0 L1479.3,1402.4 L1484.6,1400.5 L1489.8,1398.5 L1495.1,1396.4 L1500.4,1394.2 L1505.6,1392.0 L1510.9,1389.8 L1516.2,1387.6 L1521.5,1385.6 L1526.7,1383.7 L1532.0,1382.0 L1537.3,1380.4 L1542.5,1379.1 L1547.8,1377.9 L1553.1,1376.9 L1558.3,1376.1 L1563.6,1375.3 L1568.9,1374.7 L1574.1,1374.0 L1579.4,1373.3 L1584.7,1372.5 L1589.9,1371.5 L1595.2,1370.4 L1600.5,1369.2 L1605.7,1367.7 L1611.0,1366.2 L1616.3,1364.7 L1621.5,1363.4 L1626.8,1362.3 L1632.1,1361.6 L1637.3,1361.4 L1642.6,1361.9 L1647.9,1363.0 L1653.1,1364.9 L1658.4,1367.4 L1663.7,1370.6 L1668.9,1374.2 L1674.2,1378.2" fill="none" stroke="#A3A500" stroke-width="1.2"/>
<path d="M1047.4,1411.4 L1047.4,1378.4 L1052.7,1375.5 L1057.9,1372.5 L1063.2,1369.5 L1068.5,1366.3 L1073.7,1363.1 L1079.0,1359.9 L1084.3,1356.6 L1089.5,1353.2 L1094.8,1349.8 L1100.1,1346.3 L1105.3,1342.8 L1110.6,1339.2 L1115.9,1335.6 L1121.1,1331.9 L1126.4,1328.1 L1131.7,1324.3 L1136.9,1320.3 L1142.2,1316.3 L1147.5,1312.2 L1152.7,1308.0 L1158.0,1303.7 L1163.3,1299.4 L1168.5,1294.9 L1173.8,1290.5 L1179.1,1286.0 L1184.3,1281.6 L1189.6,1277.3 L1194.9,1273.1 L1200.1,1269.0 L1205.4,1265.1 L1210.7,1261.6 L1216.0,1258.3 L1221.2,1255.5 L1226.5,1253.1 L1231.8,1251.1 L1237.0,1249.6 L1242.3,1248.7 L1247.6,1248.3 L1252.8,1248.5 L1258.1,1249.3 L1263.4,1250.5 L1268.6,1252.3 L1273.9,1254.6 L1279.2,1257.4 L1284.4,1260.5 L1289.7,1264.1 L1295.0,1267.9 L1300.2,1272.0 L1305.5,1276.4 L1310.8,1280.9 L1316.0,1285.6 L1321.3,1290.4 L1326.6,1295.3 L1331.8,1300.2 L1337.1,1305.2 L1342.4,1310.1 L1347.6,1315.1 L1352.9,1320.1 L1358.2,1325.0 L1363.4,1330.0 L1368.7,1334.9 L1374.0,1339.7 L1379.2,1344.5 L1384.5,1349.2 L1389.8,1353.8 L1395.0,1358.4 L1400.3,1362.7 L1405.6,1367.0 L1410.8,1371.1 L1416.1,1375.0 L1421.4,1378.7 L1426.6,1382.1 L1431.9,1385.4 L1437.2,1388.3 L1442.4,1391.0 L1447.7,1393.5 L1453.0,1395.6 L1458.2,1397.5 L1463.5,1399.1 L1468.8,1400.3 L1474.0,1401.4 L1479.3,1402.1 L1484.6,1402.5 L1489.8,1402.7 L1495.1,1402.6 L1500.4,1402.2 L1505.6,1401.5 L1510.9,1400.6 L1516.2,1399.4 L1521.5,1397.9 L1526.7,1396.2 L1532.0,1394.2 L1537.3,1392.0 L1542.5,1389.6 L1547.8,1386.9 L1553.1,1384.1 L1558.3,1381.0 L1563.6,1377.8 L1568.9,1374.5 L1574.1,1371.1 L1579.4,1367.6 L1584.7,1364.1 L1589.9,1360.6 L1595.2,1357.2 L1600.5,1354.0 L1605.7,1350.9 L1611.0,1348.0 L1616.3,1345.4 L1621.5,1343.2 L1626.8,1341.2 L1632.1,1339.7 L1637.3,1338.6 L1642.6,1338.0 L1647.9,1337.8 L1653.1,1338.1 L1658.4,1338.9 L1663.7,1340.2 L1668.9,1341.8 L1674.2,1343.9 L1674.2,1411.4 Z" fill="#39B600" fill-opacity="0.6" stroke="none"/>
<path d="M1047.4,1378.4 L1052.7,1375.5 L1057.9,1372.5 L1063.2,1369.5 L1068.5,1366.3 L1073.7,1363.1 L1079.0,1359.9 L1084.3,1356.6 L1089.5,1353.2 L1094.8,1349.8 L1100.1,1346.3 L1105.3,1342.8 L1110.6,1339.2 L1115.9,1335.6 L1121.1,1331.9 L1126.4,1328.1 L1131.7,1324.3 L1136.9,1320.3 L1142.2,1316.3 L1147.5,1312.2 L1152.7,1308.0 L1158.0,1303.7 L1163.3,1299.4 L1168.5,1294.9 L1173.8,1290.5 L1179.1,1286.0 L1184.3,1281.6 L1189.6,1277.3 L1194.9,1273.1 L1200.1,1269.0 L1205.4,1265.1 L1210.7,1261.6 L1216.0,1258.3 L1221.2,1255.5 L1226.5,1253.1 L1231.8,1251.1 L1237.0,1249.6 L1242.3,1248.7 L1247.6,1248.3 L1252.8,1248.5 L1258.1,1249.3 L1263.4,1250.5 L1268.6,1252.3 L1273.9,1254.6 L1279.2,1257.4 L1284.4,1260.5 L1289.7,1264.1 L1295.0,1267.9 L1300.2,1272.0 L1305.5,1276.4 L1310.8,1280.9 L1316.0,1285.6 L1321.3,1290.4 L1326.6,1295.3 L1331.8,1300.2 L1337.1,1305.2 L1342.4,1310.1 L1347.6,1315.1 L1352.9,1320.1 L1358.2,1325.0 L1363.4,1330.0 L1368.7,1334.9 L1374.0,1339.7 L1379.2,1344.5 L1384.5,1349.2 L1389.8,1353.8 L1395.0,1358.4 L1400.3,1362.7 L1405.6,1367.0 L1410.8,1371.1 L1416.1,1375.0 L1421.4,1378.7 L1426.6,1382.1 L1431.9,1385.4 L1437.2,1388.3 L1442.4,1391.0 L1447.7,1393.5 L1453.0,1395.6 L1458.2,1397.5 L1463.5,1399.1 L1468.8,1400.3 L1474.0,1401.4 L1479.3,1402.1 L1484.6,1402.5 L1489.8,1402.7 L1495.1,1402.6 L1500.4,1402.2 L1505.6,1401.5 L1510.9,1400.6 L1516.2,1399.4 L1521.5,1397.9 L1526.7,1396.2 L1532.0,1394.2 L1537.3,1392.0 L1542.5,1389.6 L1547.8,1386.9 L1553.1,1384.1 L1558.3,1381.0 L1563.6,1377.8 L1568.9,1374.5 L1574.1,1371.1 L1579.4,1367.6 L1584.7,1364.1 L1589.9,1360.6 L1595.2,1357.2 L1600.5,1354.0 L1605.7,1350.9 L1611.0,1348.0 L1616.3,1345.4 L1621.5,1343.2 L1626.8,1341.2 L1632.1,1339.7 L1637.3,1338.6 L1642.6,1338.0 L1647.9,1337.8 L1653.1,1338.1 L1658.4,1338.9 L1663.7,1340.2 L1668.9,1341.8 L1674.2,1343.9" fill="none" stroke="#39B600" stroke-width="1.2"/>
<path d="M1047.4,1411.4 L1047.4,1374.9 L1052.7,1372.9 L1057.9,1370.8 L1063.2,1368.8 L1068.5,1366.8 L1073.7,1364.8 L1079.0,1362.9 L1084.3,1360.9 L1089.5,1359.1 L1094.8,1357.2 L1100.1,1355.4 L1105.3,1353.7 L1110.6,1352.1 L1115.9,1350.5 L1121.1,1349.0 L1126.4,1347.6 L1131.7,1346.2 L1136.9,1344.9 L1142.2,1343.6 L1147.5,1342.5 L1152.7,1341.4 L1158.0,1340.3 L1163.3,1339.3 L1168.5,1338.3 L1173.8,1337.4 L1179.1,1336.5 L1184.3,1335.6 L1189.6,1334.7 L1194.9,1333.8 L1200.1,1332.9 L1205.4,1332.0 L1210.7,1331.1 L1216.0,1330.2 L1221.2,1329.3 L1226.5,1328.3 L1231.8,1327.3 L1237.0,1326.3 L1242.3,1325.3 L1247.6,1324.3 L1252.8,1323.2 L1258.1,1322.2 L1263.4,1321.1 L1268.6,1320.1 L1273.9,1319.1 L1279.2,1318.1 L1284.4,1317.2 L1289.7,1316.3 L1295.0,1315.4 L1300.2,1314.7 L1305.5,1314.0 L1310.8,1313.5 L1316.0,1313.0 L1321.3,1312.7 L1326.6,1312.5 L1331.8,1312.4 L1337.1,1312.5 L1342.4,1312.7 L1347.6,1313.0 L1352.9,1313.6 L1358.2,1314.3 L1363.4,1315.1 L1368.7,1316.1 L1374.0,1317.2 L1379.2,1318.5 L1384.5,1319.9 L1389.8,1321.5 L1395.0,1323.1 L1400.3,1324.9 L1405.6,1326.8 L1410.8,1328.7 L1416.1,1330.7 L1421.4,1332.7 L1426.6,1334.8 L1431.9,1336.9 L1437.2,1339.0 L1442.4,1341.0 L1447.7,1343.1 L1453.0,1345.1 L1458.2,1347.0 L1463.5,1348.9 L1468.8,1350.6 L1474.0,1352.3 L1479.3,1353.9 L1484.6,1355.3 L1489.8,1356.6 L1495.1,1357.8 L1500.4,1358.9 L1505.6,1359.8 L1510.9,1360.5 L1516.2,1361.1 L1521.5,1361.6 L1526.7,1361.9 L1532.0,1362.2 L1537.3,1362.2 L1542.5,1362.2 L1547.8,1362.0 L1553.1,1361.8 L1558.3,1361.4 L1563.6,1361.0 L1568.9,1360.5 L1574.1,1360.0 L1579.4,1359.4 L1584.7,1358.8 L1589.9,1358.2 L1595.2,1357.6 L1600.5,1357.0 L1605.7,1356.5 L1611.0,1356.0 L1616.3,1355.6 L1621.5,1355.3 L1626.8,1355.0 L1632.1,1354.9 L1637.3,1354.8 L1642.6,1354.9 L1647.9,1355.1 L1653.1,1355.4 L1658.4,1355.9 L1663.7,1356.5 L1668.9,1357.2 L1674.2,1358.0 L1674.2,1411.4 Z" fill="#00BF7D" fill-opacity="0.6" stroke="none"/>
<path d="M1047.4,1374.9 L1052.7,1372.9 L1057.9,1370.8 L1063.2,1368.8 L1068.5,1366.8 L1073.7,1364.8 L1079.0,1362.9 L1084.3,1360.9 L1089.5,1359.1 L1094.8,1357.2 L1100.1,1355.4 L1105.3,1353.7 L1110.6,1352.1 L1115.9,1350.5 L1121.1,1349.0 L1126.4,1347.6 L1131.7,1346.2 L1136.9,1344.9 L1142.2,1343.6 L1147.5,1342.5 L1152.7,1341.4 L1158.0,1340.3 L1163.3,1339.3 L1168.5,1338.3 L1173.8,1337.4 L1179.1,1336.5 L1184.3,1335.6 L1189.6,1334.7 L1194.9,1333.8 L1200.1,1332.9 L1205.4,1332.0 L1210.7,1331.1 L1216.0,1330.2 L1221.2,1329.3 L1226.5,1328.3 L1231.8,1327.3 L1237.0,1326.3 L1242.3,1325.3 L1247.6,1324.3 L1252.8,1323.2 L1258.1,1322.2 L1263.4,1321.1 L1268.6,1320.1 L1273.9,1319.1 L1279.2,1318.1 L1284.4,1317.2 L1289.7,1316.3 L1295.0,1315.4 L1300.2,1314.7 L1305.5,1314.0 L1310.8,1313.5 L1316.0,1313.0 L1321.3,1312.7 L1326.6,1312.5 L1331.8,1312.4 L1337.1,1312.5 L1342.4,1312.7 L1347.6,1313.0 L1352.9,1313.6 L1358.2,1314.3 L1363.4,1315.1 L1368.7,1316.1 L1374.0,1317.2 L1379.2,1318.5 L1384.5,1319.9 L1389.8,1321.5 L1395.0,1323.1 L1400.3,1324.9 L1405.6,1326.8 L1410.8,1328.7 L1416.1,1330.7 L1421.4,1332.7 L1426.6,1334.8 L1431.9,1336.9 L1437.2,1339.0 L1442.4,1341.0 L1447.7,1343.1 L1453.0,1345.1 L1458.2,1347.0 L1463.5,1348.9 L1468.8,1350.6 L1474.0,1352.3 L1479.3,1353.9 L1484.6,1355.3 L1489.8,1356.6 L1495.1,1357.8 L1500.4,1358.9 L1505.6,1359.8 L1510.9,1360.5 L1516.2,1361.1 L1521.5,1361.6 L1526.7,1361.9 L1532.0,1362.2 L1537.3,1362.2 L1542.5,1362.2 L1547.8,1362.0 L1553.1,1361.8 L1558.3,1361.4 L1563.6,1361.0 L1568.9,1360.5 L1574.1,1360.0 L1579.4,1359.4 L1584.7,1358.8 L1589.9,1358.2 L1595.2,1357.6 L1600.5,1357.0 L1605.7,1356.5 L1611.0,1356.0 L1616.3,1355.6 L1621.5,1355.3 L1626.8,1355.0 L1632.1,1354.9 L1637.3,1354.8 L1642.6,1354.9 L1647.9,1355.1 L1653.1,1355.4 L1658.4,1355.9 L1663.7,1356.5 L1668.9,1357.2 L1674.2,1358.0" fill="none" stroke="#00BF7D" stroke-width="1.2"/>
<path d="M1047.4,1411.4 L1047.4,1394.0 L1052.7,1392.2 L1057.9,1390.4 L1063.2,1388.4 L1068.5,1386.3 L1073.7,1384.0 L1079.0,1381.7 L1084.3,1379.3 L1089.5,1376.8 L1094.8,1374.1 L1100.1,1371.4 L1105.3,1368.7 L1110.6,1365.8 L1115.9,1362.9 L1121.1,1359.9 L1126.4,1356.9 L1131.7,1353.8 L1136.9,1350.8 L1142.2,1347.7 L1147.5,1344.6 L1152.7,1341.6 L1158.0,1338.5 L1163.3,1335.5 L1168.5,1332.5 L1173.8,1329.6 L1179.1,1326.8 L1184.3,1324.0 L1189.6,1321.2 L1194.9,1318.6 L1200.1,1316.0 L1205.4,1313.5 L1210.7,1311.1 L1216.0,1308.8 L1221.2,1306.6 L1226.5,1304.4 L1231.8,1302.3 L1237.0,1300.4 L1242.3,1298.5 L1247.6,1296.7 L1252.8,1295.0 L1258.1,1293.4 L1263.4,1292.0 L1268.6,1290.6 L1273.9,1289.4 L1279.2,1288.3 L1284.4,1287.3 L1289.7,1286.5 L1295.0,1285.8 L1300.2,1285.4 L1305.5,1285.1 L1310.8,1285.0 L1316.0,1285.1 L1321.3,1285.4 L1326.6,1286.0 L1331.8,1286.8 L1337.1,1287.8 L1342.4,1289.0 L1347.6,1290.5 L1352.9,1292.1 L1358.2,1294.0 L1363.4,1296.1 L1368.7,1298.4 L1374.0,1300.9 L1379.2,1303.5 L1384.5,1306.2 L1389.8,1309.1 L1395.0,1312.0 L1400.3,1315.0 L1405.6,1318.1 L1410.8,1321.2 L1416.1,1324.2 L1421.4,1327.3 L1426.6,1330.3 L1431.9,1333.2 L1437.2,1336.1 L1442.4,1338.8 L1447.7,1341.5 L1453.0,1344.0 L1458.2,1346.4 L1463.5,1348.6 L1468.8,1350.8 L1474.0,1352.7 L1479.3,1354.5 L1484.6,1356.2 L1489.8,1357.7 L1495.1,1359.0 L1500.4,1360.3 L1505.6,1361.3 L1510.9,1362.3 L1516.2,1363.1 L1521.5,1363.8 L1526.7,1364.3 L1532.0,1364.8 L1537.3,1365.1 L1542.5,1365.4 L1547.8,1365.5 L1553.1,1365.6 L1558.3,1365.6 L1563.6,1365.5 L1568.9,1365.4 L1574.1,1365.2 L1579.4,1364.9 L1584.7,1364.7 L1589.9,1364.4 L1595.2,1364.0 L1600.5,1363.7 L1605.7,1363.4 L1611.0,1363.2 L1616.3,1363.0 L1621.5,1362.8 L1626.8,1362.7 L1632.1,1362.7 L1637.3,1362.7 L1642.6,1362.9 L1647.9,1363.2 L1653.1,1363.6 L1658.4,1364.1 L1663.7,1364.7 L1668.9,1365.5 L1674.2,1366.4 L1674.2,1411.4 Z" fill="#00BFC4" fill-opacity="0.6" stroke="none"/>
<path d="M1047.4,1394.0 L1052.7,1392.2 L1057.9,1390.4 L1063.2,1388.4 L1068.5,1386.3 L1073.7,1384.0 L1079.0,1381.7 L1084.3,1379.3 L1089.5,1376.8 L1094.8,1374.1 L1100.1,1371.4 L1105.3,1368.7 L1110.6,1365.8 L1115.9,1362.9 L1121.1,1359.9 L1126.4,1356.9 L1131.7,1353.8 L1136.9,1350.8 L1142.2,1347.7 L1147.5,1344.6 L1152.7,1341.6 L1158.0,1338.5 L1163.3,1335.5 L1168.5,1332.5 L1173.8,1329.6 L1179.1,1326.8 L1184.3,1324.0 L1189.6,1321.2 L1194.9,1318.6 L1200.1,1316.0 L1205.4,1313.5 L1210.7,1311.1 L1216.0,1308.8 L1221.2,1306.6 L1226.5,1304.4 L1231.8,1302.3 L1237.0,1300.4 L1242.3,1298.5 L1247.6,1296.7 L1252.8,1295.0 L1258.1,1293.4 L1263.4,1292.0 L1268.6,1290.6 L1273.9,1289.4 L1279.2,1288.3 L1284.4,1287.3 L1289.7,1286.5 L1295.0,1285.8 L1300.2,1285.4 L1305.5,1285.1 L1310.8,1285.0 L1316.0,1285.1 L1321.3,1285.4 L1326.6,1286.0 L1331.8,1286.8 L1337.1,1287.8 L1342.4,1289.0 L1347.6,1290.5 L1352.9,1292.1 L1358.2,1294.0 L1363.4,1296.1 L1368.7,1298.4 L1374.0,1300.9 L1379.2,1303.5 L1384.5,1306.2 L1389.8,1309.1 L1395.0,1312.0 L1400.3,1315.0 L1405.6,1318.1 L1410.8,1321.2 L1416.1,1324.2 L1421.4,1327.3 L1426.6,1330.3 L1431.9,1333.2 L1437.2,1336.1 L1442.4,1338.8 L1447.7,1341.5 L1453.0,1344.0 L1458.2,1346.4 L1463.5,1348.6 L1468.8,1350.8 L1474.0,1352.7 L1479.3,1354.5 L1484.6,1356.2 L1489.8,1357.7 L1495.1,1359.0 L1500.4,1360.3 L1505.6,1361.3 L1510.9,1362.3 L1516.2,1363.1 L1521.5,1363.8 L1526.7,1364.3 L1532.0,1364.8 L1537.3,1365.1 L1542.5,1365.4 L1547.8,1365.5 L1553.1,1365.6 L1558.3,1365.6 L1563.6,1365.5 L1568.9,1365.4 L1574.1,1365.2 L1579.4,1364.9 L1584.7,1364.7 L1589.9,1364.4 L1595.2,1364.0 L1600.5,1363.7 L1605.7,1363.4 L1611.0,1363.2 L1616.3,1363.0 L1621.5,1362.8 L1626.8,1362.7 L1632.1,1362.7 L1637.3,1362.7 L1642.6,1362.9 L1647.9,1363.2 L1653.1,1363.6 L1658.4,1364.1 L1663.7,1364.7 L1668.9,1365.5 L1674.2,1366.4" fill="none" stroke="#00BFC4" stroke-width="1.2"/>
<path d="M1047.4,1411.4 L1047.4,1402.1 L1052.7,1401.1 L1057.9,1400.0 L1063.2,1399.0 L1068.5,1397.8 L1073.7,1396.6 L1079.0,1395.4 L1084.3,1394.0 L1089.5,1392.6 L1094.8,1391.1 L1100.1,1389.5 L1105.3,1387.8 L1110.6,1385.9 L1115.9,1383.8 L1121.1,1381.6 L1126.4,1379.2 L1131.7,1376.6 L1136.9,1373.8 L1142.2,1370.8 L1147.5,1367.5 L1152.7,1364.0 L1158.0,1360.3 L1163.3,1356.4 L1168.5,1352.3 L1173.8,1348.1 L1179.1,1343.7 L1184.3,1339.2 L1189.6,1334.7 L1194.9,1330.1 L1200.1,1325.4 L1205.4,1320.8 L1210.7,1316.2 L1216.0,1311.7 L1221.2,1307.3 L1226.5,1303.0 L1231.8,1298.9 L1237.0,1294.8 L1242.3,1291.0 L1247.6,1287.3 L1252.8,1283.8 L1258.1,1280.4 L1263.4,1277.3 L1268.6,1274.3 L1273.9,1271.5 L1279.2,1268.8 L1284.4,1266.4 L1289.7,1264.1 L1295.0,1262.1 L1300.2,1260.3 L1305.5,1258.7 L1310.8,1257.3 L1316.0,1256.2 L1321.3,1255.4 L1326.6,1254.9 L1331.8,1254.7 L1337.1,1254.9 L1342.4,1255.4 L1347.6,1256.2 L1352.9,1257.4 L1358.2,1259.0 L1363.4,1261.0 L1368.7,1263.3 L1374.0,1266.0 L1379.2,1269.1 L1384.5,1272.5 L1389.8,1276.1 L1395.0,1280.1 L1400.3,1284.2 L1405.6,1288.6 L1410.8,1293.2 L1416.1,1297.9 L1421.4,1302.7 L1426.6,1307.6 L1431.9,1312.5 L1437.2,1317.4 L1442.4,1322.2 L1447.7,1327.0 L1453.0,1331.7 L1458.2,1336.2 L1463.5,1340.5 L1468.8,1344.6 L1474.0,1348.5 L1479.3,1352.2 L1484.6,1355.5 L1489.8,1358.5 L1495.1,1361.2 L1500.4,1363.6 L1505.6,1365.6 L1510.9,1367.3 L1516.2,1368.6 L1521.5,1369.6 L1526.7,1370.3 L1532.0,1370.7 L1537.3,1370.8 L1542.5,1370.7 L1547.8,1370.4 L1553.1,1369.9 L1558.3,1369.3 L1563.6,1368.5 L1568.9,1367.7 L1574.1,1366.8 L1579.4,1365.9 L1584.7,1365.0 L1589.9,1364.2 L1595.2,1363.3 L1600.5,1362.6 L1605.7,1361.9 L1611.0,1361.2 L1616.3,1360.7 L1621.5,1360.3 L1626.8,1360.1 L1632.1,1359.9 L1637.3,1360.0 L1642.6,1360.2 L1647.9,1360.5 L1653.1,1361.1 L1658.4,1361.8 L1663.7,1362.8 L1668.9,1363.9 L1674.2,1365.2 L1674.2,1411.4 Z" fill="#00B0F6" fill-opacity="0.6" stroke="none"/>
<path d="M1047.4,1402.1 L1052.7,1401.1 L1057.9,1400.0 L1063.2,1399.0 L1068.5,1397.8 L1073.7,1396.6 L1079.0,1395.4 L1084.3,1394.0 L1089.5,1392.6 L1094.8,1391.1 L1100.1,1389.5 L1105.3,1387.8 L1110.6,1385.9 L1115.9,1383.8 L1121.1,1381.6 L1126.4,1379.2 L1131.7,1376.6 L1136.9,1373.8 L1142.2,1370.8 L1147.5,1367.5 L1152.7,1364.0 L1158.0,1360.3 L1163.3,1356.4 L1168.5,1352.3 L1173.8,1348.1 L1179.1,1343.7 L1184.3,1339.2 L1189.6,1334.7 L1194.9,1330.1 L1200.1,1325.4 L1205.4,1320.8 L1210.7,1316.2 L1216.0,1311.7 L1221.2,1307.3 L1226.5,1303.0 L1231.8,1298.9 L1237.0,1294.8 L1242.3,1291.0 L1247.6,1287.3 L1252.8,1283.8 L1258.1,1280.4 L1263.4,1277.3 L1268.6,1274.3 L1273.9,1271.5 L1279.2,1268.8 L1284.4,1266.4 L1289.7,1264.1 L1295.0,1262.1 L1300.2,1260.3 L1305.5,1258.7 L1310.8,1257.3 L1316.0,1256.2 L1321.3,1255.4 L1326.6,1254.9 L1331.8,1254.7 L1337.1,1254.9 L1342.4,1255.4 L1347.6,1256.2 L1352.9,1257.4 L1358.2,1259.0 L1363.4,1261.0 L1368.7,1263.3 L1374.0,1266.0 L1379.2,1269.1 L1384.5,1272.5 L1389.8,1276.1 L1395.0,1280.1 L1400.3,1284.2 L1405.6,1288.6 L1410.8,1293.2 L1416.1,1297.9 L1421.4,1302.7 L1426.6,1307.6 L1431.9,1312.5 L1437.2,1317.4 L1442.4,1322.2 L1447.7,1327.0 L1453.0,1331.7 L1458.2,1336.2 L1463.5,1340.5 L1468.8,1344.6 L1474.0,1348.5 L1479.3,1352.2 L1484.6,1355.5 L1489.8,1358.5 L1495.1,1361.2 L1500.4,1363.6 L1505.6,1365.6 L1510.9,1367.3 L1516.2,1368.6 L1521.5,1369.6 L1526.7,1370.3 L1532.0,1370.7 L1537.3,1370.8 L1542.5,1370.7 L1547.8,1370.4 L1553.1,1369.9 L1558.3,1369.3 L1563.6,1368.5 L1568.9,1367.7 L1574.1,1366.8 L1579.4,1365.9 L1584.7,1365.0 L1589.9,1364.2 L1595.2,1363.3 L1600.5,1362.6 L1605.7,1361.9 L1611.0,1361.2 L1616.3,1360.7 L1621.5,1360.3 L1626.8,1360.1 L1632.1,1359.9 L1637.3,1360.0 L1642.6,1360.2 L1647.9,1360.5 L1653.1,1361.1 L1658.4,1361.8 L1663.7,1362.8 L1668.9,1363.9 L1674.2,1365.2" fill="none" stroke="#00B0F6" stroke-width="1.2"/>
<path d="M1047.4,1411.4 L1047.4,1397.7 L1052.7,1396.4 L1057.9,1394.9 L1063.2,1393.4 L1068.5,1391.8 L1073.7,1390.0 L1079.0,1388.1 L1084.3,1386.1 L1089.5,1383.9 L1094.8,1381.6 L1100.1,1379.1 L1105.3,1376.5 L1110.6,1373.7 L1115.9,1370.8 L1121.1,1367.7 L1126.4,1364.5 L1131.7,1361.2 L1136.9,1357.8 L1142.2,1354.3 L1147.5,1350.8 L1152.7,1347.3 L1158.0,1343.8 L1163.3,1340.4 L1168.5,1337.1 L1173.8,1333.8 L1179.1,1330.7 L1184.3,1327.7 L1189.6,1324.8 L1194.9,1322.1 L1200.1,1319.6 L1205.4,1317.2 L1210.7,1314.9 L1216.0,1312.8 L1221.2,1310.7 L1226.5,1308.8 L1231.8,1306.8 L1237.0,1304.9 L1242.3,1303.0 L1247.6,1301.1 L1252.8,1299.1 L1258.1,1297.1 L1263.4,1295.0 L1268.6,1293.0 L1273.9,1290.9 L1279.2,1288.8 L1284.4,1286.7 L1289.7,1284.7 L1295.0,1282.8 L1300.2,1281.0 L1305.5,1279.3 L1310.8,1277.9 L1316.0,1276.8 L1321.3,1275.9 L1326.6,1275.4 L1331.8,1275.2 L1337.1,1275.4 L1342.4,1276.0 L1347.6,1277.0 L1352.9,1278.4 L1358.2,1280.2 L1363.4,1282.4 L1368.7,1285.0 L1374.0,1288.0 L1379.2,1291.3 L1384.5,1294.9 L1389.8,1298.8 L1395.0,1302.9 L1400.3,1307.2 L1405.6,1311.7 L1410.8,1316.3 L1416.1,1320.9 L1421.4,1325.5 L1426.6,1330.1 L1431.9,1334.7 L1437.2,1339.1 L1442.4,1343.3 L1447.7,1347.3 L1453.0,1351.1 L1458.2,1354.6 L1463.5,1357.8 L1468.8,1360.7 L1474.0,1363.2 L1479.3,1365.5 L1484.6,1367.4 L1489.8,1369.0 L1495.1,1370.2 L1500.4,1371.2 L1505.6,1372.0 L1510.9,1372.5 L1516.2,1372.7 L1521.5,1372.8 L1526.7,1372.8 L1532.0,1372.6 L1537.3,1372.3 L1542.5,1372.0 L1547.8,1371.5 L1553.1,1371.1 L1558.3,1370.6 L1563.6,1370.1 L1568.9,1369.6 L1574.1,1369.1 L1579.4,1368.5 L1584.7,1368.0 L1589.9,1367.4 L1595.2,1366.9 L1600.5,1366.3 L1605.7,1365.7 L1611.0,1365.1 L1616.3,1364.6 L1621.5,1364.0 L1626.8,1363.6 L1632.1,1363.1 L1637.3,1362.8 L1642.6,1362.6 L1647.9,1362.5 L1653.1,1362.5 L1658.4,1362.8 L1663.7,1363.2 L1668.9,1363.9 L1674.2,1364.8 L1674.2,1411.4 Z" fill="#9590FF" fill-opacity="0.6" stroke="none"/>
<path d="M1047.4,1397.7 L1052.7,1396.4 L1057.9,1394.9 L1063.2,1393.4 L1068.5,1391.8 L1073.7,1390.0 L1079.0,1388.1 L1084.3,1386.1 L1089.5,1383.9 L1094.8,1381.6 L1100.1,1379.1 L1105.3,1376.5 L1110.6,1373.7 L1115.9,1370.8 L1121.1,1367.7 L1126.4,1364.5 L1131.7,1361.2 L1136.9,1357.8 L1142.2,1354.3 L1147.5,1350.8 L1152.7,1347.3 L1158.0,1343.8 L1163.3,1340.4 L1168.5,1337.1 L1173.8,1333.8 L1179.1,1330.7 L1184.3,1327.7 L1189.6,1324.8 L1194.9,1322.1 L1200.1,1319.6 L1205.4,1317.2 L1210.7,1314.9 L1216.0,1312.8 L1221.2,1310.7 L1226.5,1308.8 L1231.8,1306.8 L1237.0,1304.9 L1242.3,1303.0 L1247.6,1301.1 L1252.8,1299.1 L1258.1,1297.1 L1263.4,1295.0 L1268.6,1293.0 L1273.9,1290.9 L1279.2,1288.8 L1284.4,1286.7 L1289.7,1284.7 L1295.0,1282.8 L1300.2,1281.0 L1305.5,1279.3 L1310.8,1277.9 L1316.0,1276.8 L1321.3,1275.9 L1326.6,1275.4 L1331.8,1275.2 L1337.1,1275.4 L1342.4,1276.0 L1347.6,1277.0 L1352.9,1278.4 L1358.2,1280.2 L1363.4,1282.4 L1368.7,1285.0 L1374.0,1288.0 L1379.2,1291.3 L1384.5,1294.9 L1389.8,1298.8 L1395.0,1302.9 L1400.3,1307.2 L1405.6,1311.7 L1410.8,1316.3 L1416.1,1320.9 L1421.4,1325.5 L1426.6,1330.1 L1431.9,1334.7 L1437.2,1339.1 L1442.4,1343.3 L1447.7,1347.3 L1453.0,1351.1 L1458.2,1354.6 L1463.5,1357.8 L1468.8,1360.7 L1474.0,1363.2 L1479.3,1365.5 L1484.6,1367.4 L1489.8,1369.0 L1495.1,1370.2 L1500.4,1371.2 L1505.6,1372.0 L1510.9,1372.5 L1516.2,1372.7 L1521.5,1372.8 L1526.7,1372.8 L1532.0,1372.6 L1537.3,1372.3 L1542.5,1372.0 L1547.8,1371.5 L1553.1,1371.1 L1558.3,1370.6 L1563.6,1370.1 L1568.9,1369.6 L1574.1,1369.1 L1579.4,1368.5 L1584.7,1368.0 L1589.9,1367.4 L1595.2,1366.9 L1600.5,1366.3 L1605.7,1365.7 L1611.0,1365.1 L1616.3,1364.6 L1621.5,1364.0 L1626.8,1363.6 L1632.1,1363.1 L1637.3,1362.8 L1642.6,1362.6 L1647.9,1362.5 L1653.1,1362.5 L1658.4,1362.8 L1663.7,1363.2 L1668.9,1363.9 L1674.2,1364.8" fill="none" stroke="#9590FF" stroke-width="1.2"/>
<path d="M1047.4,1411.4 L1047.4,1393.6 L1052.7,1392.6 L1057.9,1391.6 L1063.2,1390.6 L1068.5,1389.7 L1073.7,1388.7 L1079.0,1387.8 L1084.3,1386.9 L1089.5,1386.0 L1094.8,1385.1 L1100.1,1384.3 L1105.3,1383.5 L1110.6,1382.7 L1115.9,1381.9 L1121.1,1381.2 L1126.4,1380.4 L1131.7,1379.7 L1136.9,1379.0 L1142.2,1378.3 L1147.5,1377.6 L1152.7,1376.9 L1158.0,1376.1 L1163.3,1375.4 L1168.5,1374.6 L1173.8,1373.7 L1179.1,1372.9 L1184.3,1371.9 L1189.6,1370.9 L1194.9,1369.8 L1200.1,1368.6 L1205.4,1367.3 L1210.7,1365.9 L1216.0,1364.5 L1221.2,1362.9 L1226.5,1361.2 L1231.8,1359.4 L1237.0,1357.5 L1242.3,1355.5 L1247.6,1353.4 L1252.8,1351.2 L1258.1,1349.0 L1263.4,1346.6 L1268.6,1344.2 L1273.9,1341.7 L1279.2,1339.2 L1284.4,1336.6 L1289.7,1334.1 L1295.0,1331.6 L1300.2,1329.1 L1305.5,1326.6 L1310.8,1324.2 L1316.0,1321.9 L1321.3,1319.8 L1326.6,1317.7 L1331.8,1315.8 L1337.1,1314.1 L1342.4,1312.6 L1347.6,1311.2 L1352.9,1310.1 L1358.2,1309.2 L1363.4,1308.6 L1368.7,1308.2 L1374.0,1308.1 L1379.2,1308.2 L1384.5,1308.5 L1389.8,1309.2 L1395.0,1310.0 L1400.3,1311.1 L1405.6,1312.4 L1410.8,1314.0 L1416.1,1315.7 L1421.4,1317.6 L1426.6,1319.6 L1431.9,1321.8 L1437.2,1324.1 L1442.4,1326.4 L1447.7,1328.8 L1453.0,1331.2 L1458.2,1333.6 L1463.5,1335.9 L1468.8,1338.2 L1474.0,1340.4 L1479.3,1342.5 L1484.6,1344.4 L1489.8,1346.1 L1495.1,1347.7 L1500.4,1349.0 L1505.6,1350.2 L1510.9,1351.1 L1516.2,1351.7 L1521.5,1352.1 L1526.7,1352.3 L1532.0,1352.2 L1537.3,1351.8 L1542.5,1351.2 L1547.8,1350.4 L1553.1,1349.3 L1558.3,1348.1 L1563.6,1346.6 L1568.9,1345.0 L1574.1,1343.3 L1579.4,1341.4 L1584.7,1339.5 L1589.9,1337.5 L1595.2,1335.5 L1600.5,1333.5 L1605.7,1331.5 L1611.0,1329.6 L1616.3,1327.9 L1621.5,1326.2 L1626.8,1324.7 L1632.1,1323.4 L1637.3,1322.4 L1642.6,1321.5 L1647.9,1320.9 L1653.1,1320.6 L1658.4,1320.6 L1663.7,1320.9 L1668.9,1321.4 L1674.2,1322.3 L1674.2,1411.4 Z" fill="#E76BF3" fill-opacity="0.6" stroke="none"/>
<path d="M1047.4,1393.6 L1052.7,1392.6 L1057.9,1391.6 L1063.2,1390.6 L1068.5,1389.7 L1073.7,1388.7 L1079.0,1387.8 L1084.3,1386.9 L1089.5,1386.0 L1094.8,1385.1 L1100.1,1384.3 L1105.3,1383.5 L1110.6,1382.7 L1115.9,1381.9 L1121.1,1381.2 L1126.4,1380.4 L1131.7,1379.7 L1136.9,1379.0 L1142.2,1378.3 L1147.5,1377.6 L1152.7,1376.9 L1158.0,1376.1 L1163.3,1375.4 L1168.5,1374.6 L1173.8,1373.7 L1179.1,1372.9 L1184.3,1371.9 L1189.6,1370.9 L1194.9,1369.8 L1200.1,1368.6 L1205.4,1367.3 L1210.7,1365.9 L1216.0,1364.5 L1221.2,1362.9 L1226.5,1361.2 L1231.8,1359.4 L1237.0,1357.5 L1242.3,1355.5 L1247.6,1353.4 L1252.8,1351.2 L1258.1,1349.0 L1263.4,1346.6 L1268.6,1344.2 L1273.9,1341.7 L1279.2,1339.2 L1284.4,1336.6 L1289.7,1334.1 L1295.0,1331.6 L1300.2,1329.1 L1305.5,1326.6 L1310.8,1324.2 L1316.0,1321.9 L1321.3,1319.8 L1326.6,1317.7 L1331.8,1315.8 L1337.1,1314.1 L1342.4,1312.6 L1347.6,1311.2 L1352.9,1310.1 L1358.2,1309.2 L1363.4,1308.6 L1368.7,1308.2 L1374.0,1308.1 L1379.2,1308.2 L1384.5,1308.5 L1389.8,1309.2 L1395.0,1310.0 L1400.3,1311.1 L1405.6,1312.4 L1410.8,1314.0 L1416.1,1315.7 L1421.4,1317.6 L1426.6,1319.6 L1431.9,1321.8 L1437.2,1324.1 L1442.4,1326.4 L1447.7,1328.8 L1453.0,1331.2 L1458.2,1333.6 L1463.5,1335.9 L1468.8,1338.2 L1474.0,1340.4 L1479.3,1342.5 L1484.6,1344.4 L1489.8,1346.1 L1495.1,1347.7 L1500.4,1349.0 L1505.6,1350.2 L1510.9,1351.1 L1516.2,1351.7 L1521.5,1352.1 L1526.7,1352.3 L1532.0,1352.2 L1537.3,1351.8 L1542.5,1351.2 L1547.8,1350.4 L1553.1,1349.3 L1558.3,1348.1 L1563.6,1346.6 L1568.9,1345.0 L1574.1,1343.3 L1579.4,1341.4 L1584.7,1339.5 L1589.9,1337.5 L1595.2,1335.5 L1600.5,1333.5 L1605.7,1331.5 L1611.0,1329.6 L1616.3,1327.9 L1621.5,1326.2 L1626.8,1324.7 L1632.1,1323.4 L1637.3,1322.4 L1642.6,1321.5 L1647.9,1320.9 L1653.1,1320.6 L1658.4,1320.6 L1663.7,1320.9 L1668.9,1321.4 L1674.2,1322.3" fill="none" stroke="#E76BF3" stroke-width="1.2"/>
<path d="M1047.4,1411.4 L1047.4,1390.0 L1052.7,1388.4 L1057.9,1386.6 L1063.2,1384.8 L1068.5,1382.9 L1073.7,1380.8 L1079.0,1378.7 L1084.3,1376.6 L1089.5,1374.3 L1094.8,1371.9 L1100.1,1369.5 L1105.3,1367.0 L1110.6,1364.4 L1115.9,1361.8 L1121.1,1359.0 L1126.4,1356.3 L1131.7,1353.4 L1136.9,1350.6 L1142.2,1347.6 L1147.5,1344.7 L1152.7,1341.8 L1158.0,1338.8 L1163.3,1335.9 L1168.5,1332.9 L1173.8,1330.0 L1179.1,1327.2 L1184.3,1324.3 L1189.6,1321.6 L1194.9,1318.9 L1200.1,1316.4 L1205.4,1313.9 L1210.7,1311.6 L1216.0,1309.4 L1221.2,1307.3 L1226.5,1305.4 L1231.8,1303.6 L1237.0,1302.0 L1242.3,1300.6 L1247.6,1299.4 L1252.8,1298.4 L1258.1,1297.6 L1263.4,1297.0 L1268.6,1296.7 L1273.9,1296.5 L1279.2,1296.5 L1284.4,1296.8 L1289.7,1297.3 L1295.0,1297.9 L1300.2,1298.8 L1305.5,1299.9 L1310.8,1301.2 L1316.0,1302.6 L1321.3,1304.3 L1326.6,1306.1 L1331.8,1308.0 L1337.1,1310.1 L1342.4,1312.3 L1347.6,1314.6 L1352.9,1317.1 L1358.2,1319.6 L1363.4,1322.2 L1368.7,1324.8 L1374.0,1327.5 L1379.2,1330.2 L1384.5,1333.0 L1389.8,1335.7 L1395.0,1338.4 L1400.3,1341.0 L1405.6,1343.7 L1410.8,1346.2 L1416.1,1348.7 L1421.4,1351.0 L1426.6,1353.3 L1431.9,1355.5 L1437.2,1357.5 L1442.4,1359.4 L1447.7,1361.1 L1453.0,1362.7 L1458.2,1364.2 L1463.5,1365.4 L1468.8,1366.5 L1474.0,1367.4 L1479.3,1368.2 L1484.6,1368.7 L1489.8,1369.1 L1495.1,1369.3 L1500.4,1369.3 L1505.6,1369.1 L1510.9,1368.8 L1516.2,1368.3 L1521.5,1367.6 L1526.7,1366.8 L1532.0,1365.8 L1537.3,1364.7 L1542.5,1363.5 L1547.8,1362.2 L1553.1,1360.8 L1558.3,1359.3 L1563.6,1357.8 L1568.9,1356.2 L1574.1,1354.6 L1579.4,1353.0 L1584.7,1351.5 L1589.9,1350.0 L1595.2,1348.5 L1600.5,1347.2 L1605.7,1345.9 L1611.0,1344.8 L1616.3,1343.8 L1621.5,1342.9 L1626.8,1342.3 L1632.1,1341.8 L1637.3,1341.5 L1642.6,1341.5 L1647.9,1341.6 L1653.1,1342.0 L1658.4,1342.5 L1663.7,1343.3 L1668.9,1344.3 L1674.2,1345.5 L1674.2,1411.4 Z" fill="#FF62BC" fill-opacity="0.6" stroke="none"/>
<path d="M1047.4,1390.0 L1052.7,1388.4 L1057.9,1386.6 L1063.2,1384.8 L1068.5,1382.9 L1073.7,1380.8 L1079.0,1378.7 L1084.3,1376.6 L1089.5,1374.3 L1094.8,1371.9 L1100.1,1369.5 L1105.3,1367.0 L1110.6,1364.4 L1115.9,1361.8 L1121.1,1359.0 L1126.4,1356.3 L1131.7,1353.4 L1136.9,1350.6 L1142.2,1347.6 L1147.5,1344.7 L1152.7,1341.8 L1158.0,1338.8 L1163.3,1335.9 L1168.5,1332.9 L1173.8,1330.0 L1179.1,1327.2 L1184.3,1324.3 L1189.6,1321.6 L1194.9,1318.9 L1200.1,1316.4 L1205.4,1313.9 L1210.7,1311.6 L1216.0,1309.4 L1221.2,1307.3 L1226.5,1305.4 L1231.8,1303.6 L1237.0,1302.0 L1242.3,1300.6 L1247.6,1299.4 L1252.8,1298.4 L1258.1,1297.6 L1263.4,1297.0 L1268.6,1296.7 L1273.9,1296.5 L1279.2,1296.5 L1284.4,1296.8 L1289.7,1297.3 L1295.0,1297.9 L1300.2,1298.8 L1305.5,1299.9 L1310.8,1301.2 L1316.0,1302.6 L1321.3,1304.3 L1326.6,1306.1 L1331.8,1308.0 L1337.1,1310.1 L1342.4,1312.3 L1347.6,1314.6 L1352.9,1317.1 L1358.2,1319.6 L1363.4,1322.2 L1368.7,1324.8 L1374.0,1327.5 L1379.2,1330.2 L1384.5,1333.0 L1389.8,1335.7 L1395.0,1338.4 L1400.3,1341.0 L1405.6,1343.7 L1410.8,1346.2 L1416.1,1348.7 L1421.4,1351.0 L1426.6,1353.3 L1431.9,1355.5 L1437.2,1357.5 L1442.4,1359.4 L1447.7,1361.1 L1453.0,1362.7 L1458.2,1364.2 L1463.5,1365.4 L1468.8,1366.5 L1474.0,1367.4 L1479.3,1368.2 L1484.6,1368.7 L1489.8,1369.1 L1495.1,1369.3 L1500.4,1369.3 L1505.6,1369.1 L1510.9,1368.8 L1516.2,1368.3 L1521.5,1367.6 L1526.7,1366.8 L1532.0,1365.8 L1537.3,1364.7 L1542.5,1363.5 L1547.8,1362.2 L1553.1,1360.8 L1558.3,1359.3 L1563.6,1357.8 L1568.9,1356.2 L1574.1,1354.6 L1579.4,1353.0 L1584.7,1351.5 L1589.9,1350.0 L1595.2,1348.5 L1600.5,1347.2 L1605.7,1345.9 L1611.0,1344.8 L1616.3,1343.8 L1621.5,1342.9 L1626.8,1342.3 L1632.1,1341.8 L1637.3,1341.5 L1642.6,1341.5 L1647.9,1341.6 L1653.1,1342.0 L1658.4,1342.5 L1663.7,1343.3 L1668.9,1344.3 L1674.2,1345.5" fill="none" stroke="#FF62BC" stroke-width="1.2"/>
<line x1="1319.1" y1="1183" x2="1319.1" y2="1422.6" stroke="#1a1a1a" stroke-width="2.6" stroke-dasharray="7.6,7.9"/>
<line x1="1017" y1="1179" x2="1017" y2="1423.6999999999998" stroke="#000" stroke-width="2.3"/>
<line x1="1015.9" y1="1422.6" x2="1705" y2="1422.6" stroke="#000" stroke-width="2.3"/>
<line x1="1047.4" y1="1422.6" x2="1047.4" y2="1430.6" stroke="#000" stroke-width="2.3"/>
<text x="1047.4" y="1451.6" text-anchor="middle" font-size="17.8" fill="#4D4D4D">0.00</text>
<line x1="1204.1" y1="1422.6" x2="1204.1" y2="1430.6" stroke="#000" stroke-width="2.3"/>
<text x="1204.1" y="1451.6" text-anchor="middle" font-size="17.8" fill="#4D4D4D">0.25</text>
<line x1="1360.8" y1="1422.6" x2="1360.8" y2="1430.6" stroke="#000" stroke-width="2.3"/>
<text x="1360.8" y="1451.6" text-anchor="middle" font-size="17.8" fill="#4D4D4D">0.50</text>
<line x1="1517.5" y1="1422.6" x2="1517.5" y2="1430.6" stroke="#000" stroke-width="2.3"/>
<text x="1517.5" y="1451.6" text-anchor="middle" font-size="17.8" fill="#4D4D4D">0.75</text>
<line x1="1674.2" y1="1422.6" x2="1674.2" y2="1430.6" stroke="#000" stroke-width="2.3"/>
<text x="1674.2" y="1451.6" text-anchor="middle" font-size="17.8" fill="#4D4D4D">1.00</text>
<line x1="1009" y1="1411.4" x2="1017" y2="1411.4" stroke="#000" stroke-width="2.3"/>
<text x="999.5" y="1417.7" text-anchor="end" font-size="17.8" fill="#4D4D4D">0</text>
<line x1="1009" y1="1329.9" x2="1017" y2="1329.9" stroke="#000" stroke-width="2.3"/>
<text x="999.5" y="1336.2" text-anchor="end" font-size="17.8" fill="#4D4D4D">1</text>
<line x1="1009" y1="1248.4" x2="1017" y2="1248.4" stroke="#000" stroke-width="2.3"/>
<text x="999.5" y="1254.7" text-anchor="end" font-size="17.8" fill="#4D4D4D">2</text>
<text x="1360.6" y="1155.1" text-anchor="middle" font-size="21.5" fill="#111">Density</text>
<text x="1360" y="1483.1" text-anchor="middle" font-size="21" fill="#1a1a1a">Value</text>
<text transform="translate(967,1300.8) rotate(-90)" text-anchor="middle" font-size="21" fill="#1a1a1a">density</text>
<text x="1114" y="1582.1" font-size="18" fill="#1a1a1a">Year</text>
<rect x="1163.0" y="1546.1" width="28" height="28.3" fill="#F8766D" fill-opacity="0.6" stroke="#333" stroke-width="2"/>
<text x="1202.0" y="1566.1" font-size="17.5" fill="#1a1a1a">2011</text>
<rect x="1163.0" y="1576.3999999999999" width="28" height="28.3" fill="#D89000" fill-opacity="0.6" stroke="#333" stroke-width="2"/>
<text x="1202.0" y="1596.3999999999999" font-size="17.5" fill="#1a1a1a">2012</text>
<rect x="1254.0" y="1546.1" width="28" height="28.3" fill="#A3A500" fill-opacity="0.6" stroke="#333" stroke-width="2"/>
<text x="1293.0" y="1566.1" font-size="17.5" fill="#1a1a1a">2013</text>
<rect x="1254.0" y="1576.3999999999999" width="28" height="28.3" fill="#39B600" fill-opacity="0.6" stroke="#333" stroke-width="2"/>
<text x="1293.0" y="1596.3999999999999" font-size="17.5" fill="#1a1a1a">2014</text>
<rect x="1345.0" y="1546.1" width="28" height="28.3" fill="#00BF7D" fill-opacity="0.6" stroke="#333" stroke-width="2"/>
<text x="1384.0" y="1566.1" font-size="17.5" fill="#1a1a1a">2015</text>
<rect x="1345.0" y="1576.3999999999999" width="28" height="28.3" fill="#00BFC4" fill-opacity="0.6" stroke="#333" stroke-width="2"/>
<text x="1384.0" y="1596.3999999999999" font-size="17.5" fill="#1a1a1a">2016</text>
<rect x="1436.0" y="1546.1" width="28" height="28.3" fill="#00B0F6" fill-opacity="0.6" stroke="#333" stroke-width="2"/>
<text x="1475.0" y="1566.1" font-size="17.5" fill="#1a1a1a">2017</text>
<rect x="1436.0" y="1576.3999999999999" width="28" height="28.3" fill="#9590FF" fill-opacity="0.6" stroke="#333" stroke-width="2"/>
<text x="1475.0" y="1596.3999999999999" font-size="17.5" fill="#1a1a1a">2018</text>
<rect x="1527.0" y="1546.1" width="28" height="28.3" fill="#E76BF3" fill-opacity="0.6" stroke="#333" stroke-width="2"/>
<text x="1566.0" y="1566.1" font-size="17.5" fill="#1a1a1a">2019</text>
<rect x="1527.0" y="1576.3999999999999" width="28" height="28.3" fill="#FF62BC" fill-opacity="0.6" stroke="#333" stroke-width="2"/>
<text x="1566.0" y="1596.3999999999999" font-size="17.5" fill="#1a1a1a">2020</text>
</svg></body></html>
